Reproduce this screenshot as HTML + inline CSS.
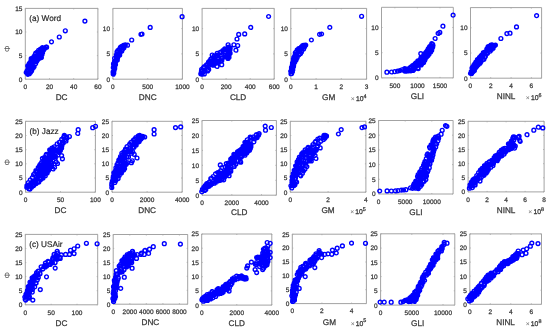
<!DOCTYPE html>
<html><head><meta charset="utf-8"><title>Figure</title>
<style>html,body{margin:0;padding:0;background:#fff;overflow:hidden}svg{display:block}</style>
</head><body>
<svg width="550" height="332" viewBox="0 0 550 332">
<rect width="550" height="332" fill="#fff"/>
<path d="M25.3 8.4H97.9V79.2H25.3ZM112.9 8.4H182.4V79.2H112.9ZM202.1 8.4H274.2V79.2H202.1ZM290.8 8.4H366.6V79.2H290.8ZM381.5 7.3H453.3V77.9H381.5ZM470.5 7.6H541.6V78.2H470.5ZM25.5 121.3H95.4V192.2H25.5ZM112 121.3H182.2V192.2H112ZM202 120.5H276.4V195.2H202ZM290.3 121.3H365.9V192.2H290.3ZM378.6 120.5H453.1V194H378.6ZM468.1 121.3H544.1V191.9H468.1ZM25.3 234.4H97.7V304.8H25.3ZM113.2 234.5H187.7V304.2H113.2ZM201.7 234H271.8V305.1H201.7ZM292.3 234.2H366.4V303.6H292.3ZM380.6 233.8H454.8V305.1H380.6ZM469.8 233.9H541.5V304.3H469.8Z" fill="none" stroke="#a3a3a3" stroke-width="1.0"/>
<path d="M25.3 79.2v-1.0M25.3 8.4v1.0M49.5 79.2v-1.0M49.5 8.4v1.0M73.7 79.2v-1.0M73.7 8.4v1.0M97.9 79.2v-1.0M97.9 8.4v1.0M25.3 79.2h1.0M97.9 79.2h-1.0M25.3 55.6h1.0M97.9 55.6h-1.0M25.3 32h1.0M97.9 32h-1.0M25.3 8.4h1.0M97.9 8.4h-1.0M112.9 79.2v-1.0M112.9 8.4v1.0M147.7 79.2v-1.0M147.7 8.4v1.0M182.4 79.2v-1.0M182.4 8.4v1.0M112.9 79.2h1.0M182.4 79.2h-1.0M112.9 53.9h1.0M182.4 53.9h-1.0M112.9 28.6h1.0M182.4 28.6h-1.0M202.1 79.2v-1.0M202.1 8.4v1.0M226.1 79.2v-1.0M226.1 8.4v1.0M250.2 79.2v-1.0M250.2 8.4v1.0M274.2 79.2v-1.0M274.2 8.4v1.0M202.1 79.2h1.0M274.2 79.2h-1.0M202.1 53.9h1.0M274.2 53.9h-1.0M202.1 28.6h1.0M274.2 28.6h-1.0M290.8 79.2v-1.0M290.8 8.4v1.0M316.1 79.2v-1.0M316.1 8.4v1.0M341.3 79.2v-1.0M341.3 8.4v1.0M366.6 79.2v-1.0M366.6 8.4v1.0M290.8 79.2h1.0M366.6 79.2h-1.0M290.8 53.9h1.0M366.6 53.9h-1.0M290.8 28.6h1.0M366.6 28.6h-1.0M394.9 77.9v-1.0M394.9 7.3v1.0M417.4 77.9v-1.0M417.4 7.3v1.0M440 77.9v-1.0M440 7.3v1.0M381.5 77.9h1.0M453.3 77.9h-1.0M381.5 52.7h1.0M453.3 52.7h-1.0M381.5 27.5h1.0M453.3 27.5h-1.0M470.4 78.2v-1.0M470.4 7.6v1.0M490.7 78.2v-1.0M490.7 7.6v1.0M511.1 78.2v-1.0M511.1 7.6v1.0M531.4 78.2v-1.0M531.4 7.6v1.0M470.5 78.2h1.0M541.6 78.2h-1.0M470.5 53h1.0M541.6 53h-1.0M470.5 27.8h1.0M541.6 27.8h-1.0M25.5 192.2v-1.0M25.5 121.3v1.0M60.5 192.2v-1.0M60.5 121.3v1.0M95.4 192.2v-1.0M95.4 121.3v1.0M25.5 192.2h1.0M95.4 192.2h-1.0M25.5 178h1.0M95.4 178h-1.0M25.5 163.8h1.0M95.4 163.8h-1.0M25.5 149.7h1.0M95.4 149.7h-1.0M25.5 135.5h1.0M95.4 135.5h-1.0M25.5 121.3h1.0M95.4 121.3h-1.0M112 192.2v-1.0M112 121.3v1.0M147.1 192.2v-1.0M147.1 121.3v1.0M182.2 192.2v-1.0M182.2 121.3v1.0M112 192.2h1.0M182.2 192.2h-1.0M112 178h1.0M182.2 178h-1.0M112 163.8h1.0M182.2 163.8h-1.0M112 149.7h1.0M182.2 149.7h-1.0M112 135.5h1.0M182.2 135.5h-1.0M112 121.3h1.0M182.2 121.3h-1.0M202 195.2v-1.0M202 120.5v1.0M231.8 195.2v-1.0M231.8 120.5v1.0M261.5 195.2v-1.0M261.5 120.5v1.0M202 195.2h1.0M276.4 195.2h-1.0M202 180.3h1.0M276.4 180.3h-1.0M202 165.3h1.0M276.4 165.3h-1.0M202 150.4h1.0M276.4 150.4h-1.0M202 135.4h1.0M276.4 135.4h-1.0M202 120.5h1.0M276.4 120.5h-1.0M290.3 192.2v-1.0M290.3 121.3v1.0M328.1 192.2v-1.0M328.1 121.3v1.0M365.9 192.2v-1.0M365.9 121.3v1.0M290.3 192.2h1.0M365.9 192.2h-1.0M290.3 178h1.0M365.9 178h-1.0M290.3 163.8h1.0M365.9 163.8h-1.0M290.3 149.7h1.0M365.9 149.7h-1.0M290.3 135.5h1.0M365.9 135.5h-1.0M290.3 121.3h1.0M365.9 121.3h-1.0M378.6 194v-1.0M378.6 120.5v1.0M405.2 194v-1.0M405.2 120.5v1.0M431.8 194v-1.0M431.8 120.5v1.0M378.6 194h1.0M453.1 194h-1.0M378.6 179.3h1.0M453.1 179.3h-1.0M378.6 164.6h1.0M453.1 164.6h-1.0M378.6 149.9h1.0M453.1 149.9h-1.0M378.6 135.2h1.0M453.1 135.2h-1.0M378.6 120.5h1.0M453.1 120.5h-1.0M468.1 191.9v-1.0M468.1 121.3v1.0M487.1 191.9v-1.0M487.1 121.3v1.0M506.1 191.9v-1.0M506.1 121.3v1.0M525.1 191.9v-1.0M525.1 121.3v1.0M544.1 191.9v-1.0M544.1 121.3v1.0M468.1 191.9h1.0M544.1 191.9h-1.0M468.1 177.8h1.0M544.1 177.8h-1.0M468.1 163.7h1.0M544.1 163.7h-1.0M468.1 149.5h1.0M544.1 149.5h-1.0M468.1 135.4h1.0M544.1 135.4h-1.0M468.1 121.3h1.0M544.1 121.3h-1.0M25.3 304.8v-1.0M25.3 234.4v1.0M51.2 304.8v-1.0M51.2 234.4v1.0M77 304.8v-1.0M77 234.4v1.0M25.3 304.8h1.0M97.7 304.8h-1.0M25.3 290.7h1.0M97.7 290.7h-1.0M25.3 276.6h1.0M97.7 276.6h-1.0M25.3 262.6h1.0M97.7 262.6h-1.0M25.3 248.5h1.0M97.7 248.5h-1.0M25.3 234.4h1.0M97.7 234.4h-1.0M113.2 304.2v-1.0M113.2 234.5v1.0M129.8 304.2v-1.0M129.8 234.5v1.0M146.3 304.2v-1.0M146.3 234.5v1.0M162.9 304.2v-1.0M162.9 234.5v1.0M179.4 304.2v-1.0M179.4 234.5v1.0M113.2 304.2h1.0M187.7 304.2h-1.0M113.2 290.3h1.0M187.7 290.3h-1.0M113.2 276.3h1.0M187.7 276.3h-1.0M113.2 262.4h1.0M187.7 262.4h-1.0M113.2 248.4h1.0M187.7 248.4h-1.0M113.2 234.5h1.0M187.7 234.5h-1.0M201.7 305.1v-1.0M201.7 234v1.0M236.8 305.1v-1.0M236.8 234v1.0M271.8 305.1v-1.0M271.8 234v1.0M201.7 305.1h1.0M271.8 305.1h-1.0M201.7 290.9h1.0M271.8 290.9h-1.0M201.7 276.7h1.0M271.8 276.7h-1.0M201.7 262.4h1.0M271.8 262.4h-1.0M201.7 248.2h1.0M271.8 248.2h-1.0M201.7 234h1.0M271.8 234h-1.0M292.3 303.6v-1.0M292.3 234.2v1.0M321.9 303.6v-1.0M321.9 234.2v1.0M351.6 303.6v-1.0M351.6 234.2v1.0M292.3 303.6h1.0M366.4 303.6h-1.0M292.3 289.7h1.0M366.4 289.7h-1.0M292.3 275.8h1.0M366.4 275.8h-1.0M292.3 262h1.0M366.4 262h-1.0M292.3 248.1h1.0M366.4 248.1h-1.0M292.3 234.2h1.0M366.4 234.2h-1.0M380.6 305.1v-1.0M380.6 233.8v1.0M411.8 305.1v-1.0M411.8 233.8v1.0M443 305.1v-1.0M443 233.8v1.0M380.6 305.1h1.0M454.8 305.1h-1.0M380.6 290.8h1.0M454.8 290.8h-1.0M380.6 276.6h1.0M454.8 276.6h-1.0M380.6 262.3h1.0M454.8 262.3h-1.0M380.6 248.1h1.0M454.8 248.1h-1.0M380.6 233.8h1.0M454.8 233.8h-1.0M469.8 304.3v-1.0M469.8 233.9v1.0M490.3 304.3v-1.0M490.3 233.9v1.0M510.8 304.3v-1.0M510.8 233.9v1.0M531.3 304.3v-1.0M531.3 233.9v1.0M469.8 304.3h1.0M541.5 304.3h-1.0M469.8 290.2h1.0M541.5 290.2h-1.0M469.8 276.1h1.0M541.5 276.1h-1.0M469.8 262.1h1.0M541.5 262.1h-1.0M469.8 248h1.0M541.5 248h-1.0M469.8 233.9h1.0M541.5 233.9h-1.0" fill="none" stroke="#a3a3a3" stroke-width="0.8"/>
<g font-family="Liberation Sans, Arial, Helvetica, sans-serif" fill="#3a3a3a" stroke="#3a3a3a" stroke-width="0.26" text-rendering="geometricPrecision">
<text x="25.3" y="89" font-size="6.5" text-anchor="middle">0</text>
<text x="49.5" y="89" font-size="6.5" text-anchor="middle">20</text>
<text x="73.7" y="89" font-size="6.5" text-anchor="middle">40</text>
<text x="97.9" y="89" font-size="6.5" text-anchor="middle">60</text>
<text x="22.4" y="81.5" font-size="6.5" text-anchor="end">0</text>
<text x="22.4" y="58" font-size="6.5" text-anchor="end">5</text>
<text x="22.4" y="34.4" font-size="6.5" text-anchor="end">10</text>
<text x="22.4" y="10.8" font-size="6.5" text-anchor="end">15</text>
<text x="61.6" y="100.1" font-size="8.2" text-anchor="middle">DC</text>
<text x="29.3" y="20.6" font-size="8.2" fill="#262626" stroke="#262626" stroke-width="0.18">(a) Word</text>
<text x="0" y="0" font-size="8.2" text-anchor="middle" stroke="none" fill="#555" transform="translate(10.2 48.7) rotate(-90)">Φ</text>
<text x="112.9" y="89" font-size="6.5" text-anchor="middle">0</text>
<text x="147.7" y="89" font-size="6.5" text-anchor="middle">500</text>
<text x="182.4" y="89" font-size="6.5" text-anchor="middle">1000</text>
<text x="110" y="81.5" font-size="6.5" text-anchor="end">0</text>
<text x="110" y="56.3" font-size="6.5" text-anchor="end">5</text>
<text x="110" y="31" font-size="6.5" text-anchor="end">10</text>
<text x="147.7" y="100.1" font-size="8.2" text-anchor="middle">DNC</text>
<text x="202.1" y="89" font-size="6.5" text-anchor="middle">0</text>
<text x="226.1" y="89" font-size="6.5" text-anchor="middle">200</text>
<text x="250.2" y="89" font-size="6.5" text-anchor="middle">400</text>
<text x="274.2" y="89" font-size="6.5" text-anchor="middle">600</text>
<text x="199.2" y="81.5" font-size="6.5" text-anchor="end">0</text>
<text x="199.2" y="56.3" font-size="6.5" text-anchor="end">5</text>
<text x="199.2" y="31" font-size="6.5" text-anchor="end">10</text>
<text x="238.1" y="100.1" font-size="8.2" text-anchor="middle">CLD</text>
<text x="290.8" y="89" font-size="6.5" text-anchor="middle">0</text>
<text x="316.1" y="89" font-size="6.5" text-anchor="middle">1</text>
<text x="341.3" y="89" font-size="6.5" text-anchor="middle">2</text>
<text x="366.6" y="89" font-size="6.5" text-anchor="middle">3</text>
<text x="287.9" y="81.5" font-size="6.5" text-anchor="end">0</text>
<text x="287.9" y="56.3" font-size="6.5" text-anchor="end">5</text>
<text x="287.9" y="31" font-size="6.5" text-anchor="end">10</text>
<text x="328.7" y="100.1" font-size="8.2" text-anchor="middle">GM</text>
<text x="366.5" y="101.2" font-size="6.8" text-anchor="end"><tspan stroke="none" fill="#555">×</tspan><tspan dx="1.1">10</tspan><tspan font-size="5.4" dy="-3.4">4</tspan></text>
<text x="394.9" y="87.7" font-size="6.5" text-anchor="middle">500</text>
<text x="417.4" y="87.7" font-size="6.5" text-anchor="middle">1000</text>
<text x="440" y="87.7" font-size="6.5" text-anchor="middle">1500</text>
<text x="378.6" y="80.2" font-size="6.5" text-anchor="end">0</text>
<text x="378.6" y="55" font-size="6.5" text-anchor="end">5</text>
<text x="378.6" y="29.8" font-size="6.5" text-anchor="end">10</text>
<text x="417.4" y="98.8" font-size="8.2" text-anchor="middle">GLI</text>
<text x="470.4" y="88" font-size="6.5" text-anchor="middle">0</text>
<text x="490.7" y="88" font-size="6.5" text-anchor="middle">2</text>
<text x="511.1" y="88" font-size="6.5" text-anchor="middle">4</text>
<text x="531.4" y="88" font-size="6.5" text-anchor="middle">6</text>
<text x="467.6" y="80.5" font-size="6.5" text-anchor="end">0</text>
<text x="467.6" y="55.3" font-size="6.5" text-anchor="end">5</text>
<text x="467.6" y="30.1" font-size="6.5" text-anchor="end">10</text>
<text x="506.1" y="99.1" font-size="8.2" text-anchor="middle">NINL</text>
<text x="541.5" y="100.2" font-size="6.8" text-anchor="end"><tspan stroke="none" fill="#555">×</tspan><tspan dx="1.1">10</tspan><tspan font-size="5.4" dy="-3.4">6</tspan></text>
<text x="25.5" y="202" font-size="6.5" text-anchor="middle">0</text>
<text x="60.5" y="202" font-size="6.5" text-anchor="middle">50</text>
<text x="95.4" y="202" font-size="6.5" text-anchor="middle">100</text>
<text x="22.6" y="194.5" font-size="6.5" text-anchor="end">0</text>
<text x="22.6" y="180.4" font-size="6.5" text-anchor="end">5</text>
<text x="22.6" y="166.2" font-size="6.5" text-anchor="end">10</text>
<text x="22.6" y="152" font-size="6.5" text-anchor="end">15</text>
<text x="22.6" y="137.8" font-size="6.5" text-anchor="end">20</text>
<text x="22.6" y="123.6" font-size="6.5" text-anchor="end">25</text>
<text x="60.5" y="213.1" font-size="8.2" text-anchor="middle">DC</text>
<text x="29.5" y="133.5" font-size="8.2" fill="#262626" stroke="#262626" stroke-width="0.18">(b) Jazz</text>
<text x="0" y="0" font-size="8.2" text-anchor="middle" stroke="none" fill="#555" transform="translate(10.2 162.2) rotate(-90)">Φ</text>
<text x="112" y="202" font-size="6.5" text-anchor="middle">0</text>
<text x="147.1" y="202" font-size="6.5" text-anchor="middle">2000</text>
<text x="182.2" y="202" font-size="6.5" text-anchor="middle">4000</text>
<text x="109.1" y="194.5" font-size="6.5" text-anchor="end">0</text>
<text x="109.1" y="180.4" font-size="6.5" text-anchor="end">5</text>
<text x="109.1" y="166.2" font-size="6.5" text-anchor="end">10</text>
<text x="109.1" y="152" font-size="6.5" text-anchor="end">15</text>
<text x="109.1" y="137.8" font-size="6.5" text-anchor="end">20</text>
<text x="109.1" y="123.6" font-size="6.5" text-anchor="end">25</text>
<text x="147.1" y="213.1" font-size="8.2" text-anchor="middle">DNC</text>
<text x="202" y="205" font-size="6.5" text-anchor="middle">0</text>
<text x="231.8" y="205" font-size="6.5" text-anchor="middle">2000</text>
<text x="261.5" y="205" font-size="6.5" text-anchor="middle">4000</text>
<text x="199.1" y="197.5" font-size="6.5" text-anchor="end">0</text>
<text x="199.1" y="182.6" font-size="6.5" text-anchor="end">5</text>
<text x="199.1" y="167.7" font-size="6.5" text-anchor="end">10</text>
<text x="199.1" y="152.7" font-size="6.5" text-anchor="end">15</text>
<text x="199.1" y="137.8" font-size="6.5" text-anchor="end">20</text>
<text x="199.1" y="122.8" font-size="6.5" text-anchor="end">25</text>
<text x="239.2" y="214.5" font-size="8.2" text-anchor="middle">CLD</text>
<text x="290.3" y="202" font-size="6.5" text-anchor="middle">0</text>
<text x="328.1" y="202" font-size="6.5" text-anchor="middle">2</text>
<text x="365.9" y="202" font-size="6.5" text-anchor="middle">4</text>
<text x="287.4" y="194.5" font-size="6.5" text-anchor="end">0</text>
<text x="287.4" y="180.4" font-size="6.5" text-anchor="end">5</text>
<text x="287.4" y="166.2" font-size="6.5" text-anchor="end">10</text>
<text x="287.4" y="152" font-size="6.5" text-anchor="end">15</text>
<text x="287.4" y="137.8" font-size="6.5" text-anchor="end">20</text>
<text x="287.4" y="123.6" font-size="6.5" text-anchor="end">25</text>
<text x="328.1" y="213.1" font-size="8.2" text-anchor="middle">GM</text>
<text x="365.8" y="214.2" font-size="6.8" text-anchor="end"><tspan stroke="none" fill="#555">×</tspan><tspan dx="1.1">10</tspan><tspan font-size="5.4" dy="-3.4">5</tspan></text>
<text x="378.6" y="203.8" font-size="6.5" text-anchor="middle">0</text>
<text x="405.2" y="203.8" font-size="6.5" text-anchor="middle">5000</text>
<text x="431.8" y="203.8" font-size="6.5" text-anchor="middle">10000</text>
<text x="375.7" y="196.3" font-size="6.5" text-anchor="end">0</text>
<text x="375.7" y="181.7" font-size="6.5" text-anchor="end">5</text>
<text x="375.7" y="166.9" font-size="6.5" text-anchor="end">10</text>
<text x="375.7" y="152.2" font-size="6.5" text-anchor="end">15</text>
<text x="375.7" y="137.5" font-size="6.5" text-anchor="end">20</text>
<text x="375.7" y="122.8" font-size="6.5" text-anchor="end">25</text>
<text x="415.9" y="214.9" font-size="8.2" text-anchor="middle">GLI</text>
<text x="468.1" y="201.7" font-size="6.5" text-anchor="middle">0</text>
<text x="487.1" y="201.7" font-size="6.5" text-anchor="middle">2</text>
<text x="506.1" y="201.7" font-size="6.5" text-anchor="middle">4</text>
<text x="525.1" y="201.7" font-size="6.5" text-anchor="middle">6</text>
<text x="544.1" y="201.7" font-size="6.5" text-anchor="middle">8</text>
<text x="465.2" y="194.2" font-size="6.5" text-anchor="end">0</text>
<text x="465.2" y="180.1" font-size="6.5" text-anchor="end">5</text>
<text x="465.2" y="166" font-size="6.5" text-anchor="end">10</text>
<text x="465.2" y="151.9" font-size="6.5" text-anchor="end">15</text>
<text x="465.2" y="137.8" font-size="6.5" text-anchor="end">20</text>
<text x="465.2" y="123.6" font-size="6.5" text-anchor="end">25</text>
<text x="506.1" y="212.8" font-size="8.2" text-anchor="middle">NINL</text>
<text x="544" y="213.9" font-size="6.8" text-anchor="end"><tspan stroke="none" fill="#555">×</tspan><tspan dx="1.1">10</tspan><tspan font-size="5.4" dy="-3.4">8</tspan></text>
<text x="25.3" y="314.6" font-size="6.5" text-anchor="middle">0</text>
<text x="51.2" y="314.6" font-size="6.5" text-anchor="middle">50</text>
<text x="77" y="314.6" font-size="6.5" text-anchor="middle">100</text>
<text x="22.4" y="307.2" font-size="6.5" text-anchor="end">0</text>
<text x="22.4" y="293.1" font-size="6.5" text-anchor="end">5</text>
<text x="22.4" y="279" font-size="6.5" text-anchor="end">10</text>
<text x="22.4" y="264.9" font-size="6.5" text-anchor="end">15</text>
<text x="22.4" y="250.8" font-size="6.5" text-anchor="end">20</text>
<text x="22.4" y="236.8" font-size="6.5" text-anchor="end">25</text>
<text x="61.5" y="325.7" font-size="8.2" text-anchor="middle">DC</text>
<text x="29.3" y="246.6" font-size="8.2" fill="#262626" stroke="#262626" stroke-width="0.18">(c) USAir</text>
<text x="0" y="0" font-size="8.2" text-anchor="middle" stroke="none" fill="#555" transform="translate(10.2 275.3) rotate(-90)">Φ</text>
<text x="113.2" y="314" font-size="6.5" text-anchor="middle">0</text>
<text x="129.8" y="314" font-size="6.5" text-anchor="middle">2000</text>
<text x="146.3" y="314" font-size="6.5" text-anchor="middle">4000</text>
<text x="162.9" y="314" font-size="6.5" text-anchor="middle">6000</text>
<text x="179.4" y="314" font-size="6.5" text-anchor="middle">8000</text>
<text x="110.3" y="306.6" font-size="6.5" text-anchor="end">0</text>
<text x="110.3" y="292.6" font-size="6.5" text-anchor="end">5</text>
<text x="110.3" y="278.7" font-size="6.5" text-anchor="end">10</text>
<text x="110.3" y="264.7" font-size="6.5" text-anchor="end">15</text>
<text x="110.3" y="250.8" font-size="6.5" text-anchor="end">20</text>
<text x="110.3" y="236.8" font-size="6.5" text-anchor="end">25</text>
<text x="150.4" y="325.1" font-size="8.2" text-anchor="middle">DNC</text>
<text x="201.7" y="314.9" font-size="6.5" text-anchor="middle">0</text>
<text x="236.8" y="314.9" font-size="6.5" text-anchor="middle">2000</text>
<text x="271.8" y="314.9" font-size="6.5" text-anchor="middle">4000</text>
<text x="198.8" y="307.5" font-size="6.5" text-anchor="end">0</text>
<text x="198.8" y="293.2" font-size="6.5" text-anchor="end">5</text>
<text x="198.8" y="279" font-size="6.5" text-anchor="end">10</text>
<text x="198.8" y="264.8" font-size="6.5" text-anchor="end">15</text>
<text x="198.8" y="250.6" font-size="6.5" text-anchor="end">20</text>
<text x="198.8" y="236.3" font-size="6.5" text-anchor="end">25</text>
<text x="236.8" y="326" font-size="8.2" text-anchor="middle">CLD</text>
<text x="292.3" y="313.4" font-size="6.5" text-anchor="middle">0</text>
<text x="321.9" y="313.4" font-size="6.5" text-anchor="middle">2</text>
<text x="351.6" y="313.4" font-size="6.5" text-anchor="middle">4</text>
<text x="289.4" y="306" font-size="6.5" text-anchor="end">0</text>
<text x="289.4" y="292.1" font-size="6.5" text-anchor="end">5</text>
<text x="289.4" y="278.2" font-size="6.5" text-anchor="end">10</text>
<text x="289.4" y="264.3" font-size="6.5" text-anchor="end">15</text>
<text x="289.4" y="250.4" font-size="6.5" text-anchor="end">20</text>
<text x="289.4" y="236.5" font-size="6.5" text-anchor="end">25</text>
<text x="329.4" y="324.5" font-size="8.2" text-anchor="middle">GM</text>
<text x="366.3" y="325.6" font-size="6.8" text-anchor="end"><tspan stroke="none" fill="#555">×</tspan><tspan dx="1.1">10</tspan><tspan font-size="5.4" dy="-3.4">5</tspan></text>
<text x="380.6" y="314.9" font-size="6.5" text-anchor="middle">0</text>
<text x="411.8" y="314.9" font-size="6.5" text-anchor="middle">5000</text>
<text x="443" y="314.9" font-size="6.5" text-anchor="middle">10000</text>
<text x="377.7" y="307.5" font-size="6.5" text-anchor="end">0</text>
<text x="377.7" y="293.2" font-size="6.5" text-anchor="end">5</text>
<text x="377.7" y="278.9" font-size="6.5" text-anchor="end">10</text>
<text x="377.7" y="264.7" font-size="6.5" text-anchor="end">15</text>
<text x="377.7" y="250.4" font-size="6.5" text-anchor="end">20</text>
<text x="377.7" y="236.2" font-size="6.5" text-anchor="end">25</text>
<text x="417.7" y="326" font-size="8.2" text-anchor="middle">GLI</text>
<text x="469.8" y="314.1" font-size="6.5" text-anchor="middle">0</text>
<text x="490.3" y="314.1" font-size="6.5" text-anchor="middle">2</text>
<text x="510.8" y="314.1" font-size="6.5" text-anchor="middle">4</text>
<text x="531.3" y="314.1" font-size="6.5" text-anchor="middle">6</text>
<text x="466.9" y="306.7" font-size="6.5" text-anchor="end">0</text>
<text x="466.9" y="292.6" font-size="6.5" text-anchor="end">5</text>
<text x="466.9" y="278.5" font-size="6.5" text-anchor="end">10</text>
<text x="466.9" y="264.4" font-size="6.5" text-anchor="end">15</text>
<text x="466.9" y="250.3" font-size="6.5" text-anchor="end">20</text>
<text x="466.9" y="236.2" font-size="6.5" text-anchor="end">25</text>
<text x="505.6" y="325.2" font-size="8.2" text-anchor="middle">NINL</text>
<text x="541.4" y="326.3" font-size="6.8" text-anchor="end"><tspan stroke="none" fill="#555">×</tspan><tspan dx="1.1">10</tspan><tspan font-size="5.4" dy="-3.4">8</tspan></text>
</g>
<path d="M27.4 73.9 L27.9 73.9 L29.5 72.3 L32.9 67.7 L35.3 63.1 L35.4 63 L37.8 58.8 L37.9 58.6 L38 58.5 L38.2 58.3 L38.4 58.2 L38.5 58 L38.7 57.9 L41.3 56.7 L41.7 53 L41.8 52.8 L41.8 52.6 L41.9 52.3 L43.7 48.6 L43.8 48.5 L43.9 48.3 L44 48.2 L44.2 48 L44.3 47.9 L44.7 47.6 L43.8 47.6 L41 49 L36.5 53.4 L33 58.1 L29.5 64 L27.4 68.2 L27.4 73.9ZM113.4 71.6 L113.7 70.7 L116.1 61.2 L116.1 61 L117.3 57.4 L117.4 57.2 L117.5 57.1 L119.4 53.5 L119.5 53.3 L121.9 49.6 L124.1 46 L124.3 45.9 L124.4 45.7 L121.4 47.2 L119.4 49.7 L117.2 52.9 L116.1 57.4 L116.1 57.4 L114.4 64.5 L113.6 69.2 L113.4 71.6ZM200.5 73 L203 73 L207 69.5 L211 65.5 L215 61 L217 56 L214 58 L211 61.5 L207 65.5 L203 69 L200.5 73ZM292.1 69 L292.9 66 L292.9 65.7 L294.7 60.9 L294.9 60.7 L296.8 57.1 L296.9 56.9 L297 56.7 L299.9 53.2 L302.3 49.6 L302.3 49.6 L304.7 46 L304.7 45.9 L305.1 45.4 L303.8 45.7 L300.7 47.7 L298.5 49.8 L296.4 53 L294.7 57.6 L293 63.4 L292.1 69ZM404.6 71 L405.6 71.4 L408.8 71 L413.7 69.8 L418.2 68.1 L422.2 63.5 L425.3 58.6 L425.3 58.4 L425.4 58.3 L428.5 54.6 L431.6 49.9 L433.2 45.5 L432.8 44.2 L432.6 44 L431.3 45 L428.3 49.2 L428.2 49.2 L424.4 54.3 L424.3 54.5 L419.3 59.6 L419.3 59.6 L415.5 63.3 L415.4 63.3 L410.3 67.8 L410.2 67.9 L410 68 L409.9 68.1 L409.8 68.2 L404.6 70.2 L404.6 71ZM470.8 72.3 L471 72.9 L471 72.9 L473.2 70.7 L476.9 65.8 L477 65.7 L481.4 60.6 L485.1 55.7 L485.2 55.6 L488.3 51.8 L488.4 51.6 L492.2 47.9 L494.2 45.5 L494 45.3 L491.9 45.3 L488.5 47.2 L485.6 51.9 L485.4 52.1 L485.3 52.2 L485.1 52.4 L481.5 55.3 L478.6 59.5 L475.5 64.5 L475.4 64.6 L471.8 69.4 L470.8 72.3ZM29.3 185.9 L32.1 183.8 L36.5 180.4 L40.3 177.1 L43.9 173.4 L46 170.6 L47.8 166 L47.8 166 L50.1 160.5 L50.3 160.1 L50.5 159.8 L50.7 159.4 L54.6 154.8 L58 150.6 L59.8 145 L57.5 147.5 L57.3 147.7 L57 147.9 L56.7 148.1 L53.2 150.3 L50.5 152.9 L44.8 160.1 L42.6 165.1 L42.4 165.4 L42.2 165.7 L39.2 170.3 L36.8 174.2 L33.8 179.6 L33.6 179.9 L33.4 180.1 L33.2 180.4 L30 183.7 L29.3 185.9ZM115.5 177 L115.9 176.4 L115.9 176.4 L119.7 170.8 L123.2 165.4 L125.6 160.6 L126.5 155.6 L126.5 155.2 L126.7 154.8 L126.8 154.4 L127 154 L127.3 153.7 L127.6 153.4 L130.9 150 L132.4 147 L132.4 146.9 L134.3 143.2 L134.5 142.8 L134.8 142.5 L135.1 142.2 L137.8 139.5 L137.6 139.6 L133.3 143.1 L129.9 147.4 L127.1 151.1 L127 151.2 L123.6 155.5 L121 161.4 L115.6 175.9 L115.5 177ZM111 189 L113.5 189 L114 183 L116 175 L118 166 L115.5 165 L113 172 L111.3 180 L111 189ZM212.1 181.5 L222 176.5 L226.8 171.7 L232.1 165.1 L232.1 165.1 L237.5 158.4 L241.5 153 L241.7 152.8 L241.9 152.5 L245.1 149.5 L245.2 147 L243.6 148.5 L238.1 154.2 L238 154.2 L234.2 158 L230.3 163.2 L230 163.5 L229.7 163.8 L229.4 164.1 L225.8 166.5 L222.2 171.4 L221.9 171.7 L221.6 172.1 L217.7 175.3 L213.8 179.7 L213.7 179.9 L212.1 181.5ZM289.5 188 L292.5 188 L294 181 L296 173 L298.5 165 L302 157 L306 151 L307 147.5 L303 150.5 L299 156 L295.5 163 L292.5 171 L290.5 179 L289.5 188ZM415.1 186.1 L416.8 185.9 L419.9 183.5 L423.7 177.7 L428.2 162.3 L428.2 162.1 L430.5 155.4 L432.8 147.5 L432.8 147.3 L434.2 143.1 L433.3 144.7 L431.2 150 L428.9 156.6 L426.7 163.5 L426.6 163.8 L424.3 169.5 L424.1 169.9 L423.9 170.2 L419.6 176.8 L417.4 182.1 L417.3 182.4 L417.1 182.6 L415.1 186.1ZM470.1 188 L472.5 186.2 L478 180.7 L482.5 175.2 L486.9 169.5 L487.1 169.3 L496.1 160.3 L496.1 160.3 L500.7 155.8 L505.2 151.3 L505.5 151.1 L509.9 147.7 L510.1 147.6 L513.7 145.4 L511.5 142.5 L510.7 143.7 L510.5 143.9 L510.3 144.1 L505.9 148.5 L505.7 148.7 L505.5 148.9 L505.3 149 L501.2 151.1 L497 155.3 L493.7 159.6 L493.6 159.8 L493.4 160 L493.2 160.1 L488.8 163.5 L484.5 166.7 L481.3 171 L481.2 171 L476.6 176.7 L472.2 182.2 L469.5 186.8 L470.1 188ZM467.5 187 L469.5 190 L472.5 187 L477 181.5 L482 175.5 L486.5 168 L488 163 L484 166 L480 170.5 L476 175.5 L471 181.5 L467.5 187ZM23.5 300 L29 299 L31.5 294 L34 288 L36 282 L38 276 L36.5 271 L33 275 L30 279 L27 285 L24.5 292 L23.5 300ZM111 302.5 L115 302.5 L115.5 296 L116.3 290 L117 283 L117.5 276 L114 276 L112.5 282 L111.5 292 L111 302.5ZM203.7 299.5 L203.7 299.5 L205 299.5 L209.4 298.4 L214.4 294.6 L214.6 294.5 L214.9 294.3 L220.3 291.6 L225.2 289.2 L228.6 285.8 L229.3 284.3 L226.2 286.3 L220.9 290.3 L220.6 290.5 L220.3 290.6 L220 290.7 L219.7 290.8 L219.4 290.9 L214.8 291.5 L210 295.1 L209.8 295.2 L209.5 295.4 L206 297.1 L203.7 299.5ZM262.7 257.5 L262.3 262.8 L264 264.5 L265.6 264.1 L265.8 260 L265.6 256.2 L264.6 255.7 L262.7 257.5ZM290 302.5 L294.5 302.5 L295.5 298 L296 292 L296.5 284 L297 277 L293.5 278 L292 284 L290.7 292 L290 302.5ZM408.9 300.2 L413.6 299.8 L415.3 297.3 L417 292 L416 293.6 L415.8 293.8 L412.4 297.9 L412.2 298.2 L412 298.3 L411.7 298.5 L411.5 298.7 L408.9 300.2ZM433.4 261.5 L434.1 260.4 L435.8 257 L434.3 259.2 L433.4 261.5ZM470.2 298.9 L472.5 296.1 L472.7 295.8 L477.6 290.9 L480 287.4 L480 287.5 L479.8 287.7 L473.7 293.8 L469.8 298.5 L470.2 298.9ZM485.3 281.1 L488 278.5 L488.3 278.2 L492.1 275.4 L488.9 276.6 L485.3 281.1ZM504 263.6 L504.1 263.6 L504.8 263.2 L504.2 263.4 L504 263.6Z" fill="#0000ff"/>
<path d="M25.8 74.2a1.9 1.9 0 1 0 3.8 0a1.9 1.9 0 1 0 -3.8 0M27.4 73.7a1.9 1.9 0 1 0 3.8 0a1.9 1.9 0 1 0 -3.8 0M28.6 72.3a1.9 1.9 0 1 0 3.8 0a1.9 1.9 0 1 0 -3.8 0M29.7 70.7a1.9 1.9 0 1 0 3.8 0a1.9 1.9 0 1 0 -3.8 0M30.6 68.2a1.9 1.9 0 1 0 3.8 0a1.9 1.9 0 1 0 -3.8 0M31.5 67.6a1.9 1.9 0 1 0 3.8 0a1.9 1.9 0 1 0 -3.8 0M33.7 63.5a1.9 1.9 0 1 0 3.8 0a1.9 1.9 0 1 0 -3.8 0M34.8 61.4a1.9 1.9 0 1 0 3.8 0a1.9 1.9 0 1 0 -3.8 0M35.5 60.2a1.9 1.9 0 1 0 3.8 0a1.9 1.9 0 1 0 -3.8 0M36.9 58.6a1.9 1.9 0 1 0 3.8 0a1.9 1.9 0 1 0 -3.8 0M39.5 57.7a1.9 1.9 0 1 0 3.8 0a1.9 1.9 0 1 0 -3.8 0M40.1 54.5a1.9 1.9 0 1 0 3.8 0a1.9 1.9 0 1 0 -3.8 0M40.7 52.6a1.9 1.9 0 1 0 3.8 0a1.9 1.9 0 1 0 -3.8 0M41.9 49.9a1.9 1.9 0 1 0 3.8 0a1.9 1.9 0 1 0 -3.8 0M43 48.1a1.9 1.9 0 1 0 3.8 0a1.9 1.9 0 1 0 -3.8 0M44.2 47a1.9 1.9 0 1 0 3.8 0a1.9 1.9 0 1 0 -3.8 0M40.5 47.7a1.9 1.9 0 1 0 3.8 0a1.9 1.9 0 1 0 -3.8 0M38.5 49.1a1.9 1.9 0 1 0 3.8 0a1.9 1.9 0 1 0 -3.8 0M36.7 50.3a1.9 1.9 0 1 0 3.8 0a1.9 1.9 0 1 0 -3.8 0M35.2 52a1.9 1.9 0 1 0 3.8 0a1.9 1.9 0 1 0 -3.8 0M33.8 53a1.9 1.9 0 1 0 3.8 0a1.9 1.9 0 1 0 -3.8 0M33.4 54.3a1.9 1.9 0 1 0 3.8 0a1.9 1.9 0 1 0 -3.8 0M32.1 56.3a1.9 1.9 0 1 0 3.8 0a1.9 1.9 0 1 0 -3.8 0M29.3 58.5a1.9 1.9 0 1 0 3.8 0a1.9 1.9 0 1 0 -3.8 0M28.6 62a1.9 1.9 0 1 0 3.8 0a1.9 1.9 0 1 0 -3.8 0M27.4 63.4a1.9 1.9 0 1 0 3.8 0a1.9 1.9 0 1 0 -3.8 0M26.5 65.4a1.9 1.9 0 1 0 3.8 0a1.9 1.9 0 1 0 -3.8 0M25.8 65.9a1.9 1.9 0 1 0 3.8 0a1.9 1.9 0 1 0 -3.8 0M25 71.2a1.9 1.9 0 1 0 3.8 0a1.9 1.9 0 1 0 -3.8 0M24.3 72.5a1.9 1.9 0 1 0 3.8 0a1.9 1.9 0 1 0 -3.8 0M29.8 69.2a1.9 1.9 0 1 0 3.8 0a1.9 1.9 0 1 0 -3.8 0M31.4 58a1.9 1.9 0 1 0 3.8 0a1.9 1.9 0 1 0 -3.8 0M41.3 50.1a1.9 1.9 0 1 0 3.8 0a1.9 1.9 0 1 0 -3.8 0M37.3 52.1a1.9 1.9 0 1 0 3.8 0a1.9 1.9 0 1 0 -3.8 0M39.1 50.1a1.9 1.9 0 1 0 3.8 0a1.9 1.9 0 1 0 -3.8 0M42.8 48.3a1.9 1.9 0 1 0 3.8 0a1.9 1.9 0 1 0 -3.8 0M28.6 62.6a1.9 1.9 0 1 0 3.8 0a1.9 1.9 0 1 0 -3.8 0M28.1 65.6a1.9 1.9 0 1 0 3.8 0a1.9 1.9 0 1 0 -3.8 0M36.8 52.3a1.9 1.9 0 1 0 3.8 0a1.9 1.9 0 1 0 -3.8 0M41.6 48.4a1.9 1.9 0 1 0 3.8 0a1.9 1.9 0 1 0 -3.8 0M27.1 64.2a1.9 1.9 0 1 0 3.8 0a1.9 1.9 0 1 0 -3.8 0M27.4 68.1a1.9 1.9 0 1 0 3.8 0a1.9 1.9 0 1 0 -3.8 0M31.3 66.9a1.9 1.9 0 1 0 3.8 0a1.9 1.9 0 1 0 -3.8 0M37.6 52.9a1.9 1.9 0 1 0 3.8 0a1.9 1.9 0 1 0 -3.8 0M27.5 65.2a1.9 1.9 0 1 0 3.8 0a1.9 1.9 0 1 0 -3.8 0M32.2 61.8a1.9 1.9 0 1 0 3.8 0a1.9 1.9 0 1 0 -3.8 0M31.3 59.6a1.9 1.9 0 1 0 3.8 0a1.9 1.9 0 1 0 -3.8 0M26.5 67.7a1.9 1.9 0 1 0 3.8 0a1.9 1.9 0 1 0 -3.8 0M36.2 55.2a1.9 1.9 0 1 0 3.8 0a1.9 1.9 0 1 0 -3.8 0M26.4 68a1.9 1.9 0 1 0 3.8 0a1.9 1.9 0 1 0 -3.8 0M37 52.1a1.9 1.9 0 1 0 3.8 0a1.9 1.9 0 1 0 -3.8 0M32.2 66.5a1.9 1.9 0 1 0 3.8 0a1.9 1.9 0 1 0 -3.8 0M26.8 67a1.9 1.9 0 1 0 3.8 0a1.9 1.9 0 1 0 -3.8 0M38.1 57.2a1.9 1.9 0 1 0 3.8 0a1.9 1.9 0 1 0 -3.8 0M39.7 52.2a1.9 1.9 0 1 0 3.8 0a1.9 1.9 0 1 0 -3.8 0M30.1 61.7a1.9 1.9 0 1 0 3.8 0a1.9 1.9 0 1 0 -3.8 0M37.4 52.1a1.9 1.9 0 1 0 3.8 0a1.9 1.9 0 1 0 -3.8 0M32.3 58.5a1.9 1.9 0 1 0 3.8 0a1.9 1.9 0 1 0 -3.8 0M25.6 70.2a1.9 1.9 0 1 0 3.8 0a1.9 1.9 0 1 0 -3.8 0M35.5 57.7a1.9 1.9 0 1 0 3.8 0a1.9 1.9 0 1 0 -3.8 0M27.6 67.9a1.9 1.9 0 1 0 3.8 0a1.9 1.9 0 1 0 -3.8 0M36.1 59.3a1.9 1.9 0 1 0 3.8 0a1.9 1.9 0 1 0 -3.8 0M39.5 52.2a1.9 1.9 0 1 0 3.8 0a1.9 1.9 0 1 0 -3.8 0M39.9 48.9a1.9 1.9 0 1 0 3.8 0a1.9 1.9 0 1 0 -3.8 0M26 74.4a1.9 1.9 0 1 0 3.8 0a1.9 1.9 0 1 0 -3.8 0M28.5 65.4a1.9 1.9 0 1 0 3.8 0a1.9 1.9 0 1 0 -3.8 0M30.1 61.5a1.9 1.9 0 1 0 3.8 0a1.9 1.9 0 1 0 -3.8 0M30.4 61.2a1.9 1.9 0 1 0 3.8 0a1.9 1.9 0 1 0 -3.8 0M29 60.9a1.9 1.9 0 1 0 3.8 0a1.9 1.9 0 1 0 -3.8 0M29.5 59.8a1.9 1.9 0 1 0 3.8 0a1.9 1.9 0 1 0 -3.8 0M39.7 51.6a1.9 1.9 0 1 0 3.8 0a1.9 1.9 0 1 0 -3.8 0M26.7 73.5a1.9 1.9 0 1 0 3.8 0a1.9 1.9 0 1 0 -3.8 0M30.4 69a1.9 1.9 0 1 0 3.8 0a1.9 1.9 0 1 0 -3.8 0M38 52.7a1.9 1.9 0 1 0 3.8 0a1.9 1.9 0 1 0 -3.8 0M26.2 67a1.9 1.9 0 1 0 3.8 0a1.9 1.9 0 1 0 -3.8 0M25.2 73.4a1.9 1.9 0 1 0 3.8 0a1.9 1.9 0 1 0 -3.8 0M34 58.2a1.9 1.9 0 1 0 3.8 0a1.9 1.9 0 1 0 -3.8 0M39.2 49.3a1.9 1.9 0 1 0 3.8 0a1.9 1.9 0 1 0 -3.8 0M43.1 48.1a1.9 1.9 0 1 0 3.8 0a1.9 1.9 0 1 0 -3.8 0M36.5 53.1a1.9 1.9 0 1 0 3.8 0a1.9 1.9 0 1 0 -3.8 0M28.7 71.2a1.9 1.9 0 1 0 3.8 0a1.9 1.9 0 1 0 -3.8 0M37.4 58.2a1.9 1.9 0 1 0 3.8 0a1.9 1.9 0 1 0 -3.8 0M35.8 57.9a1.9 1.9 0 1 0 3.8 0a1.9 1.9 0 1 0 -3.8 0M34.7 56.3a1.9 1.9 0 1 0 3.8 0a1.9 1.9 0 1 0 -3.8 0M31.8 59.3a1.9 1.9 0 1 0 3.8 0a1.9 1.9 0 1 0 -3.8 0M83 21.1a1.9 1.9 0 1 0 3.8 0a1.9 1.9 0 1 0 -3.8 0M63.4 30.8a1.9 1.9 0 1 0 3.8 0a1.9 1.9 0 1 0 -3.8 0M57.4 37a1.9 1.9 0 1 0 3.8 0a1.9 1.9 0 1 0 -3.8 0M49.6 41.8a1.9 1.9 0 1 0 3.8 0a1.9 1.9 0 1 0 -3.8 0M44.7 47.2a1.9 1.9 0 1 0 3.8 0a1.9 1.9 0 1 0 -3.8 0M111.3 74.2a1.9 1.9 0 1 0 3.8 0a1.9 1.9 0 1 0 -3.8 0M111.9 73.1a1.9 1.9 0 1 0 3.8 0a1.9 1.9 0 1 0 -3.8 0M112.1 70.4a1.9 1.9 0 1 0 3.8 0a1.9 1.9 0 1 0 -3.8 0M112.8 67.5a1.9 1.9 0 1 0 3.8 0a1.9 1.9 0 1 0 -3.8 0M112.6 66.5a1.9 1.9 0 1 0 3.8 0a1.9 1.9 0 1 0 -3.8 0M113.6 64.5a1.9 1.9 0 1 0 3.8 0a1.9 1.9 0 1 0 -3.8 0M115.4 59.9a1.9 1.9 0 1 0 3.8 0a1.9 1.9 0 1 0 -3.8 0M115.5 58.7a1.9 1.9 0 1 0 3.8 0a1.9 1.9 0 1 0 -3.8 0M116 56.8a1.9 1.9 0 1 0 3.8 0a1.9 1.9 0 1 0 -3.8 0M117.8 55a1.9 1.9 0 1 0 3.8 0a1.9 1.9 0 1 0 -3.8 0M118.1 53a1.9 1.9 0 1 0 3.8 0a1.9 1.9 0 1 0 -3.8 0M119.9 51a1.9 1.9 0 1 0 3.8 0a1.9 1.9 0 1 0 -3.8 0M120.7 49a1.9 1.9 0 1 0 3.8 0a1.9 1.9 0 1 0 -3.8 0M122 47.7a1.9 1.9 0 1 0 3.8 0a1.9 1.9 0 1 0 -3.8 0M122.4 46.1a1.9 1.9 0 1 0 3.8 0a1.9 1.9 0 1 0 -3.8 0M123.4 44.9a1.9 1.9 0 1 0 3.8 0a1.9 1.9 0 1 0 -3.8 0M121.5 45.3a1.9 1.9 0 1 0 3.8 0a1.9 1.9 0 1 0 -3.8 0M119.8 46.3a1.9 1.9 0 1 0 3.8 0a1.9 1.9 0 1 0 -3.8 0M118.5 47.3a1.9 1.9 0 1 0 3.8 0a1.9 1.9 0 1 0 -3.8 0M117 49.5a1.9 1.9 0 1 0 3.8 0a1.9 1.9 0 1 0 -3.8 0M115.9 50.6a1.9 1.9 0 1 0 3.8 0a1.9 1.9 0 1 0 -3.8 0M115.1 51.8a1.9 1.9 0 1 0 3.8 0a1.9 1.9 0 1 0 -3.8 0M114.7 54.5a1.9 1.9 0 1 0 3.8 0a1.9 1.9 0 1 0 -3.8 0M112.7 58.3a1.9 1.9 0 1 0 3.8 0a1.9 1.9 0 1 0 -3.8 0M112.6 61.3a1.9 1.9 0 1 0 3.8 0a1.9 1.9 0 1 0 -3.8 0M112.7 63.7a1.9 1.9 0 1 0 3.8 0a1.9 1.9 0 1 0 -3.8 0M111.6 63.9a1.9 1.9 0 1 0 3.8 0a1.9 1.9 0 1 0 -3.8 0M111.4 67.5a1.9 1.9 0 1 0 3.8 0a1.9 1.9 0 1 0 -3.8 0M111.2 72.7a1.9 1.9 0 1 0 3.8 0a1.9 1.9 0 1 0 -3.8 0M112.8 68.4a1.9 1.9 0 1 0 3.8 0a1.9 1.9 0 1 0 -3.8 0M112.6 68.9a1.9 1.9 0 1 0 3.8 0a1.9 1.9 0 1 0 -3.8 0M114.7 58.6a1.9 1.9 0 1 0 3.8 0a1.9 1.9 0 1 0 -3.8 0M114.9 53.8a1.9 1.9 0 1 0 3.8 0a1.9 1.9 0 1 0 -3.8 0M122.3 46.7a1.9 1.9 0 1 0 3.8 0a1.9 1.9 0 1 0 -3.8 0M121.6 46.9a1.9 1.9 0 1 0 3.8 0a1.9 1.9 0 1 0 -3.8 0M113.6 62a1.9 1.9 0 1 0 3.8 0a1.9 1.9 0 1 0 -3.8 0M117.8 49.6a1.9 1.9 0 1 0 3.8 0a1.9 1.9 0 1 0 -3.8 0M114.6 55.7a1.9 1.9 0 1 0 3.8 0a1.9 1.9 0 1 0 -3.8 0M118.8 47.9a1.9 1.9 0 1 0 3.8 0a1.9 1.9 0 1 0 -3.8 0M112.4 68.6a1.9 1.9 0 1 0 3.8 0a1.9 1.9 0 1 0 -3.8 0M112.8 65.8a1.9 1.9 0 1 0 3.8 0a1.9 1.9 0 1 0 -3.8 0M111.2 71.9a1.9 1.9 0 1 0 3.8 0a1.9 1.9 0 1 0 -3.8 0M119.5 46.7a1.9 1.9 0 1 0 3.8 0a1.9 1.9 0 1 0 -3.8 0M114.6 58.1a1.9 1.9 0 1 0 3.8 0a1.9 1.9 0 1 0 -3.8 0M116.6 55.8a1.9 1.9 0 1 0 3.8 0a1.9 1.9 0 1 0 -3.8 0M111.6 67a1.9 1.9 0 1 0 3.8 0a1.9 1.9 0 1 0 -3.8 0M116.1 54.3a1.9 1.9 0 1 0 3.8 0a1.9 1.9 0 1 0 -3.8 0M119.9 50.2a1.9 1.9 0 1 0 3.8 0a1.9 1.9 0 1 0 -3.8 0M112.3 65.4a1.9 1.9 0 1 0 3.8 0a1.9 1.9 0 1 0 -3.8 0M114.4 55a1.9 1.9 0 1 0 3.8 0a1.9 1.9 0 1 0 -3.8 0M113 65.6a1.9 1.9 0 1 0 3.8 0a1.9 1.9 0 1 0 -3.8 0M115.6 54.4a1.9 1.9 0 1 0 3.8 0a1.9 1.9 0 1 0 -3.8 0M119.9 47.5a1.9 1.9 0 1 0 3.8 0a1.9 1.9 0 1 0 -3.8 0M112.6 63.5a1.9 1.9 0 1 0 3.8 0a1.9 1.9 0 1 0 -3.8 0M180.2 16.7a1.9 1.9 0 1 0 3.8 0a1.9 1.9 0 1 0 -3.8 0M148.3 27.4a1.9 1.9 0 1 0 3.8 0a1.9 1.9 0 1 0 -3.8 0M139.1 34.3a1.9 1.9 0 1 0 3.8 0a1.9 1.9 0 1 0 -3.8 0M140.1 34a1.9 1.9 0 1 0 3.8 0a1.9 1.9 0 1 0 -3.8 0M129.8 40a1.9 1.9 0 1 0 3.8 0a1.9 1.9 0 1 0 -3.8 0M125.6 45.2a1.9 1.9 0 1 0 3.8 0a1.9 1.9 0 1 0 -3.8 0M198.9 73.8a1.9 1.9 0 1 0 3.8 0a1.9 1.9 0 1 0 -3.8 0M202.4 73.9a1.9 1.9 0 1 0 3.8 0a1.9 1.9 0 1 0 -3.8 0M205.7 70.9a1.9 1.9 0 1 0 3.8 0a1.9 1.9 0 1 0 -3.8 0M206.8 69.5a1.9 1.9 0 1 0 3.8 0a1.9 1.9 0 1 0 -3.8 0M211.3 65.2a1.9 1.9 0 1 0 3.8 0a1.9 1.9 0 1 0 -3.8 0M211.9 64.7a1.9 1.9 0 1 0 3.8 0a1.9 1.9 0 1 0 -3.8 0M214.8 63.1a1.9 1.9 0 1 0 3.8 0a1.9 1.9 0 1 0 -3.8 0M216.2 62a1.9 1.9 0 1 0 3.8 0a1.9 1.9 0 1 0 -3.8 0M218.5 61.3a1.9 1.9 0 1 0 3.8 0a1.9 1.9 0 1 0 -3.8 0M219.9 60.5a1.9 1.9 0 1 0 3.8 0a1.9 1.9 0 1 0 -3.8 0M226.1 58.5a1.9 1.9 0 1 0 3.8 0a1.9 1.9 0 1 0 -3.8 0M227.1 57.3a1.9 1.9 0 1 0 3.8 0a1.9 1.9 0 1 0 -3.8 0M228.2 53.2a1.9 1.9 0 1 0 3.8 0a1.9 1.9 0 1 0 -3.8 0M227.5 51.8a1.9 1.9 0 1 0 3.8 0a1.9 1.9 0 1 0 -3.8 0M228.3 48.3a1.9 1.9 0 1 0 3.8 0a1.9 1.9 0 1 0 -3.8 0M226.9 47.2a1.9 1.9 0 1 0 3.8 0a1.9 1.9 0 1 0 -3.8 0M222.8 48.9a1.9 1.9 0 1 0 3.8 0a1.9 1.9 0 1 0 -3.8 0M220.9 50.6a1.9 1.9 0 1 0 3.8 0a1.9 1.9 0 1 0 -3.8 0M219 52.1a1.9 1.9 0 1 0 3.8 0a1.9 1.9 0 1 0 -3.8 0M218 52.5a1.9 1.9 0 1 0 3.8 0a1.9 1.9 0 1 0 -3.8 0M215.3 53.4a1.9 1.9 0 1 0 3.8 0a1.9 1.9 0 1 0 -3.8 0M212.2 56a1.9 1.9 0 1 0 3.8 0a1.9 1.9 0 1 0 -3.8 0M208.9 59.2a1.9 1.9 0 1 0 3.8 0a1.9 1.9 0 1 0 -3.8 0M208 60.7a1.9 1.9 0 1 0 3.8 0a1.9 1.9 0 1 0 -3.8 0M206.6 62.2a1.9 1.9 0 1 0 3.8 0a1.9 1.9 0 1 0 -3.8 0M205.7 64.1a1.9 1.9 0 1 0 3.8 0a1.9 1.9 0 1 0 -3.8 0M204.6 64.9a1.9 1.9 0 1 0 3.8 0a1.9 1.9 0 1 0 -3.8 0M202.4 66.7a1.9 1.9 0 1 0 3.8 0a1.9 1.9 0 1 0 -3.8 0M201.4 67.8a1.9 1.9 0 1 0 3.8 0a1.9 1.9 0 1 0 -3.8 0M199.7 69.3a1.9 1.9 0 1 0 3.8 0a1.9 1.9 0 1 0 -3.8 0M206.4 66.8a1.9 1.9 0 1 0 3.8 0a1.9 1.9 0 1 0 -3.8 0M210.7 61a1.9 1.9 0 1 0 3.8 0a1.9 1.9 0 1 0 -3.8 0M213 63.3a1.9 1.9 0 1 0 3.8 0a1.9 1.9 0 1 0 -3.8 0M210.6 61.1a1.9 1.9 0 1 0 3.8 0a1.9 1.9 0 1 0 -3.8 0M220.2 58.8a1.9 1.9 0 1 0 3.8 0a1.9 1.9 0 1 0 -3.8 0M226.1 55.8a1.9 1.9 0 1 0 3.8 0a1.9 1.9 0 1 0 -3.8 0M219.5 58.4a1.9 1.9 0 1 0 3.8 0a1.9 1.9 0 1 0 -3.8 0M200.1 74.2a1.9 1.9 0 1 0 3.8 0a1.9 1.9 0 1 0 -3.8 0M226.6 56.2a1.9 1.9 0 1 0 3.8 0a1.9 1.9 0 1 0 -3.8 0M202.7 70.9a1.9 1.9 0 1 0 3.8 0a1.9 1.9 0 1 0 -3.8 0M218.3 55.2a1.9 1.9 0 1 0 3.8 0a1.9 1.9 0 1 0 -3.8 0M221.9 55.1a1.9 1.9 0 1 0 3.8 0a1.9 1.9 0 1 0 -3.8 0M225.3 49.5a1.9 1.9 0 1 0 3.8 0a1.9 1.9 0 1 0 -3.8 0M202.7 67.6a1.9 1.9 0 1 0 3.8 0a1.9 1.9 0 1 0 -3.8 0M214.2 55.3a1.9 1.9 0 1 0 3.8 0a1.9 1.9 0 1 0 -3.8 0M224.2 48.8a1.9 1.9 0 1 0 3.8 0a1.9 1.9 0 1 0 -3.8 0M202 71a1.9 1.9 0 1 0 3.8 0a1.9 1.9 0 1 0 -3.8 0M208.7 63.3a1.9 1.9 0 1 0 3.8 0a1.9 1.9 0 1 0 -3.8 0M215.3 61.1a1.9 1.9 0 1 0 3.8 0a1.9 1.9 0 1 0 -3.8 0M212.1 57.7a1.9 1.9 0 1 0 3.8 0a1.9 1.9 0 1 0 -3.8 0M227 56.4a1.9 1.9 0 1 0 3.8 0a1.9 1.9 0 1 0 -3.8 0M211.1 63.9a1.9 1.9 0 1 0 3.8 0a1.9 1.9 0 1 0 -3.8 0M223.5 55.3a1.9 1.9 0 1 0 3.8 0a1.9 1.9 0 1 0 -3.8 0M222.6 51.6a1.9 1.9 0 1 0 3.8 0a1.9 1.9 0 1 0 -3.8 0M213.1 60.6a1.9 1.9 0 1 0 3.8 0a1.9 1.9 0 1 0 -3.8 0M228.1 49.6a1.9 1.9 0 1 0 3.8 0a1.9 1.9 0 1 0 -3.8 0M215.4 55.9a1.9 1.9 0 1 0 3.8 0a1.9 1.9 0 1 0 -3.8 0M226.3 49.5a1.9 1.9 0 1 0 3.8 0a1.9 1.9 0 1 0 -3.8 0M220 55.2a1.9 1.9 0 1 0 3.8 0a1.9 1.9 0 1 0 -3.8 0M226.6 54.2a1.9 1.9 0 1 0 3.8 0a1.9 1.9 0 1 0 -3.8 0M223.8 57a1.9 1.9 0 1 0 3.8 0a1.9 1.9 0 1 0 -3.8 0M225.8 57.1a1.9 1.9 0 1 0 3.8 0a1.9 1.9 0 1 0 -3.8 0M226 52.3a1.9 1.9 0 1 0 3.8 0a1.9 1.9 0 1 0 -3.8 0M199.5 71.4a1.9 1.9 0 1 0 3.8 0a1.9 1.9 0 1 0 -3.8 0M200.7 72.7a1.9 1.9 0 1 0 3.8 0a1.9 1.9 0 1 0 -3.8 0M212.8 58.5a1.9 1.9 0 1 0 3.8 0a1.9 1.9 0 1 0 -3.8 0M209.9 60.6a1.9 1.9 0 1 0 3.8 0a1.9 1.9 0 1 0 -3.8 0M224 56.6a1.9 1.9 0 1 0 3.8 0a1.9 1.9 0 1 0 -3.8 0M209.7 62.3a1.9 1.9 0 1 0 3.8 0a1.9 1.9 0 1 0 -3.8 0M227.2 51a1.9 1.9 0 1 0 3.8 0a1.9 1.9 0 1 0 -3.8 0M266.7 16.5a1.9 1.9 0 1 0 3.8 0a1.9 1.9 0 1 0 -3.8 0M248.8 27.4a1.9 1.9 0 1 0 3.8 0a1.9 1.9 0 1 0 -3.8 0M242.8 33.9a1.9 1.9 0 1 0 3.8 0a1.9 1.9 0 1 0 -3.8 0M236.8 34.4a1.9 1.9 0 1 0 3.8 0a1.9 1.9 0 1 0 -3.8 0M235.1 39a1.9 1.9 0 1 0 3.8 0a1.9 1.9 0 1 0 -3.8 0M226.2 44.8a1.9 1.9 0 1 0 3.8 0a1.9 1.9 0 1 0 -3.8 0M232 44.8a1.9 1.9 0 1 0 3.8 0a1.9 1.9 0 1 0 -3.8 0M235.8 45.5a1.9 1.9 0 1 0 3.8 0a1.9 1.9 0 1 0 -3.8 0M234 50.2a1.9 1.9 0 1 0 3.8 0a1.9 1.9 0 1 0 -3.8 0M210.3 55a1.9 1.9 0 1 0 3.8 0a1.9 1.9 0 1 0 -3.8 0M226.6 57a1.9 1.9 0 1 0 3.8 0a1.9 1.9 0 1 0 -3.8 0M219.8 64.7a1.9 1.9 0 1 0 3.8 0a1.9 1.9 0 1 0 -3.8 0M215.1 66.5a1.9 1.9 0 1 0 3.8 0a1.9 1.9 0 1 0 -3.8 0M222.5 49.5a1.9 1.9 0 1 0 3.8 0a1.9 1.9 0 1 0 -3.8 0M289.7 73.5a1.9 1.9 0 1 0 3.8 0a1.9 1.9 0 1 0 -3.8 0M290.5 72a1.9 1.9 0 1 0 3.8 0a1.9 1.9 0 1 0 -3.8 0M290.9 70a1.9 1.9 0 1 0 3.8 0a1.9 1.9 0 1 0 -3.8 0M291 67.6a1.9 1.9 0 1 0 3.8 0a1.9 1.9 0 1 0 -3.8 0M291.6 66.7a1.9 1.9 0 1 0 3.8 0a1.9 1.9 0 1 0 -3.8 0M291.9 63.7a1.9 1.9 0 1 0 3.8 0a1.9 1.9 0 1 0 -3.8 0M292.9 62.2a1.9 1.9 0 1 0 3.8 0a1.9 1.9 0 1 0 -3.8 0M294.2 60.1a1.9 1.9 0 1 0 3.8 0a1.9 1.9 0 1 0 -3.8 0M295.5 56.9a1.9 1.9 0 1 0 3.8 0a1.9 1.9 0 1 0 -3.8 0M297.2 54.9a1.9 1.9 0 1 0 3.8 0a1.9 1.9 0 1 0 -3.8 0M298.6 53.6a1.9 1.9 0 1 0 3.8 0a1.9 1.9 0 1 0 -3.8 0M299.5 52a1.9 1.9 0 1 0 3.8 0a1.9 1.9 0 1 0 -3.8 0M301.7 49.2a1.9 1.9 0 1 0 3.8 0a1.9 1.9 0 1 0 -3.8 0M302.8 46.8a1.9 1.9 0 1 0 3.8 0a1.9 1.9 0 1 0 -3.8 0M303.8 45a1.9 1.9 0 1 0 3.8 0a1.9 1.9 0 1 0 -3.8 0M302.6 45.3a1.9 1.9 0 1 0 3.8 0a1.9 1.9 0 1 0 -3.8 0M300.7 45.6a1.9 1.9 0 1 0 3.8 0a1.9 1.9 0 1 0 -3.8 0M299.5 46.8a1.9 1.9 0 1 0 3.8 0a1.9 1.9 0 1 0 -3.8 0M296.7 48.6a1.9 1.9 0 1 0 3.8 0a1.9 1.9 0 1 0 -3.8 0M295.3 49.9a1.9 1.9 0 1 0 3.8 0a1.9 1.9 0 1 0 -3.8 0M294 52a1.9 1.9 0 1 0 3.8 0a1.9 1.9 0 1 0 -3.8 0M293.4 52.8a1.9 1.9 0 1 0 3.8 0a1.9 1.9 0 1 0 -3.8 0M293 55.5a1.9 1.9 0 1 0 3.8 0a1.9 1.9 0 1 0 -3.8 0M291.9 57.4a1.9 1.9 0 1 0 3.8 0a1.9 1.9 0 1 0 -3.8 0M291.5 59a1.9 1.9 0 1 0 3.8 0a1.9 1.9 0 1 0 -3.8 0M291.5 60.7a1.9 1.9 0 1 0 3.8 0a1.9 1.9 0 1 0 -3.8 0M290.6 63a1.9 1.9 0 1 0 3.8 0a1.9 1.9 0 1 0 -3.8 0M290.4 65.4a1.9 1.9 0 1 0 3.8 0a1.9 1.9 0 1 0 -3.8 0M289.6 67.4a1.9 1.9 0 1 0 3.8 0a1.9 1.9 0 1 0 -3.8 0M289.6 68.7a1.9 1.9 0 1 0 3.8 0a1.9 1.9 0 1 0 -3.8 0M288.8 71.3a1.9 1.9 0 1 0 3.8 0a1.9 1.9 0 1 0 -3.8 0M289.1 73.7a1.9 1.9 0 1 0 3.8 0a1.9 1.9 0 1 0 -3.8 0M290.6 67.1a1.9 1.9 0 1 0 3.8 0a1.9 1.9 0 1 0 -3.8 0M300 49a1.9 1.9 0 1 0 3.8 0a1.9 1.9 0 1 0 -3.8 0M297.5 49.4a1.9 1.9 0 1 0 3.8 0a1.9 1.9 0 1 0 -3.8 0M290.8 64a1.9 1.9 0 1 0 3.8 0a1.9 1.9 0 1 0 -3.8 0M301.2 46.8a1.9 1.9 0 1 0 3.8 0a1.9 1.9 0 1 0 -3.8 0M296.7 51.6a1.9 1.9 0 1 0 3.8 0a1.9 1.9 0 1 0 -3.8 0M295.1 57.7a1.9 1.9 0 1 0 3.8 0a1.9 1.9 0 1 0 -3.8 0M293.7 57.2a1.9 1.9 0 1 0 3.8 0a1.9 1.9 0 1 0 -3.8 0M300.8 46.9a1.9 1.9 0 1 0 3.8 0a1.9 1.9 0 1 0 -3.8 0M293.4 58.9a1.9 1.9 0 1 0 3.8 0a1.9 1.9 0 1 0 -3.8 0M300.1 47.8a1.9 1.9 0 1 0 3.8 0a1.9 1.9 0 1 0 -3.8 0M296 50.3a1.9 1.9 0 1 0 3.8 0a1.9 1.9 0 1 0 -3.8 0M294.1 55.4a1.9 1.9 0 1 0 3.8 0a1.9 1.9 0 1 0 -3.8 0M301.4 45.3a1.9 1.9 0 1 0 3.8 0a1.9 1.9 0 1 0 -3.8 0M290.9 68.6a1.9 1.9 0 1 0 3.8 0a1.9 1.9 0 1 0 -3.8 0M293.3 60.7a1.9 1.9 0 1 0 3.8 0a1.9 1.9 0 1 0 -3.8 0M289.7 70.9a1.9 1.9 0 1 0 3.8 0a1.9 1.9 0 1 0 -3.8 0M293.2 58.9a1.9 1.9 0 1 0 3.8 0a1.9 1.9 0 1 0 -3.8 0M293.3 55.7a1.9 1.9 0 1 0 3.8 0a1.9 1.9 0 1 0 -3.8 0M294 54.3a1.9 1.9 0 1 0 3.8 0a1.9 1.9 0 1 0 -3.8 0M297.6 51.3a1.9 1.9 0 1 0 3.8 0a1.9 1.9 0 1 0 -3.8 0M296.9 49.5a1.9 1.9 0 1 0 3.8 0a1.9 1.9 0 1 0 -3.8 0M293.6 56.1a1.9 1.9 0 1 0 3.8 0a1.9 1.9 0 1 0 -3.8 0M294.3 55.8a1.9 1.9 0 1 0 3.8 0a1.9 1.9 0 1 0 -3.8 0M291.7 65.4a1.9 1.9 0 1 0 3.8 0a1.9 1.9 0 1 0 -3.8 0M291.2 63.7a1.9 1.9 0 1 0 3.8 0a1.9 1.9 0 1 0 -3.8 0M301.8 45.8a1.9 1.9 0 1 0 3.8 0a1.9 1.9 0 1 0 -3.8 0M296.2 49.8a1.9 1.9 0 1 0 3.8 0a1.9 1.9 0 1 0 -3.8 0M359.7 16.3a1.9 1.9 0 1 0 3.8 0a1.9 1.9 0 1 0 -3.8 0M327.9 27.4a1.9 1.9 0 1 0 3.8 0a1.9 1.9 0 1 0 -3.8 0M319.7 34a1.9 1.9 0 1 0 3.8 0a1.9 1.9 0 1 0 -3.8 0M317.7 34.4a1.9 1.9 0 1 0 3.8 0a1.9 1.9 0 1 0 -3.8 0M309.5 40a1.9 1.9 0 1 0 3.8 0a1.9 1.9 0 1 0 -3.8 0M402.8 71.2a1.9 1.9 0 1 0 3.8 0a1.9 1.9 0 1 0 -3.8 0M404 71.2a1.9 1.9 0 1 0 3.8 0a1.9 1.9 0 1 0 -3.8 0M406.2 71a1.9 1.9 0 1 0 3.8 0a1.9 1.9 0 1 0 -3.8 0M408.9 70.8a1.9 1.9 0 1 0 3.8 0a1.9 1.9 0 1 0 -3.8 0M411.1 70.4a1.9 1.9 0 1 0 3.8 0a1.9 1.9 0 1 0 -3.8 0M412 69.5a1.9 1.9 0 1 0 3.8 0a1.9 1.9 0 1 0 -3.8 0M416.3 68.6a1.9 1.9 0 1 0 3.8 0a1.9 1.9 0 1 0 -3.8 0M419.3 64.6a1.9 1.9 0 1 0 3.8 0a1.9 1.9 0 1 0 -3.8 0M420.1 63.8a1.9 1.9 0 1 0 3.8 0a1.9 1.9 0 1 0 -3.8 0M421.7 62.4a1.9 1.9 0 1 0 3.8 0a1.9 1.9 0 1 0 -3.8 0M422.8 60.2a1.9 1.9 0 1 0 3.8 0a1.9 1.9 0 1 0 -3.8 0M423.3 58.9a1.9 1.9 0 1 0 3.8 0a1.9 1.9 0 1 0 -3.8 0M424.6 57.1a1.9 1.9 0 1 0 3.8 0a1.9 1.9 0 1 0 -3.8 0M426.1 55.4a1.9 1.9 0 1 0 3.8 0a1.9 1.9 0 1 0 -3.8 0M427.2 54a1.9 1.9 0 1 0 3.8 0a1.9 1.9 0 1 0 -3.8 0M428.7 52.1a1.9 1.9 0 1 0 3.8 0a1.9 1.9 0 1 0 -3.8 0M429.8 50.3a1.9 1.9 0 1 0 3.8 0a1.9 1.9 0 1 0 -3.8 0M429.9 48.2a1.9 1.9 0 1 0 3.8 0a1.9 1.9 0 1 0 -3.8 0M430.8 47.1a1.9 1.9 0 1 0 3.8 0a1.9 1.9 0 1 0 -3.8 0M430.8 44.3a1.9 1.9 0 1 0 3.8 0a1.9 1.9 0 1 0 -3.8 0M429.9 43.7a1.9 1.9 0 1 0 3.8 0a1.9 1.9 0 1 0 -3.8 0M428.8 45.5a1.9 1.9 0 1 0 3.8 0a1.9 1.9 0 1 0 -3.8 0M427.7 46.6a1.9 1.9 0 1 0 3.8 0a1.9 1.9 0 1 0 -3.8 0M426.4 48.5a1.9 1.9 0 1 0 3.8 0a1.9 1.9 0 1 0 -3.8 0M425.6 50.3a1.9 1.9 0 1 0 3.8 0a1.9 1.9 0 1 0 -3.8 0M424.2 52.1a1.9 1.9 0 1 0 3.8 0a1.9 1.9 0 1 0 -3.8 0M422.2 53.9a1.9 1.9 0 1 0 3.8 0a1.9 1.9 0 1 0 -3.8 0M421.8 55a1.9 1.9 0 1 0 3.8 0a1.9 1.9 0 1 0 -3.8 0M419.2 57.4a1.9 1.9 0 1 0 3.8 0a1.9 1.9 0 1 0 -3.8 0M415.9 60.8a1.9 1.9 0 1 0 3.8 0a1.9 1.9 0 1 0 -3.8 0M414 62.8a1.9 1.9 0 1 0 3.8 0a1.9 1.9 0 1 0 -3.8 0M413.2 63.7a1.9 1.9 0 1 0 3.8 0a1.9 1.9 0 1 0 -3.8 0M410.7 65.7a1.9 1.9 0 1 0 3.8 0a1.9 1.9 0 1 0 -3.8 0M409.2 66.8a1.9 1.9 0 1 0 3.8 0a1.9 1.9 0 1 0 -3.8 0M408.3 67.6a1.9 1.9 0 1 0 3.8 0a1.9 1.9 0 1 0 -3.8 0M404.5 69.2a1.9 1.9 0 1 0 3.8 0a1.9 1.9 0 1 0 -3.8 0M403.2 70a1.9 1.9 0 1 0 3.8 0a1.9 1.9 0 1 0 -3.8 0M405.3 69.6a1.9 1.9 0 1 0 3.8 0a1.9 1.9 0 1 0 -3.8 0M419.7 59.2a1.9 1.9 0 1 0 3.8 0a1.9 1.9 0 1 0 -3.8 0M415.2 63.8a1.9 1.9 0 1 0 3.8 0a1.9 1.9 0 1 0 -3.8 0M411 66.9a1.9 1.9 0 1 0 3.8 0a1.9 1.9 0 1 0 -3.8 0M426.7 53.7a1.9 1.9 0 1 0 3.8 0a1.9 1.9 0 1 0 -3.8 0M413.7 64.6a1.9 1.9 0 1 0 3.8 0a1.9 1.9 0 1 0 -3.8 0M417.9 60.6a1.9 1.9 0 1 0 3.8 0a1.9 1.9 0 1 0 -3.8 0M403.6 70a1.9 1.9 0 1 0 3.8 0a1.9 1.9 0 1 0 -3.8 0M428.9 51.3a1.9 1.9 0 1 0 3.8 0a1.9 1.9 0 1 0 -3.8 0M424.4 56.8a1.9 1.9 0 1 0 3.8 0a1.9 1.9 0 1 0 -3.8 0M429.1 46.2a1.9 1.9 0 1 0 3.8 0a1.9 1.9 0 1 0 -3.8 0M417.8 64.4a1.9 1.9 0 1 0 3.8 0a1.9 1.9 0 1 0 -3.8 0M419.1 59.2a1.9 1.9 0 1 0 3.8 0a1.9 1.9 0 1 0 -3.8 0M416 64.7a1.9 1.9 0 1 0 3.8 0a1.9 1.9 0 1 0 -3.8 0M427.2 51.3a1.9 1.9 0 1 0 3.8 0a1.9 1.9 0 1 0 -3.8 0M426.4 50.6a1.9 1.9 0 1 0 3.8 0a1.9 1.9 0 1 0 -3.8 0M428 50.7a1.9 1.9 0 1 0 3.8 0a1.9 1.9 0 1 0 -3.8 0M413.7 65.3a1.9 1.9 0 1 0 3.8 0a1.9 1.9 0 1 0 -3.8 0M429.1 47.3a1.9 1.9 0 1 0 3.8 0a1.9 1.9 0 1 0 -3.8 0M416.1 63.1a1.9 1.9 0 1 0 3.8 0a1.9 1.9 0 1 0 -3.8 0M425.7 51.7a1.9 1.9 0 1 0 3.8 0a1.9 1.9 0 1 0 -3.8 0M419.9 57.9a1.9 1.9 0 1 0 3.8 0a1.9 1.9 0 1 0 -3.8 0M425.3 52.5a1.9 1.9 0 1 0 3.8 0a1.9 1.9 0 1 0 -3.8 0M410 70.1a1.9 1.9 0 1 0 3.8 0a1.9 1.9 0 1 0 -3.8 0M419.2 63.3a1.9 1.9 0 1 0 3.8 0a1.9 1.9 0 1 0 -3.8 0M425 54.4a1.9 1.9 0 1 0 3.8 0a1.9 1.9 0 1 0 -3.8 0M408.9 67.5a1.9 1.9 0 1 0 3.8 0a1.9 1.9 0 1 0 -3.8 0M418.9 58.3a1.9 1.9 0 1 0 3.8 0a1.9 1.9 0 1 0 -3.8 0M419.8 59a1.9 1.9 0 1 0 3.8 0a1.9 1.9 0 1 0 -3.8 0M414.2 65.7a1.9 1.9 0 1 0 3.8 0a1.9 1.9 0 1 0 -3.8 0M411.6 67.7a1.9 1.9 0 1 0 3.8 0a1.9 1.9 0 1 0 -3.8 0M420.9 57.7a1.9 1.9 0 1 0 3.8 0a1.9 1.9 0 1 0 -3.8 0M419.2 58.5a1.9 1.9 0 1 0 3.8 0a1.9 1.9 0 1 0 -3.8 0M423.8 53a1.9 1.9 0 1 0 3.8 0a1.9 1.9 0 1 0 -3.8 0M416 67.8a1.9 1.9 0 1 0 3.8 0a1.9 1.9 0 1 0 -3.8 0M417.3 61.3a1.9 1.9 0 1 0 3.8 0a1.9 1.9 0 1 0 -3.8 0M420.7 57.3a1.9 1.9 0 1 0 3.8 0a1.9 1.9 0 1 0 -3.8 0M424.4 54.2a1.9 1.9 0 1 0 3.8 0a1.9 1.9 0 1 0 -3.8 0M412.3 67.1a1.9 1.9 0 1 0 3.8 0a1.9 1.9 0 1 0 -3.8 0M419.2 65a1.9 1.9 0 1 0 3.8 0a1.9 1.9 0 1 0 -3.8 0M406.8 70.5a1.9 1.9 0 1 0 3.8 0a1.9 1.9 0 1 0 -3.8 0M424.3 57.3a1.9 1.9 0 1 0 3.8 0a1.9 1.9 0 1 0 -3.8 0M411.1 69.9a1.9 1.9 0 1 0 3.8 0a1.9 1.9 0 1 0 -3.8 0M429.2 48.1a1.9 1.9 0 1 0 3.8 0a1.9 1.9 0 1 0 -3.8 0M413.2 67.8a1.9 1.9 0 1 0 3.8 0a1.9 1.9 0 1 0 -3.8 0M428.6 48.2a1.9 1.9 0 1 0 3.8 0a1.9 1.9 0 1 0 -3.8 0M424.9 51.4a1.9 1.9 0 1 0 3.8 0a1.9 1.9 0 1 0 -3.8 0M411.9 65.3a1.9 1.9 0 1 0 3.8 0a1.9 1.9 0 1 0 -3.8 0M411 69a1.9 1.9 0 1 0 3.8 0a1.9 1.9 0 1 0 -3.8 0M422.7 57.2a1.9 1.9 0 1 0 3.8 0a1.9 1.9 0 1 0 -3.8 0M409.9 70.3a1.9 1.9 0 1 0 3.8 0a1.9 1.9 0 1 0 -3.8 0M425.4 55a1.9 1.9 0 1 0 3.8 0a1.9 1.9 0 1 0 -3.8 0M423.8 57.4a1.9 1.9 0 1 0 3.8 0a1.9 1.9 0 1 0 -3.8 0M419.1 62.7a1.9 1.9 0 1 0 3.8 0a1.9 1.9 0 1 0 -3.8 0M410.5 70a1.9 1.9 0 1 0 3.8 0a1.9 1.9 0 1 0 -3.8 0M412.3 67.6a1.9 1.9 0 1 0 3.8 0a1.9 1.9 0 1 0 -3.8 0M424.2 53.2a1.9 1.9 0 1 0 3.8 0a1.9 1.9 0 1 0 -3.8 0M409.3 70.5a1.9 1.9 0 1 0 3.8 0a1.9 1.9 0 1 0 -3.8 0M431.1 45.5a1.9 1.9 0 1 0 3.8 0a1.9 1.9 0 1 0 -3.8 0M426.3 51.1a1.9 1.9 0 1 0 3.8 0a1.9 1.9 0 1 0 -3.8 0M423.3 53.3a1.9 1.9 0 1 0 3.8 0a1.9 1.9 0 1 0 -3.8 0M407.6 68.1a1.9 1.9 0 1 0 3.8 0a1.9 1.9 0 1 0 -3.8 0M424.6 56.2a1.9 1.9 0 1 0 3.8 0a1.9 1.9 0 1 0 -3.8 0M413.4 63.8a1.9 1.9 0 1 0 3.8 0a1.9 1.9 0 1 0 -3.8 0M415.4 65.3a1.9 1.9 0 1 0 3.8 0a1.9 1.9 0 1 0 -3.8 0M413.2 68.1a1.9 1.9 0 1 0 3.8 0a1.9 1.9 0 1 0 -3.8 0M416.2 63.2a1.9 1.9 0 1 0 3.8 0a1.9 1.9 0 1 0 -3.8 0M419 62.4a1.9 1.9 0 1 0 3.8 0a1.9 1.9 0 1 0 -3.8 0M425.9 54.3a1.9 1.9 0 1 0 3.8 0a1.9 1.9 0 1 0 -3.8 0M425.2 53.2a1.9 1.9 0 1 0 3.8 0a1.9 1.9 0 1 0 -3.8 0M420.3 62.2a1.9 1.9 0 1 0 3.8 0a1.9 1.9 0 1 0 -3.8 0M413.4 67.2a1.9 1.9 0 1 0 3.8 0a1.9 1.9 0 1 0 -3.8 0M430 48.8a1.9 1.9 0 1 0 3.8 0a1.9 1.9 0 1 0 -3.8 0M402.8 70.5a1.9 1.9 0 1 0 3.8 0a1.9 1.9 0 1 0 -3.8 0M428.8 50.5a1.9 1.9 0 1 0 3.8 0a1.9 1.9 0 1 0 -3.8 0M415.4 62.4a1.9 1.9 0 1 0 3.8 0a1.9 1.9 0 1 0 -3.8 0M425.8 55.6a1.9 1.9 0 1 0 3.8 0a1.9 1.9 0 1 0 -3.8 0M429 45.4a1.9 1.9 0 1 0 3.8 0a1.9 1.9 0 1 0 -3.8 0M385 72.2a1.9 1.9 0 1 0 3.8 0a1.9 1.9 0 1 0 -3.8 0M389.6 72a1.9 1.9 0 1 0 3.8 0a1.9 1.9 0 1 0 -3.8 0M392.8 71.6a1.9 1.9 0 1 0 3.8 0a1.9 1.9 0 1 0 -3.8 0M395.6 71.1a1.9 1.9 0 1 0 3.8 0a1.9 1.9 0 1 0 -3.8 0M397.9 70.6a1.9 1.9 0 1 0 3.8 0a1.9 1.9 0 1 0 -3.8 0M400.1 69.8a1.9 1.9 0 1 0 3.8 0a1.9 1.9 0 1 0 -3.8 0M402.8 68.6a1.9 1.9 0 1 0 3.8 0a1.9 1.9 0 1 0 -3.8 0M451.2 15.2a1.9 1.9 0 1 0 3.8 0a1.9 1.9 0 1 0 -3.8 0M441 26.2a1.9 1.9 0 1 0 3.8 0a1.9 1.9 0 1 0 -3.8 0M437.9 32.4a1.9 1.9 0 1 0 3.8 0a1.9 1.9 0 1 0 -3.8 0M436.2 33.4a1.9 1.9 0 1 0 3.8 0a1.9 1.9 0 1 0 -3.8 0M433.2 38.5a1.9 1.9 0 1 0 3.8 0a1.9 1.9 0 1 0 -3.8 0M418.9 53.6a1.9 1.9 0 1 0 3.8 0a1.9 1.9 0 1 0 -3.8 0M468.6 73.5a1.9 1.9 0 1 0 3.8 0a1.9 1.9 0 1 0 -3.8 0M469.8 73.6a1.9 1.9 0 1 0 3.8 0a1.9 1.9 0 1 0 -3.8 0M471.1 71.9a1.9 1.9 0 1 0 3.8 0a1.9 1.9 0 1 0 -3.8 0M472.5 70.6a1.9 1.9 0 1 0 3.8 0a1.9 1.9 0 1 0 -3.8 0M473.9 67.7a1.9 1.9 0 1 0 3.8 0a1.9 1.9 0 1 0 -3.8 0M475 66.3a1.9 1.9 0 1 0 3.8 0a1.9 1.9 0 1 0 -3.8 0M476.3 64.9a1.9 1.9 0 1 0 3.8 0a1.9 1.9 0 1 0 -3.8 0M478.2 63.3a1.9 1.9 0 1 0 3.8 0a1.9 1.9 0 1 0 -3.8 0M479.1 61.8a1.9 1.9 0 1 0 3.8 0a1.9 1.9 0 1 0 -3.8 0M481.1 59.6a1.9 1.9 0 1 0 3.8 0a1.9 1.9 0 1 0 -3.8 0M482.1 59.3a1.9 1.9 0 1 0 3.8 0a1.9 1.9 0 1 0 -3.8 0M483 57a1.9 1.9 0 1 0 3.8 0a1.9 1.9 0 1 0 -3.8 0M483.5 56.2a1.9 1.9 0 1 0 3.8 0a1.9 1.9 0 1 0 -3.8 0M485.6 53.4a1.9 1.9 0 1 0 3.8 0a1.9 1.9 0 1 0 -3.8 0M488.3 51.1a1.9 1.9 0 1 0 3.8 0a1.9 1.9 0 1 0 -3.8 0M489.5 49.4a1.9 1.9 0 1 0 3.8 0a1.9 1.9 0 1 0 -3.8 0M491.2 48.3a1.9 1.9 0 1 0 3.8 0a1.9 1.9 0 1 0 -3.8 0M492.6 45.9a1.9 1.9 0 1 0 3.8 0a1.9 1.9 0 1 0 -3.8 0M490.2 44.9a1.9 1.9 0 1 0 3.8 0a1.9 1.9 0 1 0 -3.8 0M489 45a1.9 1.9 0 1 0 3.8 0a1.9 1.9 0 1 0 -3.8 0M486.2 46.6a1.9 1.9 0 1 0 3.8 0a1.9 1.9 0 1 0 -3.8 0M485.6 48.1a1.9 1.9 0 1 0 3.8 0a1.9 1.9 0 1 0 -3.8 0M484.9 49.2a1.9 1.9 0 1 0 3.8 0a1.9 1.9 0 1 0 -3.8 0M482.7 52a1.9 1.9 0 1 0 3.8 0a1.9 1.9 0 1 0 -3.8 0M481.4 52.7a1.9 1.9 0 1 0 3.8 0a1.9 1.9 0 1 0 -3.8 0M480.1 54.9a1.9 1.9 0 1 0 3.8 0a1.9 1.9 0 1 0 -3.8 0M477.6 57.3a1.9 1.9 0 1 0 3.8 0a1.9 1.9 0 1 0 -3.8 0M476.6 58.8a1.9 1.9 0 1 0 3.8 0a1.9 1.9 0 1 0 -3.8 0M475.5 59.6a1.9 1.9 0 1 0 3.8 0a1.9 1.9 0 1 0 -3.8 0M473.9 62.2a1.9 1.9 0 1 0 3.8 0a1.9 1.9 0 1 0 -3.8 0M472.9 63.8a1.9 1.9 0 1 0 3.8 0a1.9 1.9 0 1 0 -3.8 0M471.9 65.2a1.9 1.9 0 1 0 3.8 0a1.9 1.9 0 1 0 -3.8 0M470.7 67.2a1.9 1.9 0 1 0 3.8 0a1.9 1.9 0 1 0 -3.8 0M470.1 68.1a1.9 1.9 0 1 0 3.8 0a1.9 1.9 0 1 0 -3.8 0M476.8 61.6a1.9 1.9 0 1 0 3.8 0a1.9 1.9 0 1 0 -3.8 0M475.9 65a1.9 1.9 0 1 0 3.8 0a1.9 1.9 0 1 0 -3.8 0M486.6 47.1a1.9 1.9 0 1 0 3.8 0a1.9 1.9 0 1 0 -3.8 0M473.5 66.1a1.9 1.9 0 1 0 3.8 0a1.9 1.9 0 1 0 -3.8 0M489.1 47.3a1.9 1.9 0 1 0 3.8 0a1.9 1.9 0 1 0 -3.8 0M477.5 58.2a1.9 1.9 0 1 0 3.8 0a1.9 1.9 0 1 0 -3.8 0M472.3 68.6a1.9 1.9 0 1 0 3.8 0a1.9 1.9 0 1 0 -3.8 0M491.4 46.8a1.9 1.9 0 1 0 3.8 0a1.9 1.9 0 1 0 -3.8 0M485.1 53.5a1.9 1.9 0 1 0 3.8 0a1.9 1.9 0 1 0 -3.8 0M481 56.1a1.9 1.9 0 1 0 3.8 0a1.9 1.9 0 1 0 -3.8 0M479.2 55.6a1.9 1.9 0 1 0 3.8 0a1.9 1.9 0 1 0 -3.8 0M474.4 62.7a1.9 1.9 0 1 0 3.8 0a1.9 1.9 0 1 0 -3.8 0M473.1 64.7a1.9 1.9 0 1 0 3.8 0a1.9 1.9 0 1 0 -3.8 0M488.4 46.4a1.9 1.9 0 1 0 3.8 0a1.9 1.9 0 1 0 -3.8 0M470.6 68.3a1.9 1.9 0 1 0 3.8 0a1.9 1.9 0 1 0 -3.8 0M472.3 68.2a1.9 1.9 0 1 0 3.8 0a1.9 1.9 0 1 0 -3.8 0M469.3 71.6a1.9 1.9 0 1 0 3.8 0a1.9 1.9 0 1 0 -3.8 0M478.2 60.2a1.9 1.9 0 1 0 3.8 0a1.9 1.9 0 1 0 -3.8 0M469.4 73.1a1.9 1.9 0 1 0 3.8 0a1.9 1.9 0 1 0 -3.8 0M488.5 46a1.9 1.9 0 1 0 3.8 0a1.9 1.9 0 1 0 -3.8 0M470.5 70.3a1.9 1.9 0 1 0 3.8 0a1.9 1.9 0 1 0 -3.8 0M484.5 54a1.9 1.9 0 1 0 3.8 0a1.9 1.9 0 1 0 -3.8 0M476.4 61.5a1.9 1.9 0 1 0 3.8 0a1.9 1.9 0 1 0 -3.8 0M473.3 68.2a1.9 1.9 0 1 0 3.8 0a1.9 1.9 0 1 0 -3.8 0M490 48.2a1.9 1.9 0 1 0 3.8 0a1.9 1.9 0 1 0 -3.8 0M477.9 59.5a1.9 1.9 0 1 0 3.8 0a1.9 1.9 0 1 0 -3.8 0M479.3 58.3a1.9 1.9 0 1 0 3.8 0a1.9 1.9 0 1 0 -3.8 0M479.4 59a1.9 1.9 0 1 0 3.8 0a1.9 1.9 0 1 0 -3.8 0M487.7 47.8a1.9 1.9 0 1 0 3.8 0a1.9 1.9 0 1 0 -3.8 0M475 61.9a1.9 1.9 0 1 0 3.8 0a1.9 1.9 0 1 0 -3.8 0M482 54.6a1.9 1.9 0 1 0 3.8 0a1.9 1.9 0 1 0 -3.8 0M471.7 71a1.9 1.9 0 1 0 3.8 0a1.9 1.9 0 1 0 -3.8 0M489 49.4a1.9 1.9 0 1 0 3.8 0a1.9 1.9 0 1 0 -3.8 0M480.4 57.3a1.9 1.9 0 1 0 3.8 0a1.9 1.9 0 1 0 -3.8 0M474.1 66.5a1.9 1.9 0 1 0 3.8 0a1.9 1.9 0 1 0 -3.8 0M470.7 70.4a1.9 1.9 0 1 0 3.8 0a1.9 1.9 0 1 0 -3.8 0M481.7 53.5a1.9 1.9 0 1 0 3.8 0a1.9 1.9 0 1 0 -3.8 0M476.9 62.3a1.9 1.9 0 1 0 3.8 0a1.9 1.9 0 1 0 -3.8 0M491 45.7a1.9 1.9 0 1 0 3.8 0a1.9 1.9 0 1 0 -3.8 0M470.4 70a1.9 1.9 0 1 0 3.8 0a1.9 1.9 0 1 0 -3.8 0M473.7 66.4a1.9 1.9 0 1 0 3.8 0a1.9 1.9 0 1 0 -3.8 0M485.3 52.5a1.9 1.9 0 1 0 3.8 0a1.9 1.9 0 1 0 -3.8 0M487.2 49.5a1.9 1.9 0 1 0 3.8 0a1.9 1.9 0 1 0 -3.8 0M472.4 66.9a1.9 1.9 0 1 0 3.8 0a1.9 1.9 0 1 0 -3.8 0M534.7 15.7a1.9 1.9 0 1 0 3.8 0a1.9 1.9 0 1 0 -3.8 0M514.6 26.9a1.9 1.9 0 1 0 3.8 0a1.9 1.9 0 1 0 -3.8 0M508.1 33.2a1.9 1.9 0 1 0 3.8 0a1.9 1.9 0 1 0 -3.8 0M505 33.6a1.9 1.9 0 1 0 3.8 0a1.9 1.9 0 1 0 -3.8 0M499 38.5a1.9 1.9 0 1 0 3.8 0a1.9 1.9 0 1 0 -3.8 0M493.5 45a1.9 1.9 0 1 0 3.8 0a1.9 1.9 0 1 0 -3.8 0M24.9 187.2a1.9 1.9 0 1 0 3.8 0a1.9 1.9 0 1 0 -3.8 0M28 189.1a1.9 1.9 0 1 0 3.8 0a1.9 1.9 0 1 0 -3.8 0M29.6 187.3a1.9 1.9 0 1 0 3.8 0a1.9 1.9 0 1 0 -3.8 0M31.8 185.7a1.9 1.9 0 1 0 3.8 0a1.9 1.9 0 1 0 -3.8 0M34.2 183.6a1.9 1.9 0 1 0 3.8 0a1.9 1.9 0 1 0 -3.8 0M36.9 182.1a1.9 1.9 0 1 0 3.8 0a1.9 1.9 0 1 0 -3.8 0M38.4 179.7a1.9 1.9 0 1 0 3.8 0a1.9 1.9 0 1 0 -3.8 0M41.1 178a1.9 1.9 0 1 0 3.8 0a1.9 1.9 0 1 0 -3.8 0M43.4 175.7a1.9 1.9 0 1 0 3.8 0a1.9 1.9 0 1 0 -3.8 0M45.3 173.2a1.9 1.9 0 1 0 3.8 0a1.9 1.9 0 1 0 -3.8 0M46.6 170.7a1.9 1.9 0 1 0 3.8 0a1.9 1.9 0 1 0 -3.8 0M48.4 167.1a1.9 1.9 0 1 0 3.8 0a1.9 1.9 0 1 0 -3.8 0M49.7 164.7a1.9 1.9 0 1 0 3.8 0a1.9 1.9 0 1 0 -3.8 0M49.9 163a1.9 1.9 0 1 0 3.8 0a1.9 1.9 0 1 0 -3.8 0M53.4 158.2a1.9 1.9 0 1 0 3.8 0a1.9 1.9 0 1 0 -3.8 0M56 155.2a1.9 1.9 0 1 0 3.8 0a1.9 1.9 0 1 0 -3.8 0M57.3 152.6a1.9 1.9 0 1 0 3.8 0a1.9 1.9 0 1 0 -3.8 0M58.5 150.5a1.9 1.9 0 1 0 3.8 0a1.9 1.9 0 1 0 -3.8 0M59.7 147.9a1.9 1.9 0 1 0 3.8 0a1.9 1.9 0 1 0 -3.8 0M60.4 144a1.9 1.9 0 1 0 3.8 0a1.9 1.9 0 1 0 -3.8 0M61.5 142.7a1.9 1.9 0 1 0 3.8 0a1.9 1.9 0 1 0 -3.8 0M63.2 139.6a1.9 1.9 0 1 0 3.8 0a1.9 1.9 0 1 0 -3.8 0M64.7 136.9a1.9 1.9 0 1 0 3.8 0a1.9 1.9 0 1 0 -3.8 0M62.6 135.7a1.9 1.9 0 1 0 3.8 0a1.9 1.9 0 1 0 -3.8 0M59.8 139.4a1.9 1.9 0 1 0 3.8 0a1.9 1.9 0 1 0 -3.8 0M58 142.1a1.9 1.9 0 1 0 3.8 0a1.9 1.9 0 1 0 -3.8 0M55.3 143.8a1.9 1.9 0 1 0 3.8 0a1.9 1.9 0 1 0 -3.8 0M52.3 146.8a1.9 1.9 0 1 0 3.8 0a1.9 1.9 0 1 0 -3.8 0M50 148a1.9 1.9 0 1 0 3.8 0a1.9 1.9 0 1 0 -3.8 0M47.8 149.9a1.9 1.9 0 1 0 3.8 0a1.9 1.9 0 1 0 -3.8 0M44.4 154.4a1.9 1.9 0 1 0 3.8 0a1.9 1.9 0 1 0 -3.8 0M42.2 157.6a1.9 1.9 0 1 0 3.8 0a1.9 1.9 0 1 0 -3.8 0M40.5 158.4a1.9 1.9 0 1 0 3.8 0a1.9 1.9 0 1 0 -3.8 0M39.9 162.2a1.9 1.9 0 1 0 3.8 0a1.9 1.9 0 1 0 -3.8 0M37.8 165a1.9 1.9 0 1 0 3.8 0a1.9 1.9 0 1 0 -3.8 0M36.3 167.6a1.9 1.9 0 1 0 3.8 0a1.9 1.9 0 1 0 -3.8 0M34 170.7a1.9 1.9 0 1 0 3.8 0a1.9 1.9 0 1 0 -3.8 0M32.8 173.4a1.9 1.9 0 1 0 3.8 0a1.9 1.9 0 1 0 -3.8 0M31.7 174.7a1.9 1.9 0 1 0 3.8 0a1.9 1.9 0 1 0 -3.8 0M30.4 177.7a1.9 1.9 0 1 0 3.8 0a1.9 1.9 0 1 0 -3.8 0M28.4 179.8a1.9 1.9 0 1 0 3.8 0a1.9 1.9 0 1 0 -3.8 0M25 185.5a1.9 1.9 0 1 0 3.8 0a1.9 1.9 0 1 0 -3.8 0M45.8 163.2a1.9 1.9 0 1 0 3.8 0a1.9 1.9 0 1 0 -3.8 0M46.1 162.7a1.9 1.9 0 1 0 3.8 0a1.9 1.9 0 1 0 -3.8 0M60 145.5a1.9 1.9 0 1 0 3.8 0a1.9 1.9 0 1 0 -3.8 0M30.5 186.3a1.9 1.9 0 1 0 3.8 0a1.9 1.9 0 1 0 -3.8 0M57.8 149.8a1.9 1.9 0 1 0 3.8 0a1.9 1.9 0 1 0 -3.8 0M41.8 161.8a1.9 1.9 0 1 0 3.8 0a1.9 1.9 0 1 0 -3.8 0M26.5 185a1.9 1.9 0 1 0 3.8 0a1.9 1.9 0 1 0 -3.8 0M40.7 173.4a1.9 1.9 0 1 0 3.8 0a1.9 1.9 0 1 0 -3.8 0M39.4 178.9a1.9 1.9 0 1 0 3.8 0a1.9 1.9 0 1 0 -3.8 0M52.8 155.9a1.9 1.9 0 1 0 3.8 0a1.9 1.9 0 1 0 -3.8 0M26.9 188.8a1.9 1.9 0 1 0 3.8 0a1.9 1.9 0 1 0 -3.8 0M47.4 168.4a1.9 1.9 0 1 0 3.8 0a1.9 1.9 0 1 0 -3.8 0M47.4 167.4a1.9 1.9 0 1 0 3.8 0a1.9 1.9 0 1 0 -3.8 0M34.8 177.2a1.9 1.9 0 1 0 3.8 0a1.9 1.9 0 1 0 -3.8 0M46.5 164.6a1.9 1.9 0 1 0 3.8 0a1.9 1.9 0 1 0 -3.8 0M38.7 168.8a1.9 1.9 0 1 0 3.8 0a1.9 1.9 0 1 0 -3.8 0M41.4 175.5a1.9 1.9 0 1 0 3.8 0a1.9 1.9 0 1 0 -3.8 0M59.4 146.3a1.9 1.9 0 1 0 3.8 0a1.9 1.9 0 1 0 -3.8 0M51.6 148.5a1.9 1.9 0 1 0 3.8 0a1.9 1.9 0 1 0 -3.8 0M48.9 150.3a1.9 1.9 0 1 0 3.8 0a1.9 1.9 0 1 0 -3.8 0M25.1 185.9a1.9 1.9 0 1 0 3.8 0a1.9 1.9 0 1 0 -3.8 0M41.1 164.3a1.9 1.9 0 1 0 3.8 0a1.9 1.9 0 1 0 -3.8 0M56.8 150.7a1.9 1.9 0 1 0 3.8 0a1.9 1.9 0 1 0 -3.8 0M35.8 174.6a1.9 1.9 0 1 0 3.8 0a1.9 1.9 0 1 0 -3.8 0M41.8 160.8a1.9 1.9 0 1 0 3.8 0a1.9 1.9 0 1 0 -3.8 0M58.6 147.5a1.9 1.9 0 1 0 3.8 0a1.9 1.9 0 1 0 -3.8 0M56.9 152.5a1.9 1.9 0 1 0 3.8 0a1.9 1.9 0 1 0 -3.8 0M46.8 168.1a1.9 1.9 0 1 0 3.8 0a1.9 1.9 0 1 0 -3.8 0M50.2 153.2a1.9 1.9 0 1 0 3.8 0a1.9 1.9 0 1 0 -3.8 0M48 156.3a1.9 1.9 0 1 0 3.8 0a1.9 1.9 0 1 0 -3.8 0M49.8 150a1.9 1.9 0 1 0 3.8 0a1.9 1.9 0 1 0 -3.8 0M48.3 151.7a1.9 1.9 0 1 0 3.8 0a1.9 1.9 0 1 0 -3.8 0M38.8 163.9a1.9 1.9 0 1 0 3.8 0a1.9 1.9 0 1 0 -3.8 0M50 154a1.9 1.9 0 1 0 3.8 0a1.9 1.9 0 1 0 -3.8 0M42.7 169.2a1.9 1.9 0 1 0 3.8 0a1.9 1.9 0 1 0 -3.8 0M36.6 167.8a1.9 1.9 0 1 0 3.8 0a1.9 1.9 0 1 0 -3.8 0M45.6 157.8a1.9 1.9 0 1 0 3.8 0a1.9 1.9 0 1 0 -3.8 0M51.2 154a1.9 1.9 0 1 0 3.8 0a1.9 1.9 0 1 0 -3.8 0M60.6 142a1.9 1.9 0 1 0 3.8 0a1.9 1.9 0 1 0 -3.8 0M45.8 167.2a1.9 1.9 0 1 0 3.8 0a1.9 1.9 0 1 0 -3.8 0M44.5 172.2a1.9 1.9 0 1 0 3.8 0a1.9 1.9 0 1 0 -3.8 0M28.7 184.5a1.9 1.9 0 1 0 3.8 0a1.9 1.9 0 1 0 -3.8 0M28 185.2a1.9 1.9 0 1 0 3.8 0a1.9 1.9 0 1 0 -3.8 0M44.1 155.3a1.9 1.9 0 1 0 3.8 0a1.9 1.9 0 1 0 -3.8 0M53.2 150.5a1.9 1.9 0 1 0 3.8 0a1.9 1.9 0 1 0 -3.8 0M32.9 181.8a1.9 1.9 0 1 0 3.8 0a1.9 1.9 0 1 0 -3.8 0M48.2 158.3a1.9 1.9 0 1 0 3.8 0a1.9 1.9 0 1 0 -3.8 0M44.9 168a1.9 1.9 0 1 0 3.8 0a1.9 1.9 0 1 0 -3.8 0M42.5 173.9a1.9 1.9 0 1 0 3.8 0a1.9 1.9 0 1 0 -3.8 0M45.3 173a1.9 1.9 0 1 0 3.8 0a1.9 1.9 0 1 0 -3.8 0M34.7 172.2a1.9 1.9 0 1 0 3.8 0a1.9 1.9 0 1 0 -3.8 0M41.1 176.5a1.9 1.9 0 1 0 3.8 0a1.9 1.9 0 1 0 -3.8 0M42.2 171.7a1.9 1.9 0 1 0 3.8 0a1.9 1.9 0 1 0 -3.8 0M43.9 162.7a1.9 1.9 0 1 0 3.8 0a1.9 1.9 0 1 0 -3.8 0M58.5 148.9a1.9 1.9 0 1 0 3.8 0a1.9 1.9 0 1 0 -3.8 0M47.8 155a1.9 1.9 0 1 0 3.8 0a1.9 1.9 0 1 0 -3.8 0M34.6 171.4a1.9 1.9 0 1 0 3.8 0a1.9 1.9 0 1 0 -3.8 0M53.7 156.6a1.9 1.9 0 1 0 3.8 0a1.9 1.9 0 1 0 -3.8 0M39.4 170.7a1.9 1.9 0 1 0 3.8 0a1.9 1.9 0 1 0 -3.8 0M46.9 159.1a1.9 1.9 0 1 0 3.8 0a1.9 1.9 0 1 0 -3.8 0M30.7 181.5a1.9 1.9 0 1 0 3.8 0a1.9 1.9 0 1 0 -3.8 0M53.5 150.5a1.9 1.9 0 1 0 3.8 0a1.9 1.9 0 1 0 -3.8 0M48.9 153.4a1.9 1.9 0 1 0 3.8 0a1.9 1.9 0 1 0 -3.8 0M46.3 160.7a1.9 1.9 0 1 0 3.8 0a1.9 1.9 0 1 0 -3.8 0M47.3 154.7a1.9 1.9 0 1 0 3.8 0a1.9 1.9 0 1 0 -3.8 0M32.7 182a1.9 1.9 0 1 0 3.8 0a1.9 1.9 0 1 0 -3.8 0M28.8 183.6a1.9 1.9 0 1 0 3.8 0a1.9 1.9 0 1 0 -3.8 0M58 148.3a1.9 1.9 0 1 0 3.8 0a1.9 1.9 0 1 0 -3.8 0M46.7 167a1.9 1.9 0 1 0 3.8 0a1.9 1.9 0 1 0 -3.8 0M56.2 150a1.9 1.9 0 1 0 3.8 0a1.9 1.9 0 1 0 -3.8 0M26.4 182.7a1.9 1.9 0 1 0 3.8 0a1.9 1.9 0 1 0 -3.8 0M49 159.4a1.9 1.9 0 1 0 3.8 0a1.9 1.9 0 1 0 -3.8 0M43.4 168.2a1.9 1.9 0 1 0 3.8 0a1.9 1.9 0 1 0 -3.8 0M47.2 169.1a1.9 1.9 0 1 0 3.8 0a1.9 1.9 0 1 0 -3.8 0M48.6 162.5a1.9 1.9 0 1 0 3.8 0a1.9 1.9 0 1 0 -3.8 0M43.3 172.5a1.9 1.9 0 1 0 3.8 0a1.9 1.9 0 1 0 -3.8 0M37.8 171.3a1.9 1.9 0 1 0 3.8 0a1.9 1.9 0 1 0 -3.8 0M43 163a1.9 1.9 0 1 0 3.8 0a1.9 1.9 0 1 0 -3.8 0M33.7 182.9a1.9 1.9 0 1 0 3.8 0a1.9 1.9 0 1 0 -3.8 0M49.2 150.1a1.9 1.9 0 1 0 3.8 0a1.9 1.9 0 1 0 -3.8 0M61.7 137.3a1.9 1.9 0 1 0 3.8 0a1.9 1.9 0 1 0 -3.8 0M43.4 163.1a1.9 1.9 0 1 0 3.8 0a1.9 1.9 0 1 0 -3.8 0M57.4 142.4a1.9 1.9 0 1 0 3.8 0a1.9 1.9 0 1 0 -3.8 0M36.7 175.9a1.9 1.9 0 1 0 3.8 0a1.9 1.9 0 1 0 -3.8 0M46.7 162.5a1.9 1.9 0 1 0 3.8 0a1.9 1.9 0 1 0 -3.8 0M42.7 157.4a1.9 1.9 0 1 0 3.8 0a1.9 1.9 0 1 0 -3.8 0M46.6 169.1a1.9 1.9 0 1 0 3.8 0a1.9 1.9 0 1 0 -3.8 0M51.9 150.2a1.9 1.9 0 1 0 3.8 0a1.9 1.9 0 1 0 -3.8 0M49.7 156.2a1.9 1.9 0 1 0 3.8 0a1.9 1.9 0 1 0 -3.8 0M62.3 136.6a1.9 1.9 0 1 0 3.8 0a1.9 1.9 0 1 0 -3.8 0M37.7 166.4a1.9 1.9 0 1 0 3.8 0a1.9 1.9 0 1 0 -3.8 0M32 181.4a1.9 1.9 0 1 0 3.8 0a1.9 1.9 0 1 0 -3.8 0M44.3 155.6a1.9 1.9 0 1 0 3.8 0a1.9 1.9 0 1 0 -3.8 0M48.8 150.8a1.9 1.9 0 1 0 3.8 0a1.9 1.9 0 1 0 -3.8 0M37.1 181a1.9 1.9 0 1 0 3.8 0a1.9 1.9 0 1 0 -3.8 0M38.1 166.2a1.9 1.9 0 1 0 3.8 0a1.9 1.9 0 1 0 -3.8 0M52.2 149.2a1.9 1.9 0 1 0 3.8 0a1.9 1.9 0 1 0 -3.8 0M46.2 159.2a1.9 1.9 0 1 0 3.8 0a1.9 1.9 0 1 0 -3.8 0M93.6 126.3a1.9 1.9 0 1 0 3.8 0a1.9 1.9 0 1 0 -3.8 0M90.8 127.7a1.9 1.9 0 1 0 3.8 0a1.9 1.9 0 1 0 -3.8 0M76.3 129.7a1.9 1.9 0 1 0 3.8 0a1.9 1.9 0 1 0 -3.8 0M75.8 133.5a1.9 1.9 0 1 0 3.8 0a1.9 1.9 0 1 0 -3.8 0M67.5 136.5a1.9 1.9 0 1 0 3.8 0a1.9 1.9 0 1 0 -3.8 0M62.4 135.3a1.9 1.9 0 1 0 3.8 0a1.9 1.9 0 1 0 -3.8 0M54.3 162a1.9 1.9 0 1 0 3.8 0a1.9 1.9 0 1 0 -3.8 0M55.6 163.5a1.9 1.9 0 1 0 3.8 0a1.9 1.9 0 1 0 -3.8 0M52.7 167.5a1.9 1.9 0 1 0 3.8 0a1.9 1.9 0 1 0 -3.8 0M51.1 169a1.9 1.9 0 1 0 3.8 0a1.9 1.9 0 1 0 -3.8 0M59.7 155.7a1.9 1.9 0 1 0 3.8 0a1.9 1.9 0 1 0 -3.8 0M60.5 158.8a1.9 1.9 0 1 0 3.8 0a1.9 1.9 0 1 0 -3.8 0M64.1 141a1.9 1.9 0 1 0 3.8 0a1.9 1.9 0 1 0 -3.8 0M65.1 138a1.9 1.9 0 1 0 3.8 0a1.9 1.9 0 1 0 -3.8 0M112.9 182.5a1.9 1.9 0 1 0 3.8 0a1.9 1.9 0 1 0 -3.8 0M113.9 180.4a1.9 1.9 0 1 0 3.8 0a1.9 1.9 0 1 0 -3.8 0M116.2 178.4a1.9 1.9 0 1 0 3.8 0a1.9 1.9 0 1 0 -3.8 0M117.3 175.5a1.9 1.9 0 1 0 3.8 0a1.9 1.9 0 1 0 -3.8 0M119.5 173a1.9 1.9 0 1 0 3.8 0a1.9 1.9 0 1 0 -3.8 0M121.7 169.9a1.9 1.9 0 1 0 3.8 0a1.9 1.9 0 1 0 -3.8 0M122.7 168.5a1.9 1.9 0 1 0 3.8 0a1.9 1.9 0 1 0 -3.8 0M124.3 164.2a1.9 1.9 0 1 0 3.8 0a1.9 1.9 0 1 0 -3.8 0M125.4 162.7a1.9 1.9 0 1 0 3.8 0a1.9 1.9 0 1 0 -3.8 0M126.6 157.1a1.9 1.9 0 1 0 3.8 0a1.9 1.9 0 1 0 -3.8 0M129.6 153.2a1.9 1.9 0 1 0 3.8 0a1.9 1.9 0 1 0 -3.8 0M130.8 151.8a1.9 1.9 0 1 0 3.8 0a1.9 1.9 0 1 0 -3.8 0M134.3 145.1a1.9 1.9 0 1 0 3.8 0a1.9 1.9 0 1 0 -3.8 0M134.4 143.3a1.9 1.9 0 1 0 3.8 0a1.9 1.9 0 1 0 -3.8 0M137.3 141.4a1.9 1.9 0 1 0 3.8 0a1.9 1.9 0 1 0 -3.8 0M139 139a1.9 1.9 0 1 0 3.8 0a1.9 1.9 0 1 0 -3.8 0M141 137.1a1.9 1.9 0 1 0 3.8 0a1.9 1.9 0 1 0 -3.8 0M138.4 136a1.9 1.9 0 1 0 3.8 0a1.9 1.9 0 1 0 -3.8 0M136.2 136.1a1.9 1.9 0 1 0 3.8 0a1.9 1.9 0 1 0 -3.8 0M133.9 137.5a1.9 1.9 0 1 0 3.8 0a1.9 1.9 0 1 0 -3.8 0M131.6 140.1a1.9 1.9 0 1 0 3.8 0a1.9 1.9 0 1 0 -3.8 0M128.9 142.5a1.9 1.9 0 1 0 3.8 0a1.9 1.9 0 1 0 -3.8 0M125.1 146.7a1.9 1.9 0 1 0 3.8 0a1.9 1.9 0 1 0 -3.8 0M123.6 149.2a1.9 1.9 0 1 0 3.8 0a1.9 1.9 0 1 0 -3.8 0M121.8 151.8a1.9 1.9 0 1 0 3.8 0a1.9 1.9 0 1 0 -3.8 0M119.9 153.3a1.9 1.9 0 1 0 3.8 0a1.9 1.9 0 1 0 -3.8 0M118.6 156.6a1.9 1.9 0 1 0 3.8 0a1.9 1.9 0 1 0 -3.8 0M116.9 160.1a1.9 1.9 0 1 0 3.8 0a1.9 1.9 0 1 0 -3.8 0M116.1 162.9a1.9 1.9 0 1 0 3.8 0a1.9 1.9 0 1 0 -3.8 0M115.1 164.7a1.9 1.9 0 1 0 3.8 0a1.9 1.9 0 1 0 -3.8 0M114 167.8a1.9 1.9 0 1 0 3.8 0a1.9 1.9 0 1 0 -3.8 0M113.3 171a1.9 1.9 0 1 0 3.8 0a1.9 1.9 0 1 0 -3.8 0M111.9 172.8a1.9 1.9 0 1 0 3.8 0a1.9 1.9 0 1 0 -3.8 0M111.4 176.4a1.9 1.9 0 1 0 3.8 0a1.9 1.9 0 1 0 -3.8 0M110.4 181.2a1.9 1.9 0 1 0 3.8 0a1.9 1.9 0 1 0 -3.8 0M109.9 183.4a1.9 1.9 0 1 0 3.8 0a1.9 1.9 0 1 0 -3.8 0M109.8 185a1.9 1.9 0 1 0 3.8 0a1.9 1.9 0 1 0 -3.8 0M112 176.6a1.9 1.9 0 1 0 3.8 0a1.9 1.9 0 1 0 -3.8 0M109.9 187.5a1.9 1.9 0 1 0 3.8 0a1.9 1.9 0 1 0 -3.8 0M136.1 139.5a1.9 1.9 0 1 0 3.8 0a1.9 1.9 0 1 0 -3.8 0M123.4 154.1a1.9 1.9 0 1 0 3.8 0a1.9 1.9 0 1 0 -3.8 0M113.6 176.8a1.9 1.9 0 1 0 3.8 0a1.9 1.9 0 1 0 -3.8 0M111.2 178.1a1.9 1.9 0 1 0 3.8 0a1.9 1.9 0 1 0 -3.8 0M127.1 148.6a1.9 1.9 0 1 0 3.8 0a1.9 1.9 0 1 0 -3.8 0M118.3 171.9a1.9 1.9 0 1 0 3.8 0a1.9 1.9 0 1 0 -3.8 0M116.8 169.3a1.9 1.9 0 1 0 3.8 0a1.9 1.9 0 1 0 -3.8 0M121.8 164.1a1.9 1.9 0 1 0 3.8 0a1.9 1.9 0 1 0 -3.8 0M139.9 138.1a1.9 1.9 0 1 0 3.8 0a1.9 1.9 0 1 0 -3.8 0M115.8 163.9a1.9 1.9 0 1 0 3.8 0a1.9 1.9 0 1 0 -3.8 0M123.4 150.4a1.9 1.9 0 1 0 3.8 0a1.9 1.9 0 1 0 -3.8 0M119.7 172a1.9 1.9 0 1 0 3.8 0a1.9 1.9 0 1 0 -3.8 0M118.9 163.4a1.9 1.9 0 1 0 3.8 0a1.9 1.9 0 1 0 -3.8 0M132.4 144.7a1.9 1.9 0 1 0 3.8 0a1.9 1.9 0 1 0 -3.8 0M113 172a1.9 1.9 0 1 0 3.8 0a1.9 1.9 0 1 0 -3.8 0M121 166.4a1.9 1.9 0 1 0 3.8 0a1.9 1.9 0 1 0 -3.8 0M111.9 179.9a1.9 1.9 0 1 0 3.8 0a1.9 1.9 0 1 0 -3.8 0M122.4 155.4a1.9 1.9 0 1 0 3.8 0a1.9 1.9 0 1 0 -3.8 0M120.7 161a1.9 1.9 0 1 0 3.8 0a1.9 1.9 0 1 0 -3.8 0M119.8 171.5a1.9 1.9 0 1 0 3.8 0a1.9 1.9 0 1 0 -3.8 0M137.9 139.9a1.9 1.9 0 1 0 3.8 0a1.9 1.9 0 1 0 -3.8 0M117.4 168.8a1.9 1.9 0 1 0 3.8 0a1.9 1.9 0 1 0 -3.8 0M113.5 178.5a1.9 1.9 0 1 0 3.8 0a1.9 1.9 0 1 0 -3.8 0M118.3 171a1.9 1.9 0 1 0 3.8 0a1.9 1.9 0 1 0 -3.8 0M122.7 165.5a1.9 1.9 0 1 0 3.8 0a1.9 1.9 0 1 0 -3.8 0M137 139.9a1.9 1.9 0 1 0 3.8 0a1.9 1.9 0 1 0 -3.8 0M115.6 176.1a1.9 1.9 0 1 0 3.8 0a1.9 1.9 0 1 0 -3.8 0M123.4 150.5a1.9 1.9 0 1 0 3.8 0a1.9 1.9 0 1 0 -3.8 0M118.2 158.3a1.9 1.9 0 1 0 3.8 0a1.9 1.9 0 1 0 -3.8 0M127.7 144.2a1.9 1.9 0 1 0 3.8 0a1.9 1.9 0 1 0 -3.8 0M123.3 150.4a1.9 1.9 0 1 0 3.8 0a1.9 1.9 0 1 0 -3.8 0M135.4 140.4a1.9 1.9 0 1 0 3.8 0a1.9 1.9 0 1 0 -3.8 0M122.2 167.4a1.9 1.9 0 1 0 3.8 0a1.9 1.9 0 1 0 -3.8 0M118.3 169.7a1.9 1.9 0 1 0 3.8 0a1.9 1.9 0 1 0 -3.8 0M123.3 163.2a1.9 1.9 0 1 0 3.8 0a1.9 1.9 0 1 0 -3.8 0M122.5 152.4a1.9 1.9 0 1 0 3.8 0a1.9 1.9 0 1 0 -3.8 0M136.3 142.1a1.9 1.9 0 1 0 3.8 0a1.9 1.9 0 1 0 -3.8 0M114.1 178.6a1.9 1.9 0 1 0 3.8 0a1.9 1.9 0 1 0 -3.8 0M127.7 151.8a1.9 1.9 0 1 0 3.8 0a1.9 1.9 0 1 0 -3.8 0M132.7 142.8a1.9 1.9 0 1 0 3.8 0a1.9 1.9 0 1 0 -3.8 0M128.5 147.7a1.9 1.9 0 1 0 3.8 0a1.9 1.9 0 1 0 -3.8 0M132.1 147.2a1.9 1.9 0 1 0 3.8 0a1.9 1.9 0 1 0 -3.8 0M140.6 136.3a1.9 1.9 0 1 0 3.8 0a1.9 1.9 0 1 0 -3.8 0M121.5 169a1.9 1.9 0 1 0 3.8 0a1.9 1.9 0 1 0 -3.8 0M113.2 174.2a1.9 1.9 0 1 0 3.8 0a1.9 1.9 0 1 0 -3.8 0M119.4 159.1a1.9 1.9 0 1 0 3.8 0a1.9 1.9 0 1 0 -3.8 0M114.7 176.1a1.9 1.9 0 1 0 3.8 0a1.9 1.9 0 1 0 -3.8 0M120.6 155a1.9 1.9 0 1 0 3.8 0a1.9 1.9 0 1 0 -3.8 0M124.2 152a1.9 1.9 0 1 0 3.8 0a1.9 1.9 0 1 0 -3.8 0M132.9 139.2a1.9 1.9 0 1 0 3.8 0a1.9 1.9 0 1 0 -3.8 0M130.7 147.4a1.9 1.9 0 1 0 3.8 0a1.9 1.9 0 1 0 -3.8 0M134.3 141.5a1.9 1.9 0 1 0 3.8 0a1.9 1.9 0 1 0 -3.8 0M122.7 162.9a1.9 1.9 0 1 0 3.8 0a1.9 1.9 0 1 0 -3.8 0M127.9 151.7a1.9 1.9 0 1 0 3.8 0a1.9 1.9 0 1 0 -3.8 0M116 164.1a1.9 1.9 0 1 0 3.8 0a1.9 1.9 0 1 0 -3.8 0M122.1 166.2a1.9 1.9 0 1 0 3.8 0a1.9 1.9 0 1 0 -3.8 0M124.9 157a1.9 1.9 0 1 0 3.8 0a1.9 1.9 0 1 0 -3.8 0M115.6 173.4a1.9 1.9 0 1 0 3.8 0a1.9 1.9 0 1 0 -3.8 0M116.9 161.3a1.9 1.9 0 1 0 3.8 0a1.9 1.9 0 1 0 -3.8 0M121.8 157.6a1.9 1.9 0 1 0 3.8 0a1.9 1.9 0 1 0 -3.8 0M128.8 151.5a1.9 1.9 0 1 0 3.8 0a1.9 1.9 0 1 0 -3.8 0M114 175.1a1.9 1.9 0 1 0 3.8 0a1.9 1.9 0 1 0 -3.8 0M135.6 140.8a1.9 1.9 0 1 0 3.8 0a1.9 1.9 0 1 0 -3.8 0M135.1 140.8a1.9 1.9 0 1 0 3.8 0a1.9 1.9 0 1 0 -3.8 0M129.6 142.1a1.9 1.9 0 1 0 3.8 0a1.9 1.9 0 1 0 -3.8 0M112.2 178.9a1.9 1.9 0 1 0 3.8 0a1.9 1.9 0 1 0 -3.8 0M137 138.8a1.9 1.9 0 1 0 3.8 0a1.9 1.9 0 1 0 -3.8 0M118.6 172.6a1.9 1.9 0 1 0 3.8 0a1.9 1.9 0 1 0 -3.8 0M123.2 161.1a1.9 1.9 0 1 0 3.8 0a1.9 1.9 0 1 0 -3.8 0M178.8 126.9a1.9 1.9 0 1 0 3.8 0a1.9 1.9 0 1 0 -3.8 0M173.6 127.6a1.9 1.9 0 1 0 3.8 0a1.9 1.9 0 1 0 -3.8 0M152.2 129.7a1.9 1.9 0 1 0 3.8 0a1.9 1.9 0 1 0 -3.8 0M152.2 134a1.9 1.9 0 1 0 3.8 0a1.9 1.9 0 1 0 -3.8 0M142.8 137a1.9 1.9 0 1 0 3.8 0a1.9 1.9 0 1 0 -3.8 0M137.7 135.3a1.9 1.9 0 1 0 3.8 0a1.9 1.9 0 1 0 -3.8 0M135.1 158a1.9 1.9 0 1 0 3.8 0a1.9 1.9 0 1 0 -3.8 0M132.3 154.3a1.9 1.9 0 1 0 3.8 0a1.9 1.9 0 1 0 -3.8 0M130.4 160.8a1.9 1.9 0 1 0 3.8 0a1.9 1.9 0 1 0 -3.8 0M129.5 162.7a1.9 1.9 0 1 0 3.8 0a1.9 1.9 0 1 0 -3.8 0M136.9 135.6a1.9 1.9 0 1 0 3.8 0a1.9 1.9 0 1 0 -3.8 0M199.8 191.7a1.9 1.9 0 1 0 3.8 0a1.9 1.9 0 1 0 -3.8 0M203.9 189.4a1.9 1.9 0 1 0 3.8 0a1.9 1.9 0 1 0 -3.8 0M208.7 185a1.9 1.9 0 1 0 3.8 0a1.9 1.9 0 1 0 -3.8 0M212.5 183.2a1.9 1.9 0 1 0 3.8 0a1.9 1.9 0 1 0 -3.8 0M214.3 182.1a1.9 1.9 0 1 0 3.8 0a1.9 1.9 0 1 0 -3.8 0M218.3 180.3a1.9 1.9 0 1 0 3.8 0a1.9 1.9 0 1 0 -3.8 0M219.7 179.6a1.9 1.9 0 1 0 3.8 0a1.9 1.9 0 1 0 -3.8 0M222.7 177.1a1.9 1.9 0 1 0 3.8 0a1.9 1.9 0 1 0 -3.8 0M225.1 174.6a1.9 1.9 0 1 0 3.8 0a1.9 1.9 0 1 0 -3.8 0M228.9 171.3a1.9 1.9 0 1 0 3.8 0a1.9 1.9 0 1 0 -3.8 0M232.3 166.5a1.9 1.9 0 1 0 3.8 0a1.9 1.9 0 1 0 -3.8 0M234 163.9a1.9 1.9 0 1 0 3.8 0a1.9 1.9 0 1 0 -3.8 0M238.3 158.9a1.9 1.9 0 1 0 3.8 0a1.9 1.9 0 1 0 -3.8 0M239.1 156.8a1.9 1.9 0 1 0 3.8 0a1.9 1.9 0 1 0 -3.8 0M242.1 153.7a1.9 1.9 0 1 0 3.8 0a1.9 1.9 0 1 0 -3.8 0M243.9 151.6a1.9 1.9 0 1 0 3.8 0a1.9 1.9 0 1 0 -3.8 0M246.1 148.7a1.9 1.9 0 1 0 3.8 0a1.9 1.9 0 1 0 -3.8 0M245.6 146.1a1.9 1.9 0 1 0 3.8 0a1.9 1.9 0 1 0 -3.8 0M246.1 143.6a1.9 1.9 0 1 0 3.8 0a1.9 1.9 0 1 0 -3.8 0M243.8 143.2a1.9 1.9 0 1 0 3.8 0a1.9 1.9 0 1 0 -3.8 0M241.2 146.3a1.9 1.9 0 1 0 3.8 0a1.9 1.9 0 1 0 -3.8 0M236.6 151a1.9 1.9 0 1 0 3.8 0a1.9 1.9 0 1 0 -3.8 0M232 154.4a1.9 1.9 0 1 0 3.8 0a1.9 1.9 0 1 0 -3.8 0M230.1 157.8a1.9 1.9 0 1 0 3.8 0a1.9 1.9 0 1 0 -3.8 0M228.8 159a1.9 1.9 0 1 0 3.8 0a1.9 1.9 0 1 0 -3.8 0M224.4 163.6a1.9 1.9 0 1 0 3.8 0a1.9 1.9 0 1 0 -3.8 0M220 167.6a1.9 1.9 0 1 0 3.8 0a1.9 1.9 0 1 0 -3.8 0M218.8 170.5a1.9 1.9 0 1 0 3.8 0a1.9 1.9 0 1 0 -3.8 0M215.9 172.5a1.9 1.9 0 1 0 3.8 0a1.9 1.9 0 1 0 -3.8 0M213.6 173.9a1.9 1.9 0 1 0 3.8 0a1.9 1.9 0 1 0 -3.8 0M211.2 176.5a1.9 1.9 0 1 0 3.8 0a1.9 1.9 0 1 0 -3.8 0M209.7 178.3a1.9 1.9 0 1 0 3.8 0a1.9 1.9 0 1 0 -3.8 0M204.8 183.7a1.9 1.9 0 1 0 3.8 0a1.9 1.9 0 1 0 -3.8 0M203.3 185.6a1.9 1.9 0 1 0 3.8 0a1.9 1.9 0 1 0 -3.8 0M201.9 187.4a1.9 1.9 0 1 0 3.8 0a1.9 1.9 0 1 0 -3.8 0M202.7 190.4a1.9 1.9 0 1 0 3.8 0a1.9 1.9 0 1 0 -3.8 0M238.7 156.1a1.9 1.9 0 1 0 3.8 0a1.9 1.9 0 1 0 -3.8 0M233 155.2a1.9 1.9 0 1 0 3.8 0a1.9 1.9 0 1 0 -3.8 0M238.9 153.6a1.9 1.9 0 1 0 3.8 0a1.9 1.9 0 1 0 -3.8 0M202.2 187.8a1.9 1.9 0 1 0 3.8 0a1.9 1.9 0 1 0 -3.8 0M238.6 153.1a1.9 1.9 0 1 0 3.8 0a1.9 1.9 0 1 0 -3.8 0M242.1 146.4a1.9 1.9 0 1 0 3.8 0a1.9 1.9 0 1 0 -3.8 0M232.7 157.6a1.9 1.9 0 1 0 3.8 0a1.9 1.9 0 1 0 -3.8 0M209.7 183.6a1.9 1.9 0 1 0 3.8 0a1.9 1.9 0 1 0 -3.8 0M229 167a1.9 1.9 0 1 0 3.8 0a1.9 1.9 0 1 0 -3.8 0M226.5 163.2a1.9 1.9 0 1 0 3.8 0a1.9 1.9 0 1 0 -3.8 0M237.7 153.3a1.9 1.9 0 1 0 3.8 0a1.9 1.9 0 1 0 -3.8 0M221.4 176.4a1.9 1.9 0 1 0 3.8 0a1.9 1.9 0 1 0 -3.8 0M236.3 160.8a1.9 1.9 0 1 0 3.8 0a1.9 1.9 0 1 0 -3.8 0M239.8 156.6a1.9 1.9 0 1 0 3.8 0a1.9 1.9 0 1 0 -3.8 0M216.9 178.8a1.9 1.9 0 1 0 3.8 0a1.9 1.9 0 1 0 -3.8 0M226.1 172a1.9 1.9 0 1 0 3.8 0a1.9 1.9 0 1 0 -3.8 0M211 181.5a1.9 1.9 0 1 0 3.8 0a1.9 1.9 0 1 0 -3.8 0M233.6 157a1.9 1.9 0 1 0 3.8 0a1.9 1.9 0 1 0 -3.8 0M226.7 168.1a1.9 1.9 0 1 0 3.8 0a1.9 1.9 0 1 0 -3.8 0M216.9 175.2a1.9 1.9 0 1 0 3.8 0a1.9 1.9 0 1 0 -3.8 0M234.2 154.6a1.9 1.9 0 1 0 3.8 0a1.9 1.9 0 1 0 -3.8 0M239.8 152.2a1.9 1.9 0 1 0 3.8 0a1.9 1.9 0 1 0 -3.8 0M244.4 147.1a1.9 1.9 0 1 0 3.8 0a1.9 1.9 0 1 0 -3.8 0M217.1 173.7a1.9 1.9 0 1 0 3.8 0a1.9 1.9 0 1 0 -3.8 0M205.2 184.1a1.9 1.9 0 1 0 3.8 0a1.9 1.9 0 1 0 -3.8 0M230.2 160.2a1.9 1.9 0 1 0 3.8 0a1.9 1.9 0 1 0 -3.8 0M222.8 174.7a1.9 1.9 0 1 0 3.8 0a1.9 1.9 0 1 0 -3.8 0M231.8 165a1.9 1.9 0 1 0 3.8 0a1.9 1.9 0 1 0 -3.8 0M238 150.4a1.9 1.9 0 1 0 3.8 0a1.9 1.9 0 1 0 -3.8 0M239.7 148.8a1.9 1.9 0 1 0 3.8 0a1.9 1.9 0 1 0 -3.8 0M223.8 175.1a1.9 1.9 0 1 0 3.8 0a1.9 1.9 0 1 0 -3.8 0M244.9 142.5a1.9 1.9 0 1 0 3.8 0a1.9 1.9 0 1 0 -3.8 0M227.1 172.9a1.9 1.9 0 1 0 3.8 0a1.9 1.9 0 1 0 -3.8 0M235.6 151.8a1.9 1.9 0 1 0 3.8 0a1.9 1.9 0 1 0 -3.8 0M205.8 185.5a1.9 1.9 0 1 0 3.8 0a1.9 1.9 0 1 0 -3.8 0M215.6 178.9a1.9 1.9 0 1 0 3.8 0a1.9 1.9 0 1 0 -3.8 0M208.9 184a1.9 1.9 0 1 0 3.8 0a1.9 1.9 0 1 0 -3.8 0M216.7 172.7a1.9 1.9 0 1 0 3.8 0a1.9 1.9 0 1 0 -3.8 0M211.6 183.3a1.9 1.9 0 1 0 3.8 0a1.9 1.9 0 1 0 -3.8 0M226.1 164.9a1.9 1.9 0 1 0 3.8 0a1.9 1.9 0 1 0 -3.8 0M218.4 173a1.9 1.9 0 1 0 3.8 0a1.9 1.9 0 1 0 -3.8 0M205.3 183.5a1.9 1.9 0 1 0 3.8 0a1.9 1.9 0 1 0 -3.8 0M245.6 146.5a1.9 1.9 0 1 0 3.8 0a1.9 1.9 0 1 0 -3.8 0M214 180a1.9 1.9 0 1 0 3.8 0a1.9 1.9 0 1 0 -3.8 0M224.6 171.9a1.9 1.9 0 1 0 3.8 0a1.9 1.9 0 1 0 -3.8 0M224.8 174.2a1.9 1.9 0 1 0 3.8 0a1.9 1.9 0 1 0 -3.8 0M223.1 172.9a1.9 1.9 0 1 0 3.8 0a1.9 1.9 0 1 0 -3.8 0M232.4 162.9a1.9 1.9 0 1 0 3.8 0a1.9 1.9 0 1 0 -3.8 0M230.7 160.7a1.9 1.9 0 1 0 3.8 0a1.9 1.9 0 1 0 -3.8 0M242.3 147.8a1.9 1.9 0 1 0 3.8 0a1.9 1.9 0 1 0 -3.8 0M216.2 180.7a1.9 1.9 0 1 0 3.8 0a1.9 1.9 0 1 0 -3.8 0M219 175.4a1.9 1.9 0 1 0 3.8 0a1.9 1.9 0 1 0 -3.8 0M220.1 178.9a1.9 1.9 0 1 0 3.8 0a1.9 1.9 0 1 0 -3.8 0M223.3 167a1.9 1.9 0 1 0 3.8 0a1.9 1.9 0 1 0 -3.8 0M224.5 174.8a1.9 1.9 0 1 0 3.8 0a1.9 1.9 0 1 0 -3.8 0M230 162.3a1.9 1.9 0 1 0 3.8 0a1.9 1.9 0 1 0 -3.8 0M241.8 149.5a1.9 1.9 0 1 0 3.8 0a1.9 1.9 0 1 0 -3.8 0M226.2 169.9a1.9 1.9 0 1 0 3.8 0a1.9 1.9 0 1 0 -3.8 0M218.1 178.9a1.9 1.9 0 1 0 3.8 0a1.9 1.9 0 1 0 -3.8 0M224.5 172.8a1.9 1.9 0 1 0 3.8 0a1.9 1.9 0 1 0 -3.8 0M241.7 147.4a1.9 1.9 0 1 0 3.8 0a1.9 1.9 0 1 0 -3.8 0M243.9 151.4a1.9 1.9 0 1 0 3.8 0a1.9 1.9 0 1 0 -3.8 0M209.7 183a1.9 1.9 0 1 0 3.8 0a1.9 1.9 0 1 0 -3.8 0M223.3 167.2a1.9 1.9 0 1 0 3.8 0a1.9 1.9 0 1 0 -3.8 0M200.5 189.4a1.9 1.9 0 1 0 3.8 0a1.9 1.9 0 1 0 -3.8 0M242 146.4a1.9 1.9 0 1 0 3.8 0a1.9 1.9 0 1 0 -3.8 0M216.8 176.3a1.9 1.9 0 1 0 3.8 0a1.9 1.9 0 1 0 -3.8 0M229 169.1a1.9 1.9 0 1 0 3.8 0a1.9 1.9 0 1 0 -3.8 0M237.2 151.5a1.9 1.9 0 1 0 3.8 0a1.9 1.9 0 1 0 -3.8 0M207.1 184.2a1.9 1.9 0 1 0 3.8 0a1.9 1.9 0 1 0 -3.8 0M228.2 170.7a1.9 1.9 0 1 0 3.8 0a1.9 1.9 0 1 0 -3.8 0M232.8 155.3a1.9 1.9 0 1 0 3.8 0a1.9 1.9 0 1 0 -3.8 0M216.2 176.8a1.9 1.9 0 1 0 3.8 0a1.9 1.9 0 1 0 -3.8 0M205.4 186.4a1.9 1.9 0 1 0 3.8 0a1.9 1.9 0 1 0 -3.8 0M243.4 147.3a1.9 1.9 0 1 0 3.8 0a1.9 1.9 0 1 0 -3.8 0M225.6 166.7a1.9 1.9 0 1 0 3.8 0a1.9 1.9 0 1 0 -3.8 0M207 186.3a1.9 1.9 0 1 0 3.8 0a1.9 1.9 0 1 0 -3.8 0M223.3 173.4a1.9 1.9 0 1 0 3.8 0a1.9 1.9 0 1 0 -3.8 0M205.5 185.2a1.9 1.9 0 1 0 3.8 0a1.9 1.9 0 1 0 -3.8 0M227.1 164.5a1.9 1.9 0 1 0 3.8 0a1.9 1.9 0 1 0 -3.8 0M243.4 151.5a1.9 1.9 0 1 0 3.8 0a1.9 1.9 0 1 0 -3.8 0M207.3 182.2a1.9 1.9 0 1 0 3.8 0a1.9 1.9 0 1 0 -3.8 0M246 151.2a1.9 1.9 0 1 0 3.8 0a1.9 1.9 0 1 0 -3.8 0M249 146.8a1.9 1.9 0 1 0 3.8 0a1.9 1.9 0 1 0 -3.8 0M252 141.8a1.9 1.9 0 1 0 3.8 0a1.9 1.9 0 1 0 -3.8 0M255.2 137.6a1.9 1.9 0 1 0 3.8 0a1.9 1.9 0 1 0 -3.8 0M246.2 141.8a1.9 1.9 0 1 0 3.8 0a1.9 1.9 0 1 0 -3.8 0M247.6 150.2a1.9 1.9 0 1 0 3.8 0a1.9 1.9 0 1 0 -3.8 0M245.8 148.8a1.9 1.9 0 1 0 3.8 0a1.9 1.9 0 1 0 -3.8 0M254.2 135.2a1.9 1.9 0 1 0 3.8 0a1.9 1.9 0 1 0 -3.8 0M244.8 153.1a1.9 1.9 0 1 0 3.8 0a1.9 1.9 0 1 0 -3.8 0M248.3 140.6a1.9 1.9 0 1 0 3.8 0a1.9 1.9 0 1 0 -3.8 0M246.4 144a1.9 1.9 0 1 0 3.8 0a1.9 1.9 0 1 0 -3.8 0M248.2 146.8a1.9 1.9 0 1 0 3.8 0a1.9 1.9 0 1 0 -3.8 0M252.5 139a1.9 1.9 0 1 0 3.8 0a1.9 1.9 0 1 0 -3.8 0M244.2 147.5a1.9 1.9 0 1 0 3.8 0a1.9 1.9 0 1 0 -3.8 0M245.3 139.8a1.9 1.9 0 1 0 3.8 0a1.9 1.9 0 1 0 -3.8 0M247.5 148.6a1.9 1.9 0 1 0 3.8 0a1.9 1.9 0 1 0 -3.8 0M249.3 137.8a1.9 1.9 0 1 0 3.8 0a1.9 1.9 0 1 0 -3.8 0M247.5 150a1.9 1.9 0 1 0 3.8 0a1.9 1.9 0 1 0 -3.8 0M253.6 138.5a1.9 1.9 0 1 0 3.8 0a1.9 1.9 0 1 0 -3.8 0M257.2 133.9a1.9 1.9 0 1 0 3.8 0a1.9 1.9 0 1 0 -3.8 0M246.3 142.8a1.9 1.9 0 1 0 3.8 0a1.9 1.9 0 1 0 -3.8 0M248.3 137a1.9 1.9 0 1 0 3.8 0a1.9 1.9 0 1 0 -3.8 0M249 145.6a1.9 1.9 0 1 0 3.8 0a1.9 1.9 0 1 0 -3.8 0M245 143a1.9 1.9 0 1 0 3.8 0a1.9 1.9 0 1 0 -3.8 0M247.8 147.5a1.9 1.9 0 1 0 3.8 0a1.9 1.9 0 1 0 -3.8 0M256.6 135.4a1.9 1.9 0 1 0 3.8 0a1.9 1.9 0 1 0 -3.8 0M248.3 144.3a1.9 1.9 0 1 0 3.8 0a1.9 1.9 0 1 0 -3.8 0M244 153.4a1.9 1.9 0 1 0 3.8 0a1.9 1.9 0 1 0 -3.8 0M263.3 126.1a1.9 1.9 0 1 0 3.8 0a1.9 1.9 0 1 0 -3.8 0M269.4 127.5a1.9 1.9 0 1 0 3.8 0a1.9 1.9 0 1 0 -3.8 0M263.6 130.2a1.9 1.9 0 1 0 3.8 0a1.9 1.9 0 1 0 -3.8 0M257.2 133.6a1.9 1.9 0 1 0 3.8 0a1.9 1.9 0 1 0 -3.8 0M243 142.4a1.9 1.9 0 1 0 3.8 0a1.9 1.9 0 1 0 -3.8 0M218.4 164.9a1.9 1.9 0 1 0 3.8 0a1.9 1.9 0 1 0 -3.8 0M238.8 162.2a1.9 1.9 0 1 0 3.8 0a1.9 1.9 0 1 0 -3.8 0M227.2 175.7a1.9 1.9 0 1 0 3.8 0a1.9 1.9 0 1 0 -3.8 0M221.8 179.8a1.9 1.9 0 1 0 3.8 0a1.9 1.9 0 1 0 -3.8 0M208.9 178.5a1.9 1.9 0 1 0 3.8 0a1.9 1.9 0 1 0 -3.8 0M248.4 148.5a1.9 1.9 0 1 0 3.8 0a1.9 1.9 0 1 0 -3.8 0M243 155.2a1.9 1.9 0 1 0 3.8 0a1.9 1.9 0 1 0 -3.8 0M238.3 161.3a1.9 1.9 0 1 0 3.8 0a1.9 1.9 0 1 0 -3.8 0M254.6 134.5a1.9 1.9 0 1 0 3.8 0a1.9 1.9 0 1 0 -3.8 0M251.1 137a1.9 1.9 0 1 0 3.8 0a1.9 1.9 0 1 0 -3.8 0M289.8 188a1.9 1.9 0 1 0 3.8 0a1.9 1.9 0 1 0 -3.8 0M292.1 185.5a1.9 1.9 0 1 0 3.8 0a1.9 1.9 0 1 0 -3.8 0M293 184.8a1.9 1.9 0 1 0 3.8 0a1.9 1.9 0 1 0 -3.8 0M294.7 182a1.9 1.9 0 1 0 3.8 0a1.9 1.9 0 1 0 -3.8 0M298.9 175.8a1.9 1.9 0 1 0 3.8 0a1.9 1.9 0 1 0 -3.8 0M300.5 173.2a1.9 1.9 0 1 0 3.8 0a1.9 1.9 0 1 0 -3.8 0M301.7 171a1.9 1.9 0 1 0 3.8 0a1.9 1.9 0 1 0 -3.8 0M303.1 169a1.9 1.9 0 1 0 3.8 0a1.9 1.9 0 1 0 -3.8 0M305 166.6a1.9 1.9 0 1 0 3.8 0a1.9 1.9 0 1 0 -3.8 0M307.8 161a1.9 1.9 0 1 0 3.8 0a1.9 1.9 0 1 0 -3.8 0M308.7 158.5a1.9 1.9 0 1 0 3.8 0a1.9 1.9 0 1 0 -3.8 0M311 154.2a1.9 1.9 0 1 0 3.8 0a1.9 1.9 0 1 0 -3.8 0M314.6 149.3a1.9 1.9 0 1 0 3.8 0a1.9 1.9 0 1 0 -3.8 0M315.8 146.3a1.9 1.9 0 1 0 3.8 0a1.9 1.9 0 1 0 -3.8 0M316.5 143.5a1.9 1.9 0 1 0 3.8 0a1.9 1.9 0 1 0 -3.8 0M321.6 139.7a1.9 1.9 0 1 0 3.8 0a1.9 1.9 0 1 0 -3.8 0M322.9 138.5a1.9 1.9 0 1 0 3.8 0a1.9 1.9 0 1 0 -3.8 0M324.6 135.8a1.9 1.9 0 1 0 3.8 0a1.9 1.9 0 1 0 -3.8 0M323.4 135.3a1.9 1.9 0 1 0 3.8 0a1.9 1.9 0 1 0 -3.8 0M317.7 138.2a1.9 1.9 0 1 0 3.8 0a1.9 1.9 0 1 0 -3.8 0M315.9 139.2a1.9 1.9 0 1 0 3.8 0a1.9 1.9 0 1 0 -3.8 0M313.1 142.3a1.9 1.9 0 1 0 3.8 0a1.9 1.9 0 1 0 -3.8 0M311 144.5a1.9 1.9 0 1 0 3.8 0a1.9 1.9 0 1 0 -3.8 0M306.2 147.4a1.9 1.9 0 1 0 3.8 0a1.9 1.9 0 1 0 -3.8 0M303.2 149.9a1.9 1.9 0 1 0 3.8 0a1.9 1.9 0 1 0 -3.8 0M300.9 152.5a1.9 1.9 0 1 0 3.8 0a1.9 1.9 0 1 0 -3.8 0M299.8 153.9a1.9 1.9 0 1 0 3.8 0a1.9 1.9 0 1 0 -3.8 0M297.5 157.1a1.9 1.9 0 1 0 3.8 0a1.9 1.9 0 1 0 -3.8 0M296.5 159.7a1.9 1.9 0 1 0 3.8 0a1.9 1.9 0 1 0 -3.8 0M295.2 161.9a1.9 1.9 0 1 0 3.8 0a1.9 1.9 0 1 0 -3.8 0M293.7 165.8a1.9 1.9 0 1 0 3.8 0a1.9 1.9 0 1 0 -3.8 0M292.4 170.8a1.9 1.9 0 1 0 3.8 0a1.9 1.9 0 1 0 -3.8 0M291.3 173.6a1.9 1.9 0 1 0 3.8 0a1.9 1.9 0 1 0 -3.8 0M290.3 176.8a1.9 1.9 0 1 0 3.8 0a1.9 1.9 0 1 0 -3.8 0M290.1 180.4a1.9 1.9 0 1 0 3.8 0a1.9 1.9 0 1 0 -3.8 0M290.1 182.6a1.9 1.9 0 1 0 3.8 0a1.9 1.9 0 1 0 -3.8 0M289 185.8a1.9 1.9 0 1 0 3.8 0a1.9 1.9 0 1 0 -3.8 0M294.1 182.2a1.9 1.9 0 1 0 3.8 0a1.9 1.9 0 1 0 -3.8 0M305 151.5a1.9 1.9 0 1 0 3.8 0a1.9 1.9 0 1 0 -3.8 0M305.6 161.4a1.9 1.9 0 1 0 3.8 0a1.9 1.9 0 1 0 -3.8 0M303.8 155.2a1.9 1.9 0 1 0 3.8 0a1.9 1.9 0 1 0 -3.8 0M312.6 150.3a1.9 1.9 0 1 0 3.8 0a1.9 1.9 0 1 0 -3.8 0M313.4 149.3a1.9 1.9 0 1 0 3.8 0a1.9 1.9 0 1 0 -3.8 0M295.9 164a1.9 1.9 0 1 0 3.8 0a1.9 1.9 0 1 0 -3.8 0M308.1 159.7a1.9 1.9 0 1 0 3.8 0a1.9 1.9 0 1 0 -3.8 0M292.3 170.3a1.9 1.9 0 1 0 3.8 0a1.9 1.9 0 1 0 -3.8 0M314.2 150.3a1.9 1.9 0 1 0 3.8 0a1.9 1.9 0 1 0 -3.8 0M290.7 185.3a1.9 1.9 0 1 0 3.8 0a1.9 1.9 0 1 0 -3.8 0M298.3 158.7a1.9 1.9 0 1 0 3.8 0a1.9 1.9 0 1 0 -3.8 0M309.1 157.5a1.9 1.9 0 1 0 3.8 0a1.9 1.9 0 1 0 -3.8 0M307.2 149.5a1.9 1.9 0 1 0 3.8 0a1.9 1.9 0 1 0 -3.8 0M318.7 141.3a1.9 1.9 0 1 0 3.8 0a1.9 1.9 0 1 0 -3.8 0M303.2 163.4a1.9 1.9 0 1 0 3.8 0a1.9 1.9 0 1 0 -3.8 0M294.3 171.2a1.9 1.9 0 1 0 3.8 0a1.9 1.9 0 1 0 -3.8 0M298 168.4a1.9 1.9 0 1 0 3.8 0a1.9 1.9 0 1 0 -3.8 0M293.2 174.9a1.9 1.9 0 1 0 3.8 0a1.9 1.9 0 1 0 -3.8 0M290.9 184.8a1.9 1.9 0 1 0 3.8 0a1.9 1.9 0 1 0 -3.8 0M295.8 173.4a1.9 1.9 0 1 0 3.8 0a1.9 1.9 0 1 0 -3.8 0M296.9 168.5a1.9 1.9 0 1 0 3.8 0a1.9 1.9 0 1 0 -3.8 0M296.5 172a1.9 1.9 0 1 0 3.8 0a1.9 1.9 0 1 0 -3.8 0M304.1 157.1a1.9 1.9 0 1 0 3.8 0a1.9 1.9 0 1 0 -3.8 0M294.1 166.6a1.9 1.9 0 1 0 3.8 0a1.9 1.9 0 1 0 -3.8 0M294.8 171.4a1.9 1.9 0 1 0 3.8 0a1.9 1.9 0 1 0 -3.8 0M308.5 148.4a1.9 1.9 0 1 0 3.8 0a1.9 1.9 0 1 0 -3.8 0M307.3 150.6a1.9 1.9 0 1 0 3.8 0a1.9 1.9 0 1 0 -3.8 0M308.3 156.3a1.9 1.9 0 1 0 3.8 0a1.9 1.9 0 1 0 -3.8 0M299.8 169.1a1.9 1.9 0 1 0 3.8 0a1.9 1.9 0 1 0 -3.8 0M294.6 182.1a1.9 1.9 0 1 0 3.8 0a1.9 1.9 0 1 0 -3.8 0M307.5 160.6a1.9 1.9 0 1 0 3.8 0a1.9 1.9 0 1 0 -3.8 0M296.9 165.1a1.9 1.9 0 1 0 3.8 0a1.9 1.9 0 1 0 -3.8 0M300.6 154.7a1.9 1.9 0 1 0 3.8 0a1.9 1.9 0 1 0 -3.8 0M309.7 151.1a1.9 1.9 0 1 0 3.8 0a1.9 1.9 0 1 0 -3.8 0M299.1 163a1.9 1.9 0 1 0 3.8 0a1.9 1.9 0 1 0 -3.8 0M297 171.9a1.9 1.9 0 1 0 3.8 0a1.9 1.9 0 1 0 -3.8 0M310.5 153.6a1.9 1.9 0 1 0 3.8 0a1.9 1.9 0 1 0 -3.8 0M307.7 155.7a1.9 1.9 0 1 0 3.8 0a1.9 1.9 0 1 0 -3.8 0M292.6 183.2a1.9 1.9 0 1 0 3.8 0a1.9 1.9 0 1 0 -3.8 0M293.5 174.6a1.9 1.9 0 1 0 3.8 0a1.9 1.9 0 1 0 -3.8 0M306.1 148.3a1.9 1.9 0 1 0 3.8 0a1.9 1.9 0 1 0 -3.8 0M301.7 164.7a1.9 1.9 0 1 0 3.8 0a1.9 1.9 0 1 0 -3.8 0M321.1 137.3a1.9 1.9 0 1 0 3.8 0a1.9 1.9 0 1 0 -3.8 0M293 178.8a1.9 1.9 0 1 0 3.8 0a1.9 1.9 0 1 0 -3.8 0M312.2 153a1.9 1.9 0 1 0 3.8 0a1.9 1.9 0 1 0 -3.8 0M300.4 165.4a1.9 1.9 0 1 0 3.8 0a1.9 1.9 0 1 0 -3.8 0M300.1 168.4a1.9 1.9 0 1 0 3.8 0a1.9 1.9 0 1 0 -3.8 0M303.7 165.3a1.9 1.9 0 1 0 3.8 0a1.9 1.9 0 1 0 -3.8 0M296.7 162.3a1.9 1.9 0 1 0 3.8 0a1.9 1.9 0 1 0 -3.8 0M303.1 153a1.9 1.9 0 1 0 3.8 0a1.9 1.9 0 1 0 -3.8 0M293.6 178.1a1.9 1.9 0 1 0 3.8 0a1.9 1.9 0 1 0 -3.8 0M313.8 141.3a1.9 1.9 0 1 0 3.8 0a1.9 1.9 0 1 0 -3.8 0M291.4 177.4a1.9 1.9 0 1 0 3.8 0a1.9 1.9 0 1 0 -3.8 0M303.3 157.9a1.9 1.9 0 1 0 3.8 0a1.9 1.9 0 1 0 -3.8 0M323.3 137.7a1.9 1.9 0 1 0 3.8 0a1.9 1.9 0 1 0 -3.8 0M299.4 162.3a1.9 1.9 0 1 0 3.8 0a1.9 1.9 0 1 0 -3.8 0M310.3 146.9a1.9 1.9 0 1 0 3.8 0a1.9 1.9 0 1 0 -3.8 0M307.5 152.2a1.9 1.9 0 1 0 3.8 0a1.9 1.9 0 1 0 -3.8 0M295.5 174.4a1.9 1.9 0 1 0 3.8 0a1.9 1.9 0 1 0 -3.8 0M294.8 168.1a1.9 1.9 0 1 0 3.8 0a1.9 1.9 0 1 0 -3.8 0M298.6 161.5a1.9 1.9 0 1 0 3.8 0a1.9 1.9 0 1 0 -3.8 0M298.5 175.2a1.9 1.9 0 1 0 3.8 0a1.9 1.9 0 1 0 -3.8 0M298.9 162a1.9 1.9 0 1 0 3.8 0a1.9 1.9 0 1 0 -3.8 0M312 151.8a1.9 1.9 0 1 0 3.8 0a1.9 1.9 0 1 0 -3.8 0M300 160.5a1.9 1.9 0 1 0 3.8 0a1.9 1.9 0 1 0 -3.8 0M301.3 153a1.9 1.9 0 1 0 3.8 0a1.9 1.9 0 1 0 -3.8 0M291.3 181.1a1.9 1.9 0 1 0 3.8 0a1.9 1.9 0 1 0 -3.8 0M360.1 127.7a1.9 1.9 0 1 0 3.8 0a1.9 1.9 0 1 0 -3.8 0M362.6 126.9a1.9 1.9 0 1 0 3.8 0a1.9 1.9 0 1 0 -3.8 0M339.3 129.7a1.9 1.9 0 1 0 3.8 0a1.9 1.9 0 1 0 -3.8 0M336.5 134a1.9 1.9 0 1 0 3.8 0a1.9 1.9 0 1 0 -3.8 0M324.6 136.5a1.9 1.9 0 1 0 3.8 0a1.9 1.9 0 1 0 -3.8 0M322.1 135.3a1.9 1.9 0 1 0 3.8 0a1.9 1.9 0 1 0 -3.8 0M318.3 147.9a1.9 1.9 0 1 0 3.8 0a1.9 1.9 0 1 0 -3.8 0M314 158.5a1.9 1.9 0 1 0 3.8 0a1.9 1.9 0 1 0 -3.8 0M313.2 155.5a1.9 1.9 0 1 0 3.8 0a1.9 1.9 0 1 0 -3.8 0M315.5 145.7a1.9 1.9 0 1 0 3.8 0a1.9 1.9 0 1 0 -3.8 0M309.4 160.9a1.9 1.9 0 1 0 3.8 0a1.9 1.9 0 1 0 -3.8 0M415.9 187.9a1.9 1.9 0 1 0 3.8 0a1.9 1.9 0 1 0 -3.8 0M418.6 186.3a1.9 1.9 0 1 0 3.8 0a1.9 1.9 0 1 0 -3.8 0M422.3 181.5a1.9 1.9 0 1 0 3.8 0a1.9 1.9 0 1 0 -3.8 0M424 179.6a1.9 1.9 0 1 0 3.8 0a1.9 1.9 0 1 0 -3.8 0M424.6 175.8a1.9 1.9 0 1 0 3.8 0a1.9 1.9 0 1 0 -3.8 0M425.6 171.8a1.9 1.9 0 1 0 3.8 0a1.9 1.9 0 1 0 -3.8 0M426.2 170.6a1.9 1.9 0 1 0 3.8 0a1.9 1.9 0 1 0 -3.8 0M427.4 167.7a1.9 1.9 0 1 0 3.8 0a1.9 1.9 0 1 0 -3.8 0M428.1 164.1a1.9 1.9 0 1 0 3.8 0a1.9 1.9 0 1 0 -3.8 0M429.7 160.3a1.9 1.9 0 1 0 3.8 0a1.9 1.9 0 1 0 -3.8 0M430.4 157.5a1.9 1.9 0 1 0 3.8 0a1.9 1.9 0 1 0 -3.8 0M431.1 155.1a1.9 1.9 0 1 0 3.8 0a1.9 1.9 0 1 0 -3.8 0M431.6 152.2a1.9 1.9 0 1 0 3.8 0a1.9 1.9 0 1 0 -3.8 0M432.3 149.4a1.9 1.9 0 1 0 3.8 0a1.9 1.9 0 1 0 -3.8 0M433.8 146.9a1.9 1.9 0 1 0 3.8 0a1.9 1.9 0 1 0 -3.8 0M434.8 143.9a1.9 1.9 0 1 0 3.8 0a1.9 1.9 0 1 0 -3.8 0M436.1 140.8a1.9 1.9 0 1 0 3.8 0a1.9 1.9 0 1 0 -3.8 0M436.7 138.2a1.9 1.9 0 1 0 3.8 0a1.9 1.9 0 1 0 -3.8 0M436.4 136.1a1.9 1.9 0 1 0 3.8 0a1.9 1.9 0 1 0 -3.8 0M433.3 137.6a1.9 1.9 0 1 0 3.8 0a1.9 1.9 0 1 0 -3.8 0M431.7 139.4a1.9 1.9 0 1 0 3.8 0a1.9 1.9 0 1 0 -3.8 0M430.9 141.6a1.9 1.9 0 1 0 3.8 0a1.9 1.9 0 1 0 -3.8 0M429.1 144.8a1.9 1.9 0 1 0 3.8 0a1.9 1.9 0 1 0 -3.8 0M427.6 147a1.9 1.9 0 1 0 3.8 0a1.9 1.9 0 1 0 -3.8 0M425.7 153.9a1.9 1.9 0 1 0 3.8 0a1.9 1.9 0 1 0 -3.8 0M425.1 155a1.9 1.9 0 1 0 3.8 0a1.9 1.9 0 1 0 -3.8 0M423.1 161.3a1.9 1.9 0 1 0 3.8 0a1.9 1.9 0 1 0 -3.8 0M421.6 165.3a1.9 1.9 0 1 0 3.8 0a1.9 1.9 0 1 0 -3.8 0M419.9 168.3a1.9 1.9 0 1 0 3.8 0a1.9 1.9 0 1 0 -3.8 0M419.1 170.5a1.9 1.9 0 1 0 3.8 0a1.9 1.9 0 1 0 -3.8 0M417.8 172.2a1.9 1.9 0 1 0 3.8 0a1.9 1.9 0 1 0 -3.8 0M416.2 174.5a1.9 1.9 0 1 0 3.8 0a1.9 1.9 0 1 0 -3.8 0M413.8 181.1a1.9 1.9 0 1 0 3.8 0a1.9 1.9 0 1 0 -3.8 0M408.6 187.8a1.9 1.9 0 1 0 3.8 0a1.9 1.9 0 1 0 -3.8 0M413.1 188.2a1.9 1.9 0 1 0 3.8 0a1.9 1.9 0 1 0 -3.8 0M420 172.1a1.9 1.9 0 1 0 3.8 0a1.9 1.9 0 1 0 -3.8 0M423.6 165.6a1.9 1.9 0 1 0 3.8 0a1.9 1.9 0 1 0 -3.8 0M427.4 159.6a1.9 1.9 0 1 0 3.8 0a1.9 1.9 0 1 0 -3.8 0M424.4 158.6a1.9 1.9 0 1 0 3.8 0a1.9 1.9 0 1 0 -3.8 0M419 183.2a1.9 1.9 0 1 0 3.8 0a1.9 1.9 0 1 0 -3.8 0M418.6 182.1a1.9 1.9 0 1 0 3.8 0a1.9 1.9 0 1 0 -3.8 0M422.6 169.7a1.9 1.9 0 1 0 3.8 0a1.9 1.9 0 1 0 -3.8 0M416.1 179.8a1.9 1.9 0 1 0 3.8 0a1.9 1.9 0 1 0 -3.8 0M424.1 161.9a1.9 1.9 0 1 0 3.8 0a1.9 1.9 0 1 0 -3.8 0M422.1 166.3a1.9 1.9 0 1 0 3.8 0a1.9 1.9 0 1 0 -3.8 0M419.9 184.6a1.9 1.9 0 1 0 3.8 0a1.9 1.9 0 1 0 -3.8 0M416.4 184a1.9 1.9 0 1 0 3.8 0a1.9 1.9 0 1 0 -3.8 0M419.6 184.1a1.9 1.9 0 1 0 3.8 0a1.9 1.9 0 1 0 -3.8 0M412.1 184.4a1.9 1.9 0 1 0 3.8 0a1.9 1.9 0 1 0 -3.8 0M419.4 172.3a1.9 1.9 0 1 0 3.8 0a1.9 1.9 0 1 0 -3.8 0M429.5 145.9a1.9 1.9 0 1 0 3.8 0a1.9 1.9 0 1 0 -3.8 0M426.9 155.9a1.9 1.9 0 1 0 3.8 0a1.9 1.9 0 1 0 -3.8 0M428 148.1a1.9 1.9 0 1 0 3.8 0a1.9 1.9 0 1 0 -3.8 0M415 185.9a1.9 1.9 0 1 0 3.8 0a1.9 1.9 0 1 0 -3.8 0M422.8 173.6a1.9 1.9 0 1 0 3.8 0a1.9 1.9 0 1 0 -3.8 0M421.8 169.2a1.9 1.9 0 1 0 3.8 0a1.9 1.9 0 1 0 -3.8 0M429.2 156.1a1.9 1.9 0 1 0 3.8 0a1.9 1.9 0 1 0 -3.8 0M417.1 176.6a1.9 1.9 0 1 0 3.8 0a1.9 1.9 0 1 0 -3.8 0M431.2 140.5a1.9 1.9 0 1 0 3.8 0a1.9 1.9 0 1 0 -3.8 0M430.9 155.5a1.9 1.9 0 1 0 3.8 0a1.9 1.9 0 1 0 -3.8 0M415.6 176.5a1.9 1.9 0 1 0 3.8 0a1.9 1.9 0 1 0 -3.8 0M426.6 156.6a1.9 1.9 0 1 0 3.8 0a1.9 1.9 0 1 0 -3.8 0M413.8 182.8a1.9 1.9 0 1 0 3.8 0a1.9 1.9 0 1 0 -3.8 0M433.3 144.2a1.9 1.9 0 1 0 3.8 0a1.9 1.9 0 1 0 -3.8 0M410.6 188.5a1.9 1.9 0 1 0 3.8 0a1.9 1.9 0 1 0 -3.8 0M422.8 177.6a1.9 1.9 0 1 0 3.8 0a1.9 1.9 0 1 0 -3.8 0M422.3 163.4a1.9 1.9 0 1 0 3.8 0a1.9 1.9 0 1 0 -3.8 0M424.1 173.8a1.9 1.9 0 1 0 3.8 0a1.9 1.9 0 1 0 -3.8 0M419.6 175.6a1.9 1.9 0 1 0 3.8 0a1.9 1.9 0 1 0 -3.8 0M420.8 181.5a1.9 1.9 0 1 0 3.8 0a1.9 1.9 0 1 0 -3.8 0M427.7 164.2a1.9 1.9 0 1 0 3.8 0a1.9 1.9 0 1 0 -3.8 0M423.3 175.4a1.9 1.9 0 1 0 3.8 0a1.9 1.9 0 1 0 -3.8 0M431 147.2a1.9 1.9 0 1 0 3.8 0a1.9 1.9 0 1 0 -3.8 0M417.9 177.2a1.9 1.9 0 1 0 3.8 0a1.9 1.9 0 1 0 -3.8 0M416.4 184.8a1.9 1.9 0 1 0 3.8 0a1.9 1.9 0 1 0 -3.8 0M424.7 167.5a1.9 1.9 0 1 0 3.8 0a1.9 1.9 0 1 0 -3.8 0M428 163.2a1.9 1.9 0 1 0 3.8 0a1.9 1.9 0 1 0 -3.8 0M428.5 159.4a1.9 1.9 0 1 0 3.8 0a1.9 1.9 0 1 0 -3.8 0M424.7 168.5a1.9 1.9 0 1 0 3.8 0a1.9 1.9 0 1 0 -3.8 0M424.5 167.7a1.9 1.9 0 1 0 3.8 0a1.9 1.9 0 1 0 -3.8 0M433.4 137.5a1.9 1.9 0 1 0 3.8 0a1.9 1.9 0 1 0 -3.8 0M431.8 148.7a1.9 1.9 0 1 0 3.8 0a1.9 1.9 0 1 0 -3.8 0M432.7 141.3a1.9 1.9 0 1 0 3.8 0a1.9 1.9 0 1 0 -3.8 0M415.3 187.7a1.9 1.9 0 1 0 3.8 0a1.9 1.9 0 1 0 -3.8 0M430.9 154.9a1.9 1.9 0 1 0 3.8 0a1.9 1.9 0 1 0 -3.8 0M412.3 183.7a1.9 1.9 0 1 0 3.8 0a1.9 1.9 0 1 0 -3.8 0M418.9 176.3a1.9 1.9 0 1 0 3.8 0a1.9 1.9 0 1 0 -3.8 0M411.7 184.8a1.9 1.9 0 1 0 3.8 0a1.9 1.9 0 1 0 -3.8 0M421.9 173.1a1.9 1.9 0 1 0 3.8 0a1.9 1.9 0 1 0 -3.8 0M428.4 156.3a1.9 1.9 0 1 0 3.8 0a1.9 1.9 0 1 0 -3.8 0M433.6 137.2a1.9 1.9 0 1 0 3.8 0a1.9 1.9 0 1 0 -3.8 0M425.9 162.9a1.9 1.9 0 1 0 3.8 0a1.9 1.9 0 1 0 -3.8 0M417.5 184a1.9 1.9 0 1 0 3.8 0a1.9 1.9 0 1 0 -3.8 0M415.9 187.1a1.9 1.9 0 1 0 3.8 0a1.9 1.9 0 1 0 -3.8 0M430.5 146.3a1.9 1.9 0 1 0 3.8 0a1.9 1.9 0 1 0 -3.8 0M412 185.4a1.9 1.9 0 1 0 3.8 0a1.9 1.9 0 1 0 -3.8 0M435.3 137.9a1.9 1.9 0 1 0 3.8 0a1.9 1.9 0 1 0 -3.8 0M432 150.5a1.9 1.9 0 1 0 3.8 0a1.9 1.9 0 1 0 -3.8 0M422.8 163.6a1.9 1.9 0 1 0 3.8 0a1.9 1.9 0 1 0 -3.8 0M412.2 186.3a1.9 1.9 0 1 0 3.8 0a1.9 1.9 0 1 0 -3.8 0M436.6 137.5a1.9 1.9 0 1 0 3.8 0a1.9 1.9 0 1 0 -3.8 0M416.2 183.1a1.9 1.9 0 1 0 3.8 0a1.9 1.9 0 1 0 -3.8 0M419 173.3a1.9 1.9 0 1 0 3.8 0a1.9 1.9 0 1 0 -3.8 0M418.2 176a1.9 1.9 0 1 0 3.8 0a1.9 1.9 0 1 0 -3.8 0M417.9 180.5a1.9 1.9 0 1 0 3.8 0a1.9 1.9 0 1 0 -3.8 0M422.6 171.3a1.9 1.9 0 1 0 3.8 0a1.9 1.9 0 1 0 -3.8 0M422 171a1.9 1.9 0 1 0 3.8 0a1.9 1.9 0 1 0 -3.8 0M424.5 173.1a1.9 1.9 0 1 0 3.8 0a1.9 1.9 0 1 0 -3.8 0M431.4 145.2a1.9 1.9 0 1 0 3.8 0a1.9 1.9 0 1 0 -3.8 0M424.7 168.4a1.9 1.9 0 1 0 3.8 0a1.9 1.9 0 1 0 -3.8 0M430.9 152.5a1.9 1.9 0 1 0 3.8 0a1.9 1.9 0 1 0 -3.8 0M412.2 184.4a1.9 1.9 0 1 0 3.8 0a1.9 1.9 0 1 0 -3.8 0M419.3 177.8a1.9 1.9 0 1 0 3.8 0a1.9 1.9 0 1 0 -3.8 0M377.8 191a1.9 1.9 0 1 0 3.8 0a1.9 1.9 0 1 0 -3.8 0M385.2 190.9a1.9 1.9 0 1 0 3.8 0a1.9 1.9 0 1 0 -3.8 0M389.4 191a1.9 1.9 0 1 0 3.8 0a1.9 1.9 0 1 0 -3.8 0M393.5 190.9a1.9 1.9 0 1 0 3.8 0a1.9 1.9 0 1 0 -3.8 0M396.1 190.6a1.9 1.9 0 1 0 3.8 0a1.9 1.9 0 1 0 -3.8 0M399.4 190.2a1.9 1.9 0 1 0 3.8 0a1.9 1.9 0 1 0 -3.8 0M401.6 190a1.9 1.9 0 1 0 3.8 0a1.9 1.9 0 1 0 -3.8 0M404 189.7a1.9 1.9 0 1 0 3.8 0a1.9 1.9 0 1 0 -3.8 0M415.2 181.7a1.9 1.9 0 1 0 3.8 0a1.9 1.9 0 1 0 -3.8 0M416.4 188.6a1.9 1.9 0 1 0 3.8 0a1.9 1.9 0 1 0 -3.8 0M445 126.4a1.9 1.9 0 1 0 3.8 0a1.9 1.9 0 1 0 -3.8 0M443.6 125.6a1.9 1.9 0 1 0 3.8 0a1.9 1.9 0 1 0 -3.8 0M440.3 130.3a1.9 1.9 0 1 0 3.8 0a1.9 1.9 0 1 0 -3.8 0M439.2 134.2a1.9 1.9 0 1 0 3.8 0a1.9 1.9 0 1 0 -3.8 0M467.5 188.2a1.9 1.9 0 1 0 3.8 0a1.9 1.9 0 1 0 -3.8 0M470.5 187.6a1.9 1.9 0 1 0 3.8 0a1.9 1.9 0 1 0 -3.8 0M473.2 184.9a1.9 1.9 0 1 0 3.8 0a1.9 1.9 0 1 0 -3.8 0M478.1 181.1a1.9 1.9 0 1 0 3.8 0a1.9 1.9 0 1 0 -3.8 0M479.2 177.5a1.9 1.9 0 1 0 3.8 0a1.9 1.9 0 1 0 -3.8 0M482.1 175.4a1.9 1.9 0 1 0 3.8 0a1.9 1.9 0 1 0 -3.8 0M483.1 173.6a1.9 1.9 0 1 0 3.8 0a1.9 1.9 0 1 0 -3.8 0M485.3 171.4a1.9 1.9 0 1 0 3.8 0a1.9 1.9 0 1 0 -3.8 0M486.5 169.4a1.9 1.9 0 1 0 3.8 0a1.9 1.9 0 1 0 -3.8 0M488.9 167.2a1.9 1.9 0 1 0 3.8 0a1.9 1.9 0 1 0 -3.8 0M491.1 165.4a1.9 1.9 0 1 0 3.8 0a1.9 1.9 0 1 0 -3.8 0M495.3 160.7a1.9 1.9 0 1 0 3.8 0a1.9 1.9 0 1 0 -3.8 0M499.9 155.8a1.9 1.9 0 1 0 3.8 0a1.9 1.9 0 1 0 -3.8 0M502.3 154.1a1.9 1.9 0 1 0 3.8 0a1.9 1.9 0 1 0 -3.8 0M506.7 149.7a1.9 1.9 0 1 0 3.8 0a1.9 1.9 0 1 0 -3.8 0M509.3 148.5a1.9 1.9 0 1 0 3.8 0a1.9 1.9 0 1 0 -3.8 0M511.8 146.5a1.9 1.9 0 1 0 3.8 0a1.9 1.9 0 1 0 -3.8 0M511.8 144.9a1.9 1.9 0 1 0 3.8 0a1.9 1.9 0 1 0 -3.8 0M510.3 142.5a1.9 1.9 0 1 0 3.8 0a1.9 1.9 0 1 0 -3.8 0M509.7 140.9a1.9 1.9 0 1 0 3.8 0a1.9 1.9 0 1 0 -3.8 0M506.5 143.9a1.9 1.9 0 1 0 3.8 0a1.9 1.9 0 1 0 -3.8 0M503 148.3a1.9 1.9 0 1 0 3.8 0a1.9 1.9 0 1 0 -3.8 0M499.4 150a1.9 1.9 0 1 0 3.8 0a1.9 1.9 0 1 0 -3.8 0M497.5 152.1a1.9 1.9 0 1 0 3.8 0a1.9 1.9 0 1 0 -3.8 0M494.2 155.6a1.9 1.9 0 1 0 3.8 0a1.9 1.9 0 1 0 -3.8 0M492.2 157.6a1.9 1.9 0 1 0 3.8 0a1.9 1.9 0 1 0 -3.8 0M489.8 160.4a1.9 1.9 0 1 0 3.8 0a1.9 1.9 0 1 0 -3.8 0M487.7 161.7a1.9 1.9 0 1 0 3.8 0a1.9 1.9 0 1 0 -3.8 0M485 163.3a1.9 1.9 0 1 0 3.8 0a1.9 1.9 0 1 0 -3.8 0M482.5 165.5a1.9 1.9 0 1 0 3.8 0a1.9 1.9 0 1 0 -3.8 0M478.5 170.1a1.9 1.9 0 1 0 3.8 0a1.9 1.9 0 1 0 -3.8 0M476.7 172.5a1.9 1.9 0 1 0 3.8 0a1.9 1.9 0 1 0 -3.8 0M474.8 175.7a1.9 1.9 0 1 0 3.8 0a1.9 1.9 0 1 0 -3.8 0M472.6 178.5a1.9 1.9 0 1 0 3.8 0a1.9 1.9 0 1 0 -3.8 0M471.2 179.7a1.9 1.9 0 1 0 3.8 0a1.9 1.9 0 1 0 -3.8 0M469.5 182.2a1.9 1.9 0 1 0 3.8 0a1.9 1.9 0 1 0 -3.8 0M468.1 184.9a1.9 1.9 0 1 0 3.8 0a1.9 1.9 0 1 0 -3.8 0M470.9 180.1a1.9 1.9 0 1 0 3.8 0a1.9 1.9 0 1 0 -3.8 0M511 146.6a1.9 1.9 0 1 0 3.8 0a1.9 1.9 0 1 0 -3.8 0M484.8 166.5a1.9 1.9 0 1 0 3.8 0a1.9 1.9 0 1 0 -3.8 0M509.4 141.2a1.9 1.9 0 1 0 3.8 0a1.9 1.9 0 1 0 -3.8 0M478.8 171.2a1.9 1.9 0 1 0 3.8 0a1.9 1.9 0 1 0 -3.8 0M483.6 171.4a1.9 1.9 0 1 0 3.8 0a1.9 1.9 0 1 0 -3.8 0M501.4 148.9a1.9 1.9 0 1 0 3.8 0a1.9 1.9 0 1 0 -3.8 0M499.5 154.7a1.9 1.9 0 1 0 3.8 0a1.9 1.9 0 1 0 -3.8 0M508.4 143.3a1.9 1.9 0 1 0 3.8 0a1.9 1.9 0 1 0 -3.8 0M490.3 162.6a1.9 1.9 0 1 0 3.8 0a1.9 1.9 0 1 0 -3.8 0M486.9 165.3a1.9 1.9 0 1 0 3.8 0a1.9 1.9 0 1 0 -3.8 0M480.2 168.4a1.9 1.9 0 1 0 3.8 0a1.9 1.9 0 1 0 -3.8 0M484.7 167.5a1.9 1.9 0 1 0 3.8 0a1.9 1.9 0 1 0 -3.8 0M476.1 179.4a1.9 1.9 0 1 0 3.8 0a1.9 1.9 0 1 0 -3.8 0M507.8 144.4a1.9 1.9 0 1 0 3.8 0a1.9 1.9 0 1 0 -3.8 0M496 154.7a1.9 1.9 0 1 0 3.8 0a1.9 1.9 0 1 0 -3.8 0M491.7 162a1.9 1.9 0 1 0 3.8 0a1.9 1.9 0 1 0 -3.8 0M500.2 150.6a1.9 1.9 0 1 0 3.8 0a1.9 1.9 0 1 0 -3.8 0M498.9 153.4a1.9 1.9 0 1 0 3.8 0a1.9 1.9 0 1 0 -3.8 0M471.1 185.7a1.9 1.9 0 1 0 3.8 0a1.9 1.9 0 1 0 -3.8 0M511.8 144.7a1.9 1.9 0 1 0 3.8 0a1.9 1.9 0 1 0 -3.8 0M485.8 168.3a1.9 1.9 0 1 0 3.8 0a1.9 1.9 0 1 0 -3.8 0M487.1 162.2a1.9 1.9 0 1 0 3.8 0a1.9 1.9 0 1 0 -3.8 0M511.2 144.8a1.9 1.9 0 1 0 3.8 0a1.9 1.9 0 1 0 -3.8 0M494.6 156.1a1.9 1.9 0 1 0 3.8 0a1.9 1.9 0 1 0 -3.8 0M481.3 173.7a1.9 1.9 0 1 0 3.8 0a1.9 1.9 0 1 0 -3.8 0M484.2 165.6a1.9 1.9 0 1 0 3.8 0a1.9 1.9 0 1 0 -3.8 0M469.5 184.6a1.9 1.9 0 1 0 3.8 0a1.9 1.9 0 1 0 -3.8 0M470.5 182.5a1.9 1.9 0 1 0 3.8 0a1.9 1.9 0 1 0 -3.8 0M504 151a1.9 1.9 0 1 0 3.8 0a1.9 1.9 0 1 0 -3.8 0M511.9 145a1.9 1.9 0 1 0 3.8 0a1.9 1.9 0 1 0 -3.8 0M494.2 160.5a1.9 1.9 0 1 0 3.8 0a1.9 1.9 0 1 0 -3.8 0M507.7 145.3a1.9 1.9 0 1 0 3.8 0a1.9 1.9 0 1 0 -3.8 0M474.1 178.7a1.9 1.9 0 1 0 3.8 0a1.9 1.9 0 1 0 -3.8 0M472.6 182.6a1.9 1.9 0 1 0 3.8 0a1.9 1.9 0 1 0 -3.8 0M481.9 174.5a1.9 1.9 0 1 0 3.8 0a1.9 1.9 0 1 0 -3.8 0M493.1 159.4a1.9 1.9 0 1 0 3.8 0a1.9 1.9 0 1 0 -3.8 0M487.9 164a1.9 1.9 0 1 0 3.8 0a1.9 1.9 0 1 0 -3.8 0M482.2 168.7a1.9 1.9 0 1 0 3.8 0a1.9 1.9 0 1 0 -3.8 0M508.8 144.3a1.9 1.9 0 1 0 3.8 0a1.9 1.9 0 1 0 -3.8 0M480.3 168.3a1.9 1.9 0 1 0 3.8 0a1.9 1.9 0 1 0 -3.8 0M491.6 162.5a1.9 1.9 0 1 0 3.8 0a1.9 1.9 0 1 0 -3.8 0M500.6 149.5a1.9 1.9 0 1 0 3.8 0a1.9 1.9 0 1 0 -3.8 0M497.4 152a1.9 1.9 0 1 0 3.8 0a1.9 1.9 0 1 0 -3.8 0M483.6 166.7a1.9 1.9 0 1 0 3.8 0a1.9 1.9 0 1 0 -3.8 0M474.1 178.7a1.9 1.9 0 1 0 3.8 0a1.9 1.9 0 1 0 -3.8 0M489.4 163.3a1.9 1.9 0 1 0 3.8 0a1.9 1.9 0 1 0 -3.8 0M482.6 166.4a1.9 1.9 0 1 0 3.8 0a1.9 1.9 0 1 0 -3.8 0M510.5 145.4a1.9 1.9 0 1 0 3.8 0a1.9 1.9 0 1 0 -3.8 0M506.9 146.7a1.9 1.9 0 1 0 3.8 0a1.9 1.9 0 1 0 -3.8 0M474.1 178.4a1.9 1.9 0 1 0 3.8 0a1.9 1.9 0 1 0 -3.8 0M496.4 156.4a1.9 1.9 0 1 0 3.8 0a1.9 1.9 0 1 0 -3.8 0M495.1 155.1a1.9 1.9 0 1 0 3.8 0a1.9 1.9 0 1 0 -3.8 0M481.5 172.7a1.9 1.9 0 1 0 3.8 0a1.9 1.9 0 1 0 -3.8 0M473.4 182.9a1.9 1.9 0 1 0 3.8 0a1.9 1.9 0 1 0 -3.8 0M491.6 163.3a1.9 1.9 0 1 0 3.8 0a1.9 1.9 0 1 0 -3.8 0M509.1 145.2a1.9 1.9 0 1 0 3.8 0a1.9 1.9 0 1 0 -3.8 0M491.6 159.7a1.9 1.9 0 1 0 3.8 0a1.9 1.9 0 1 0 -3.8 0M505 150.2a1.9 1.9 0 1 0 3.8 0a1.9 1.9 0 1 0 -3.8 0M482 168.5a1.9 1.9 0 1 0 3.8 0a1.9 1.9 0 1 0 -3.8 0M508.4 147.3a1.9 1.9 0 1 0 3.8 0a1.9 1.9 0 1 0 -3.8 0M485 166.5a1.9 1.9 0 1 0 3.8 0a1.9 1.9 0 1 0 -3.8 0M495.6 160.3a1.9 1.9 0 1 0 3.8 0a1.9 1.9 0 1 0 -3.8 0M483.1 173a1.9 1.9 0 1 0 3.8 0a1.9 1.9 0 1 0 -3.8 0M507.9 149a1.9 1.9 0 1 0 3.8 0a1.9 1.9 0 1 0 -3.8 0M472.8 181.9a1.9 1.9 0 1 0 3.8 0a1.9 1.9 0 1 0 -3.8 0M474.2 178.5a1.9 1.9 0 1 0 3.8 0a1.9 1.9 0 1 0 -3.8 0M497 157.5a1.9 1.9 0 1 0 3.8 0a1.9 1.9 0 1 0 -3.8 0M496.2 159a1.9 1.9 0 1 0 3.8 0a1.9 1.9 0 1 0 -3.8 0M499.6 155.2a1.9 1.9 0 1 0 3.8 0a1.9 1.9 0 1 0 -3.8 0M497.8 152.2a1.9 1.9 0 1 0 3.8 0a1.9 1.9 0 1 0 -3.8 0M503.5 152.1a1.9 1.9 0 1 0 3.8 0a1.9 1.9 0 1 0 -3.8 0M494.5 156.6a1.9 1.9 0 1 0 3.8 0a1.9 1.9 0 1 0 -3.8 0M493.4 155.9a1.9 1.9 0 1 0 3.8 0a1.9 1.9 0 1 0 -3.8 0M509.7 142.9a1.9 1.9 0 1 0 3.8 0a1.9 1.9 0 1 0 -3.8 0M469.6 184.8a1.9 1.9 0 1 0 3.8 0a1.9 1.9 0 1 0 -3.8 0M484 172.1a1.9 1.9 0 1 0 3.8 0a1.9 1.9 0 1 0 -3.8 0M509.2 146.5a1.9 1.9 0 1 0 3.8 0a1.9 1.9 0 1 0 -3.8 0M502.7 151a1.9 1.9 0 1 0 3.8 0a1.9 1.9 0 1 0 -3.8 0M492.9 160.5a1.9 1.9 0 1 0 3.8 0a1.9 1.9 0 1 0 -3.8 0M477.6 178.2a1.9 1.9 0 1 0 3.8 0a1.9 1.9 0 1 0 -3.8 0M503.1 150.2a1.9 1.9 0 1 0 3.8 0a1.9 1.9 0 1 0 -3.8 0M472.3 178.8a1.9 1.9 0 1 0 3.8 0a1.9 1.9 0 1 0 -3.8 0M486.4 167.2a1.9 1.9 0 1 0 3.8 0a1.9 1.9 0 1 0 -3.8 0M510.4 147.4a1.9 1.9 0 1 0 3.8 0a1.9 1.9 0 1 0 -3.8 0M484.8 165a1.9 1.9 0 1 0 3.8 0a1.9 1.9 0 1 0 -3.8 0M490.8 162.9a1.9 1.9 0 1 0 3.8 0a1.9 1.9 0 1 0 -3.8 0M501.5 150a1.9 1.9 0 1 0 3.8 0a1.9 1.9 0 1 0 -3.8 0M471.4 181.8a1.9 1.9 0 1 0 3.8 0a1.9 1.9 0 1 0 -3.8 0M474.7 179.4a1.9 1.9 0 1 0 3.8 0a1.9 1.9 0 1 0 -3.8 0M480.2 170.3a1.9 1.9 0 1 0 3.8 0a1.9 1.9 0 1 0 -3.8 0M500.9 152.5a1.9 1.9 0 1 0 3.8 0a1.9 1.9 0 1 0 -3.8 0M509.4 146.3a1.9 1.9 0 1 0 3.8 0a1.9 1.9 0 1 0 -3.8 0M511.9 140.1a1.9 1.9 0 1 0 3.8 0a1.9 1.9 0 1 0 -3.8 0M510.3 142.3a1.9 1.9 0 1 0 3.8 0a1.9 1.9 0 1 0 -3.8 0M513.4 146a1.9 1.9 0 1 0 3.8 0a1.9 1.9 0 1 0 -3.8 0M516.2 137.4a1.9 1.9 0 1 0 3.8 0a1.9 1.9 0 1 0 -3.8 0M511.5 136.8a1.9 1.9 0 1 0 3.8 0a1.9 1.9 0 1 0 -3.8 0M510.9 138.2a1.9 1.9 0 1 0 3.8 0a1.9 1.9 0 1 0 -3.8 0M511.8 137.1a1.9 1.9 0 1 0 3.8 0a1.9 1.9 0 1 0 -3.8 0M509.7 148.1a1.9 1.9 0 1 0 3.8 0a1.9 1.9 0 1 0 -3.8 0M517.8 140.4a1.9 1.9 0 1 0 3.8 0a1.9 1.9 0 1 0 -3.8 0M510.2 146a1.9 1.9 0 1 0 3.8 0a1.9 1.9 0 1 0 -3.8 0M512.7 137a1.9 1.9 0 1 0 3.8 0a1.9 1.9 0 1 0 -3.8 0M517.2 136.3a1.9 1.9 0 1 0 3.8 0a1.9 1.9 0 1 0 -3.8 0M518.3 141.5a1.9 1.9 0 1 0 3.8 0a1.9 1.9 0 1 0 -3.8 0M512.7 148.2a1.9 1.9 0 1 0 3.8 0a1.9 1.9 0 1 0 -3.8 0M510.4 142.6a1.9 1.9 0 1 0 3.8 0a1.9 1.9 0 1 0 -3.8 0M525.1 134.7a1.9 1.9 0 1 0 3.8 0a1.9 1.9 0 1 0 -3.8 0M531.9 130.2a1.9 1.9 0 1 0 3.8 0a1.9 1.9 0 1 0 -3.8 0M536.4 127.2a1.9 1.9 0 1 0 3.8 0a1.9 1.9 0 1 0 -3.8 0M540.9 127.9a1.9 1.9 0 1 0 3.8 0a1.9 1.9 0 1 0 -3.8 0M484.4 173.1a1.9 1.9 0 1 0 3.8 0a1.9 1.9 0 1 0 -3.8 0M27.1 298.1a1.9 1.9 0 1 0 3.8 0a1.9 1.9 0 1 0 -3.8 0M27.5 296.7a1.9 1.9 0 1 0 3.8 0a1.9 1.9 0 1 0 -3.8 0M30.4 292.1a1.9 1.9 0 1 0 3.8 0a1.9 1.9 0 1 0 -3.8 0M30.6 289.3a1.9 1.9 0 1 0 3.8 0a1.9 1.9 0 1 0 -3.8 0M32.8 287a1.9 1.9 0 1 0 3.8 0a1.9 1.9 0 1 0 -3.8 0M33.8 283.5a1.9 1.9 0 1 0 3.8 0a1.9 1.9 0 1 0 -3.8 0M35.4 279.7a1.9 1.9 0 1 0 3.8 0a1.9 1.9 0 1 0 -3.8 0M36.4 277.5a1.9 1.9 0 1 0 3.8 0a1.9 1.9 0 1 0 -3.8 0M38.1 273.7a1.9 1.9 0 1 0 3.8 0a1.9 1.9 0 1 0 -3.8 0M40.7 269.1a1.9 1.9 0 1 0 3.8 0a1.9 1.9 0 1 0 -3.8 0M43.4 266.9a1.9 1.9 0 1 0 3.8 0a1.9 1.9 0 1 0 -3.8 0M48.2 264.4a1.9 1.9 0 1 0 3.8 0a1.9 1.9 0 1 0 -3.8 0M50.5 262.7a1.9 1.9 0 1 0 3.8 0a1.9 1.9 0 1 0 -3.8 0M55.2 259.2a1.9 1.9 0 1 0 3.8 0a1.9 1.9 0 1 0 -3.8 0M57.8 257.2a1.9 1.9 0 1 0 3.8 0a1.9 1.9 0 1 0 -3.8 0M55.8 253a1.9 1.9 0 1 0 3.8 0a1.9 1.9 0 1 0 -3.8 0M51.1 257.5a1.9 1.9 0 1 0 3.8 0a1.9 1.9 0 1 0 -3.8 0M46.1 261.3a1.9 1.9 0 1 0 3.8 0a1.9 1.9 0 1 0 -3.8 0M43.5 263.1a1.9 1.9 0 1 0 3.8 0a1.9 1.9 0 1 0 -3.8 0M39.2 266.8a1.9 1.9 0 1 0 3.8 0a1.9 1.9 0 1 0 -3.8 0M34.7 272.6a1.9 1.9 0 1 0 3.8 0a1.9 1.9 0 1 0 -3.8 0M31.8 276.5a1.9 1.9 0 1 0 3.8 0a1.9 1.9 0 1 0 -3.8 0M30.2 277.8a1.9 1.9 0 1 0 3.8 0a1.9 1.9 0 1 0 -3.8 0M28.1 282.2a1.9 1.9 0 1 0 3.8 0a1.9 1.9 0 1 0 -3.8 0M26.3 286.7a1.9 1.9 0 1 0 3.8 0a1.9 1.9 0 1 0 -3.8 0M25.5 290.5a1.9 1.9 0 1 0 3.8 0a1.9 1.9 0 1 0 -3.8 0M24 294.4a1.9 1.9 0 1 0 3.8 0a1.9 1.9 0 1 0 -3.8 0M22.9 297a1.9 1.9 0 1 0 3.8 0a1.9 1.9 0 1 0 -3.8 0M49.9 263a1.9 1.9 0 1 0 3.8 0a1.9 1.9 0 1 0 -3.8 0M43.2 265.3a1.9 1.9 0 1 0 3.8 0a1.9 1.9 0 1 0 -3.8 0M30.5 282a1.9 1.9 0 1 0 3.8 0a1.9 1.9 0 1 0 -3.8 0M48.4 264.1a1.9 1.9 0 1 0 3.8 0a1.9 1.9 0 1 0 -3.8 0M34.1 275.5a1.9 1.9 0 1 0 3.8 0a1.9 1.9 0 1 0 -3.8 0M54 255.3a1.9 1.9 0 1 0 3.8 0a1.9 1.9 0 1 0 -3.8 0M42.3 266.2a1.9 1.9 0 1 0 3.8 0a1.9 1.9 0 1 0 -3.8 0M44.7 266.1a1.9 1.9 0 1 0 3.8 0a1.9 1.9 0 1 0 -3.8 0M26.6 297.6a1.9 1.9 0 1 0 3.8 0a1.9 1.9 0 1 0 -3.8 0M24.1 295.3a1.9 1.9 0 1 0 3.8 0a1.9 1.9 0 1 0 -3.8 0M26.5 289.3a1.9 1.9 0 1 0 3.8 0a1.9 1.9 0 1 0 -3.8 0M36.1 274.6a1.9 1.9 0 1 0 3.8 0a1.9 1.9 0 1 0 -3.8 0M42.7 266.9a1.9 1.9 0 1 0 3.8 0a1.9 1.9 0 1 0 -3.8 0M24.9 296.8a1.9 1.9 0 1 0 3.8 0a1.9 1.9 0 1 0 -3.8 0M33.3 275.5a1.9 1.9 0 1 0 3.8 0a1.9 1.9 0 1 0 -3.8 0M23.7 300.1a1.9 1.9 0 1 0 3.8 0a1.9 1.9 0 1 0 -3.8 0M55.3 257.9a1.9 1.9 0 1 0 3.8 0a1.9 1.9 0 1 0 -3.8 0M30.5 279.5a1.9 1.9 0 1 0 3.8 0a1.9 1.9 0 1 0 -3.8 0M34.2 282.9a1.9 1.9 0 1 0 3.8 0a1.9 1.9 0 1 0 -3.8 0M28 290a1.9 1.9 0 1 0 3.8 0a1.9 1.9 0 1 0 -3.8 0M41 268.7a1.9 1.9 0 1 0 3.8 0a1.9 1.9 0 1 0 -3.8 0M30.4 287.5a1.9 1.9 0 1 0 3.8 0a1.9 1.9 0 1 0 -3.8 0M54.2 256.4a1.9 1.9 0 1 0 3.8 0a1.9 1.9 0 1 0 -3.8 0M50.7 258.9a1.9 1.9 0 1 0 3.8 0a1.9 1.9 0 1 0 -3.8 0M36.2 271.2a1.9 1.9 0 1 0 3.8 0a1.9 1.9 0 1 0 -3.8 0M47 262.1a1.9 1.9 0 1 0 3.8 0a1.9 1.9 0 1 0 -3.8 0M50.8 259.8a1.9 1.9 0 1 0 3.8 0a1.9 1.9 0 1 0 -3.8 0M23.3 299.4a1.9 1.9 0 1 0 3.8 0a1.9 1.9 0 1 0 -3.8 0M95.2 243.8a1.9 1.9 0 1 0 3.8 0a1.9 1.9 0 1 0 -3.8 0M84.5 243.3a1.9 1.9 0 1 0 3.8 0a1.9 1.9 0 1 0 -3.8 0M75.8 246a1.9 1.9 0 1 0 3.8 0a1.9 1.9 0 1 0 -3.8 0M72.2 248.8a1.9 1.9 0 1 0 3.8 0a1.9 1.9 0 1 0 -3.8 0M68.6 250.3a1.9 1.9 0 1 0 3.8 0a1.9 1.9 0 1 0 -3.8 0M72.2 253.6a1.9 1.9 0 1 0 3.8 0a1.9 1.9 0 1 0 -3.8 0M67.6 254.4a1.9 1.9 0 1 0 3.8 0a1.9 1.9 0 1 0 -3.8 0M63.7 254.4a1.9 1.9 0 1 0 3.8 0a1.9 1.9 0 1 0 -3.8 0M59.4 254.9a1.9 1.9 0 1 0 3.8 0a1.9 1.9 0 1 0 -3.8 0M55.3 251.3a1.9 1.9 0 1 0 3.8 0a1.9 1.9 0 1 0 -3.8 0M52.2 254.4a1.9 1.9 0 1 0 3.8 0a1.9 1.9 0 1 0 -3.8 0M58.3 258.5a1.9 1.9 0 1 0 3.8 0a1.9 1.9 0 1 0 -3.8 0M53.2 262.6a1.9 1.9 0 1 0 3.8 0a1.9 1.9 0 1 0 -3.8 0M53.3 268.1a1.9 1.9 0 1 0 3.8 0a1.9 1.9 0 1 0 -3.8 0M44.6 276.8a1.9 1.9 0 1 0 3.8 0a1.9 1.9 0 1 0 -3.8 0M38.4 289.6a1.9 1.9 0 1 0 3.8 0a1.9 1.9 0 1 0 -3.8 0M30.9 300.1a1.9 1.9 0 1 0 3.8 0a1.9 1.9 0 1 0 -3.8 0M111.7 301.4a1.9 1.9 0 1 0 3.8 0a1.9 1.9 0 1 0 -3.8 0M113.6 296.6a1.9 1.9 0 1 0 3.8 0a1.9 1.9 0 1 0 -3.8 0M113.7 290.4a1.9 1.9 0 1 0 3.8 0a1.9 1.9 0 1 0 -3.8 0M114.4 288a1.9 1.9 0 1 0 3.8 0a1.9 1.9 0 1 0 -3.8 0M114.8 284.6a1.9 1.9 0 1 0 3.8 0a1.9 1.9 0 1 0 -3.8 0M115.3 281.6a1.9 1.9 0 1 0 3.8 0a1.9 1.9 0 1 0 -3.8 0M115.8 279.8a1.9 1.9 0 1 0 3.8 0a1.9 1.9 0 1 0 -3.8 0M116.4 278a1.9 1.9 0 1 0 3.8 0a1.9 1.9 0 1 0 -3.8 0M120.3 271.7a1.9 1.9 0 1 0 3.8 0a1.9 1.9 0 1 0 -3.8 0M122.1 269.7a1.9 1.9 0 1 0 3.8 0a1.9 1.9 0 1 0 -3.8 0M126.1 265.8a1.9 1.9 0 1 0 3.8 0a1.9 1.9 0 1 0 -3.8 0M127.6 263.5a1.9 1.9 0 1 0 3.8 0a1.9 1.9 0 1 0 -3.8 0M128.5 261.5a1.9 1.9 0 1 0 3.8 0a1.9 1.9 0 1 0 -3.8 0M129.9 259.5a1.9 1.9 0 1 0 3.8 0a1.9 1.9 0 1 0 -3.8 0M132.9 255.3a1.9 1.9 0 1 0 3.8 0a1.9 1.9 0 1 0 -3.8 0M131.1 253a1.9 1.9 0 1 0 3.8 0a1.9 1.9 0 1 0 -3.8 0M127.4 253.7a1.9 1.9 0 1 0 3.8 0a1.9 1.9 0 1 0 -3.8 0M125.4 254.5a1.9 1.9 0 1 0 3.8 0a1.9 1.9 0 1 0 -3.8 0M123.2 256.8a1.9 1.9 0 1 0 3.8 0a1.9 1.9 0 1 0 -3.8 0M121.5 259.5a1.9 1.9 0 1 0 3.8 0a1.9 1.9 0 1 0 -3.8 0M120 260.7a1.9 1.9 0 1 0 3.8 0a1.9 1.9 0 1 0 -3.8 0M118.7 264.4a1.9 1.9 0 1 0 3.8 0a1.9 1.9 0 1 0 -3.8 0M117.3 266a1.9 1.9 0 1 0 3.8 0a1.9 1.9 0 1 0 -3.8 0M114.4 270.7a1.9 1.9 0 1 0 3.8 0a1.9 1.9 0 1 0 -3.8 0M114.2 274a1.9 1.9 0 1 0 3.8 0a1.9 1.9 0 1 0 -3.8 0M113.7 277.2a1.9 1.9 0 1 0 3.8 0a1.9 1.9 0 1 0 -3.8 0M112.4 280.3a1.9 1.9 0 1 0 3.8 0a1.9 1.9 0 1 0 -3.8 0M112.6 281.4a1.9 1.9 0 1 0 3.8 0a1.9 1.9 0 1 0 -3.8 0M112.5 285.7a1.9 1.9 0 1 0 3.8 0a1.9 1.9 0 1 0 -3.8 0M111.6 286.7a1.9 1.9 0 1 0 3.8 0a1.9 1.9 0 1 0 -3.8 0M111.8 290.8a1.9 1.9 0 1 0 3.8 0a1.9 1.9 0 1 0 -3.8 0M111.3 293.5a1.9 1.9 0 1 0 3.8 0a1.9 1.9 0 1 0 -3.8 0M111 298.6a1.9 1.9 0 1 0 3.8 0a1.9 1.9 0 1 0 -3.8 0M119.2 268.8a1.9 1.9 0 1 0 3.8 0a1.9 1.9 0 1 0 -3.8 0M112.9 293.7a1.9 1.9 0 1 0 3.8 0a1.9 1.9 0 1 0 -3.8 0M115.9 273.9a1.9 1.9 0 1 0 3.8 0a1.9 1.9 0 1 0 -3.8 0M125 256.2a1.9 1.9 0 1 0 3.8 0a1.9 1.9 0 1 0 -3.8 0M122.2 258.6a1.9 1.9 0 1 0 3.8 0a1.9 1.9 0 1 0 -3.8 0M112.9 298.6a1.9 1.9 0 1 0 3.8 0a1.9 1.9 0 1 0 -3.8 0M125.6 256.4a1.9 1.9 0 1 0 3.8 0a1.9 1.9 0 1 0 -3.8 0M124.2 264.4a1.9 1.9 0 1 0 3.8 0a1.9 1.9 0 1 0 -3.8 0M121.4 261a1.9 1.9 0 1 0 3.8 0a1.9 1.9 0 1 0 -3.8 0M118.8 266.2a1.9 1.9 0 1 0 3.8 0a1.9 1.9 0 1 0 -3.8 0M123.7 264.2a1.9 1.9 0 1 0 3.8 0a1.9 1.9 0 1 0 -3.8 0M129 259.1a1.9 1.9 0 1 0 3.8 0a1.9 1.9 0 1 0 -3.8 0M121.6 267a1.9 1.9 0 1 0 3.8 0a1.9 1.9 0 1 0 -3.8 0M131.9 254.4a1.9 1.9 0 1 0 3.8 0a1.9 1.9 0 1 0 -3.8 0M129.4 257.5a1.9 1.9 0 1 0 3.8 0a1.9 1.9 0 1 0 -3.8 0M125.5 256.4a1.9 1.9 0 1 0 3.8 0a1.9 1.9 0 1 0 -3.8 0M118.9 272a1.9 1.9 0 1 0 3.8 0a1.9 1.9 0 1 0 -3.8 0M123.9 258.9a1.9 1.9 0 1 0 3.8 0a1.9 1.9 0 1 0 -3.8 0M118.7 268.4a1.9 1.9 0 1 0 3.8 0a1.9 1.9 0 1 0 -3.8 0M113 281.1a1.9 1.9 0 1 0 3.8 0a1.9 1.9 0 1 0 -3.8 0M125.8 265.5a1.9 1.9 0 1 0 3.8 0a1.9 1.9 0 1 0 -3.8 0M125.3 264.8a1.9 1.9 0 1 0 3.8 0a1.9 1.9 0 1 0 -3.8 0M130.5 255.5a1.9 1.9 0 1 0 3.8 0a1.9 1.9 0 1 0 -3.8 0M124 260.8a1.9 1.9 0 1 0 3.8 0a1.9 1.9 0 1 0 -3.8 0M126.1 259.9a1.9 1.9 0 1 0 3.8 0a1.9 1.9 0 1 0 -3.8 0M125.1 266.8a1.9 1.9 0 1 0 3.8 0a1.9 1.9 0 1 0 -3.8 0M129.4 257.5a1.9 1.9 0 1 0 3.8 0a1.9 1.9 0 1 0 -3.8 0M113.2 295.1a1.9 1.9 0 1 0 3.8 0a1.9 1.9 0 1 0 -3.8 0M127.2 256.2a1.9 1.9 0 1 0 3.8 0a1.9 1.9 0 1 0 -3.8 0M130 257.9a1.9 1.9 0 1 0 3.8 0a1.9 1.9 0 1 0 -3.8 0M113.3 294a1.9 1.9 0 1 0 3.8 0a1.9 1.9 0 1 0 -3.8 0M119 272.2a1.9 1.9 0 1 0 3.8 0a1.9 1.9 0 1 0 -3.8 0M130.4 258.2a1.9 1.9 0 1 0 3.8 0a1.9 1.9 0 1 0 -3.8 0M114.5 285.6a1.9 1.9 0 1 0 3.8 0a1.9 1.9 0 1 0 -3.8 0M127.2 263.3a1.9 1.9 0 1 0 3.8 0a1.9 1.9 0 1 0 -3.8 0M114.9 274.4a1.9 1.9 0 1 0 3.8 0a1.9 1.9 0 1 0 -3.8 0M126.2 256.1a1.9 1.9 0 1 0 3.8 0a1.9 1.9 0 1 0 -3.8 0M114.3 284.5a1.9 1.9 0 1 0 3.8 0a1.9 1.9 0 1 0 -3.8 0M120.9 262.6a1.9 1.9 0 1 0 3.8 0a1.9 1.9 0 1 0 -3.8 0M125.1 262.4a1.9 1.9 0 1 0 3.8 0a1.9 1.9 0 1 0 -3.8 0M117.8 271.3a1.9 1.9 0 1 0 3.8 0a1.9 1.9 0 1 0 -3.8 0M124.6 257.5a1.9 1.9 0 1 0 3.8 0a1.9 1.9 0 1 0 -3.8 0M127.6 255a1.9 1.9 0 1 0 3.8 0a1.9 1.9 0 1 0 -3.8 0M122.9 264.2a1.9 1.9 0 1 0 3.8 0a1.9 1.9 0 1 0 -3.8 0M124.1 259a1.9 1.9 0 1 0 3.8 0a1.9 1.9 0 1 0 -3.8 0M132 254.3a1.9 1.9 0 1 0 3.8 0a1.9 1.9 0 1 0 -3.8 0M123.5 260.4a1.9 1.9 0 1 0 3.8 0a1.9 1.9 0 1 0 -3.8 0M124.2 261.6a1.9 1.9 0 1 0 3.8 0a1.9 1.9 0 1 0 -3.8 0M115 282.7a1.9 1.9 0 1 0 3.8 0a1.9 1.9 0 1 0 -3.8 0M178.5 244.1a1.9 1.9 0 1 0 3.8 0a1.9 1.9 0 1 0 -3.8 0M162.4 243.7a1.9 1.9 0 1 0 3.8 0a1.9 1.9 0 1 0 -3.8 0M151.4 246.7a1.9 1.9 0 1 0 3.8 0a1.9 1.9 0 1 0 -3.8 0M147.6 249.2a1.9 1.9 0 1 0 3.8 0a1.9 1.9 0 1 0 -3.8 0M142.9 250.7a1.9 1.9 0 1 0 3.8 0a1.9 1.9 0 1 0 -3.8 0M146.7 253.5a1.9 1.9 0 1 0 3.8 0a1.9 1.9 0 1 0 -3.8 0M142.3 254.5a1.9 1.9 0 1 0 3.8 0a1.9 1.9 0 1 0 -3.8 0M139.1 254.5a1.9 1.9 0 1 0 3.8 0a1.9 1.9 0 1 0 -3.8 0M135.3 254.5a1.9 1.9 0 1 0 3.8 0a1.9 1.9 0 1 0 -3.8 0M134.6 258.4a1.9 1.9 0 1 0 3.8 0a1.9 1.9 0 1 0 -3.8 0M130.6 251.4a1.9 1.9 0 1 0 3.8 0a1.9 1.9 0 1 0 -3.8 0M127.3 254.3a1.9 1.9 0 1 0 3.8 0a1.9 1.9 0 1 0 -3.8 0M129.8 262.4a1.9 1.9 0 1 0 3.8 0a1.9 1.9 0 1 0 -3.8 0M130.2 268.2a1.9 1.9 0 1 0 3.8 0a1.9 1.9 0 1 0 -3.8 0M122.4 277.2a1.9 1.9 0 1 0 3.8 0a1.9 1.9 0 1 0 -3.8 0M118.8 288.4a1.9 1.9 0 1 0 3.8 0a1.9 1.9 0 1 0 -3.8 0M139.6 253.1a1.9 1.9 0 1 0 3.8 0a1.9 1.9 0 1 0 -3.8 0M143.2 250.4a1.9 1.9 0 1 0 3.8 0a1.9 1.9 0 1 0 -3.8 0M200 299.8a1.9 1.9 0 1 0 3.8 0a1.9 1.9 0 1 0 -3.8 0M201.6 301.2a1.9 1.9 0 1 0 3.8 0a1.9 1.9 0 1 0 -3.8 0M205.6 300.5a1.9 1.9 0 1 0 3.8 0a1.9 1.9 0 1 0 -3.8 0M205.6 300.1a1.9 1.9 0 1 0 3.8 0a1.9 1.9 0 1 0 -3.8 0M210.9 297.8a1.9 1.9 0 1 0 3.8 0a1.9 1.9 0 1 0 -3.8 0M213.7 296.5a1.9 1.9 0 1 0 3.8 0a1.9 1.9 0 1 0 -3.8 0M216.3 293.9a1.9 1.9 0 1 0 3.8 0a1.9 1.9 0 1 0 -3.8 0M218.6 293.4a1.9 1.9 0 1 0 3.8 0a1.9 1.9 0 1 0 -3.8 0M220.3 292.8a1.9 1.9 0 1 0 3.8 0a1.9 1.9 0 1 0 -3.8 0M225.4 289.4a1.9 1.9 0 1 0 3.8 0a1.9 1.9 0 1 0 -3.8 0M227.6 287.6a1.9 1.9 0 1 0 3.8 0a1.9 1.9 0 1 0 -3.8 0M229 284.8a1.9 1.9 0 1 0 3.8 0a1.9 1.9 0 1 0 -3.8 0M230 283.3a1.9 1.9 0 1 0 3.8 0a1.9 1.9 0 1 0 -3.8 0M233.1 279.7a1.9 1.9 0 1 0 3.8 0a1.9 1.9 0 1 0 -3.8 0M235.9 278.7a1.9 1.9 0 1 0 3.8 0a1.9 1.9 0 1 0 -3.8 0M239.1 278.1a1.9 1.9 0 1 0 3.8 0a1.9 1.9 0 1 0 -3.8 0M241.7 278.6a1.9 1.9 0 1 0 3.8 0a1.9 1.9 0 1 0 -3.8 0M244 277.7a1.9 1.9 0 1 0 3.8 0a1.9 1.9 0 1 0 -3.8 0M240.7 276.8a1.9 1.9 0 1 0 3.8 0a1.9 1.9 0 1 0 -3.8 0M239.6 275.8a1.9 1.9 0 1 0 3.8 0a1.9 1.9 0 1 0 -3.8 0M234.7 276.1a1.9 1.9 0 1 0 3.8 0a1.9 1.9 0 1 0 -3.8 0M232.1 277.8a1.9 1.9 0 1 0 3.8 0a1.9 1.9 0 1 0 -3.8 0M230.5 278.8a1.9 1.9 0 1 0 3.8 0a1.9 1.9 0 1 0 -3.8 0M228.4 281.4a1.9 1.9 0 1 0 3.8 0a1.9 1.9 0 1 0 -3.8 0M226 284a1.9 1.9 0 1 0 3.8 0a1.9 1.9 0 1 0 -3.8 0M223.9 284.3a1.9 1.9 0 1 0 3.8 0a1.9 1.9 0 1 0 -3.8 0M221.3 286.7a1.9 1.9 0 1 0 3.8 0a1.9 1.9 0 1 0 -3.8 0M216.4 288.7a1.9 1.9 0 1 0 3.8 0a1.9 1.9 0 1 0 -3.8 0M215.1 289.7a1.9 1.9 0 1 0 3.8 0a1.9 1.9 0 1 0 -3.8 0M210.3 291.5a1.9 1.9 0 1 0 3.8 0a1.9 1.9 0 1 0 -3.8 0M207.8 293.9a1.9 1.9 0 1 0 3.8 0a1.9 1.9 0 1 0 -3.8 0M205.3 294.5a1.9 1.9 0 1 0 3.8 0a1.9 1.9 0 1 0 -3.8 0M201.1 298a1.9 1.9 0 1 0 3.8 0a1.9 1.9 0 1 0 -3.8 0M203.4 300.3a1.9 1.9 0 1 0 3.8 0a1.9 1.9 0 1 0 -3.8 0M232.8 279.5a1.9 1.9 0 1 0 3.8 0a1.9 1.9 0 1 0 -3.8 0M227 282.8a1.9 1.9 0 1 0 3.8 0a1.9 1.9 0 1 0 -3.8 0M225.7 288.3a1.9 1.9 0 1 0 3.8 0a1.9 1.9 0 1 0 -3.8 0M209 295.8a1.9 1.9 0 1 0 3.8 0a1.9 1.9 0 1 0 -3.8 0M230.1 280.4a1.9 1.9 0 1 0 3.8 0a1.9 1.9 0 1 0 -3.8 0M200.6 299.2a1.9 1.9 0 1 0 3.8 0a1.9 1.9 0 1 0 -3.8 0M221.3 291.9a1.9 1.9 0 1 0 3.8 0a1.9 1.9 0 1 0 -3.8 0M208.4 298a1.9 1.9 0 1 0 3.8 0a1.9 1.9 0 1 0 -3.8 0M230.5 281.5a1.9 1.9 0 1 0 3.8 0a1.9 1.9 0 1 0 -3.8 0M240.1 277.2a1.9 1.9 0 1 0 3.8 0a1.9 1.9 0 1 0 -3.8 0M211.9 293.8a1.9 1.9 0 1 0 3.8 0a1.9 1.9 0 1 0 -3.8 0M215.4 289.8a1.9 1.9 0 1 0 3.8 0a1.9 1.9 0 1 0 -3.8 0M242.1 278.8a1.9 1.9 0 1 0 3.8 0a1.9 1.9 0 1 0 -3.8 0M201.9 297.4a1.9 1.9 0 1 0 3.8 0a1.9 1.9 0 1 0 -3.8 0M219.4 292.1a1.9 1.9 0 1 0 3.8 0a1.9 1.9 0 1 0 -3.8 0M220 288.5a1.9 1.9 0 1 0 3.8 0a1.9 1.9 0 1 0 -3.8 0M208.2 297.7a1.9 1.9 0 1 0 3.8 0a1.9 1.9 0 1 0 -3.8 0M242.1 278a1.9 1.9 0 1 0 3.8 0a1.9 1.9 0 1 0 -3.8 0M200.6 298.7a1.9 1.9 0 1 0 3.8 0a1.9 1.9 0 1 0 -3.8 0M211.8 295.3a1.9 1.9 0 1 0 3.8 0a1.9 1.9 0 1 0 -3.8 0M231.5 279.9a1.9 1.9 0 1 0 3.8 0a1.9 1.9 0 1 0 -3.8 0M208.6 298.9a1.9 1.9 0 1 0 3.8 0a1.9 1.9 0 1 0 -3.8 0M210.1 295.5a1.9 1.9 0 1 0 3.8 0a1.9 1.9 0 1 0 -3.8 0M203.8 299.8a1.9 1.9 0 1 0 3.8 0a1.9 1.9 0 1 0 -3.8 0M209 294.8a1.9 1.9 0 1 0 3.8 0a1.9 1.9 0 1 0 -3.8 0M239.5 276.8a1.9 1.9 0 1 0 3.8 0a1.9 1.9 0 1 0 -3.8 0M221.9 287.7a1.9 1.9 0 1 0 3.8 0a1.9 1.9 0 1 0 -3.8 0M210.2 291.7a1.9 1.9 0 1 0 3.8 0a1.9 1.9 0 1 0 -3.8 0M217.8 293.3a1.9 1.9 0 1 0 3.8 0a1.9 1.9 0 1 0 -3.8 0M229 284.4a1.9 1.9 0 1 0 3.8 0a1.9 1.9 0 1 0 -3.8 0M239.3 276.6a1.9 1.9 0 1 0 3.8 0a1.9 1.9 0 1 0 -3.8 0M225.5 287.6a1.9 1.9 0 1 0 3.8 0a1.9 1.9 0 1 0 -3.8 0M244.3 278.8a1.9 1.9 0 1 0 3.8 0a1.9 1.9 0 1 0 -3.8 0M223.2 285.7a1.9 1.9 0 1 0 3.8 0a1.9 1.9 0 1 0 -3.8 0M210.4 295.1a1.9 1.9 0 1 0 3.8 0a1.9 1.9 0 1 0 -3.8 0M223.7 286.8a1.9 1.9 0 1 0 3.8 0a1.9 1.9 0 1 0 -3.8 0M237.9 278a1.9 1.9 0 1 0 3.8 0a1.9 1.9 0 1 0 -3.8 0M214.5 293.8a1.9 1.9 0 1 0 3.8 0a1.9 1.9 0 1 0 -3.8 0M226.4 285.2a1.9 1.9 0 1 0 3.8 0a1.9 1.9 0 1 0 -3.8 0M241.3 277.1a1.9 1.9 0 1 0 3.8 0a1.9 1.9 0 1 0 -3.8 0M215 291.4a1.9 1.9 0 1 0 3.8 0a1.9 1.9 0 1 0 -3.8 0M205.2 297.7a1.9 1.9 0 1 0 3.8 0a1.9 1.9 0 1 0 -3.8 0M206.6 299.2a1.9 1.9 0 1 0 3.8 0a1.9 1.9 0 1 0 -3.8 0M208.5 297.3a1.9 1.9 0 1 0 3.8 0a1.9 1.9 0 1 0 -3.8 0M202.6 296.8a1.9 1.9 0 1 0 3.8 0a1.9 1.9 0 1 0 -3.8 0M221 289a1.9 1.9 0 1 0 3.8 0a1.9 1.9 0 1 0 -3.8 0M204.6 300.4a1.9 1.9 0 1 0 3.8 0a1.9 1.9 0 1 0 -3.8 0M236.9 276.5a1.9 1.9 0 1 0 3.8 0a1.9 1.9 0 1 0 -3.8 0M226.2 284.8a1.9 1.9 0 1 0 3.8 0a1.9 1.9 0 1 0 -3.8 0M222.5 286.6a1.9 1.9 0 1 0 3.8 0a1.9 1.9 0 1 0 -3.8 0M205 298.9a1.9 1.9 0 1 0 3.8 0a1.9 1.9 0 1 0 -3.8 0M214.4 292a1.9 1.9 0 1 0 3.8 0a1.9 1.9 0 1 0 -3.8 0M215.6 290.6a1.9 1.9 0 1 0 3.8 0a1.9 1.9 0 1 0 -3.8 0M243 279.1a1.9 1.9 0 1 0 3.8 0a1.9 1.9 0 1 0 -3.8 0M210.3 291.9a1.9 1.9 0 1 0 3.8 0a1.9 1.9 0 1 0 -3.8 0M239.2 278.1a1.9 1.9 0 1 0 3.8 0a1.9 1.9 0 1 0 -3.8 0M211.5 293.3a1.9 1.9 0 1 0 3.8 0a1.9 1.9 0 1 0 -3.8 0M203.8 296a1.9 1.9 0 1 0 3.8 0a1.9 1.9 0 1 0 -3.8 0M259.3 257.7a1.9 1.9 0 1 0 3.8 0a1.9 1.9 0 1 0 -3.8 0M259.3 260.7a1.9 1.9 0 1 0 3.8 0a1.9 1.9 0 1 0 -3.8 0M259.2 262.7a1.9 1.9 0 1 0 3.8 0a1.9 1.9 0 1 0 -3.8 0M260.4 265.2a1.9 1.9 0 1 0 3.8 0a1.9 1.9 0 1 0 -3.8 0M263.7 266a1.9 1.9 0 1 0 3.8 0a1.9 1.9 0 1 0 -3.8 0M265.1 264.8a1.9 1.9 0 1 0 3.8 0a1.9 1.9 0 1 0 -3.8 0M265.4 262.5a1.9 1.9 0 1 0 3.8 0a1.9 1.9 0 1 0 -3.8 0M265.6 260.6a1.9 1.9 0 1 0 3.8 0a1.9 1.9 0 1 0 -3.8 0M265.7 257.7a1.9 1.9 0 1 0 3.8 0a1.9 1.9 0 1 0 -3.8 0M264.8 254.7a1.9 1.9 0 1 0 3.8 0a1.9 1.9 0 1 0 -3.8 0M262.8 254.3a1.9 1.9 0 1 0 3.8 0a1.9 1.9 0 1 0 -3.8 0M262.9 262.6a1.9 1.9 0 1 0 3.8 0a1.9 1.9 0 1 0 -3.8 0M262 259.2a1.9 1.9 0 1 0 3.8 0a1.9 1.9 0 1 0 -3.8 0M263.6 260.6a1.9 1.9 0 1 0 3.8 0a1.9 1.9 0 1 0 -3.8 0M261.6 262a1.9 1.9 0 1 0 3.8 0a1.9 1.9 0 1 0 -3.8 0M262.8 255a1.9 1.9 0 1 0 3.8 0a1.9 1.9 0 1 0 -3.8 0M261.2 264.9a1.9 1.9 0 1 0 3.8 0a1.9 1.9 0 1 0 -3.8 0M259.8 260.3a1.9 1.9 0 1 0 3.8 0a1.9 1.9 0 1 0 -3.8 0M263.3 248.2a1.9 1.9 0 1 0 3.8 0a1.9 1.9 0 1 0 -3.8 0M262.7 248.4a1.9 1.9 0 1 0 3.8 0a1.9 1.9 0 1 0 -3.8 0M265.4 263.4a1.9 1.9 0 1 0 3.8 0a1.9 1.9 0 1 0 -3.8 0M266 251.5a1.9 1.9 0 1 0 3.8 0a1.9 1.9 0 1 0 -3.8 0M261.8 268.2a1.9 1.9 0 1 0 3.8 0a1.9 1.9 0 1 0 -3.8 0M260.1 260.4a1.9 1.9 0 1 0 3.8 0a1.9 1.9 0 1 0 -3.8 0M259.7 265a1.9 1.9 0 1 0 3.8 0a1.9 1.9 0 1 0 -3.8 0M263.1 265.3a1.9 1.9 0 1 0 3.8 0a1.9 1.9 0 1 0 -3.8 0M262.3 251.9a1.9 1.9 0 1 0 3.8 0a1.9 1.9 0 1 0 -3.8 0M254.6 262.6a1.9 1.9 0 1 0 3.8 0a1.9 1.9 0 1 0 -3.8 0M261.1 255.4a1.9 1.9 0 1 0 3.8 0a1.9 1.9 0 1 0 -3.8 0M266.7 254.6a1.9 1.9 0 1 0 3.8 0a1.9 1.9 0 1 0 -3.8 0M253.5 264.5a1.9 1.9 0 1 0 3.8 0a1.9 1.9 0 1 0 -3.8 0M263.4 256.2a1.9 1.9 0 1 0 3.8 0a1.9 1.9 0 1 0 -3.8 0M266.2 253.9a1.9 1.9 0 1 0 3.8 0a1.9 1.9 0 1 0 -3.8 0M255.9 257.1a1.9 1.9 0 1 0 3.8 0a1.9 1.9 0 1 0 -3.8 0M258.4 257a1.9 1.9 0 1 0 3.8 0a1.9 1.9 0 1 0 -3.8 0M263.9 256.2a1.9 1.9 0 1 0 3.8 0a1.9 1.9 0 1 0 -3.8 0M258.9 257.4a1.9 1.9 0 1 0 3.8 0a1.9 1.9 0 1 0 -3.8 0M265.3 248.6a1.9 1.9 0 1 0 3.8 0a1.9 1.9 0 1 0 -3.8 0M266 254.9a1.9 1.9 0 1 0 3.8 0a1.9 1.9 0 1 0 -3.8 0M257.1 257.6a1.9 1.9 0 1 0 3.8 0a1.9 1.9 0 1 0 -3.8 0M265.3 242.5a1.9 1.9 0 1 0 3.8 0a1.9 1.9 0 1 0 -3.8 0M268.3 243.3a1.9 1.9 0 1 0 3.8 0a1.9 1.9 0 1 0 -3.8 0M266 246.3a1.9 1.9 0 1 0 3.8 0a1.9 1.9 0 1 0 -3.8 0M261.5 249.3a1.9 1.9 0 1 0 3.8 0a1.9 1.9 0 1 0 -3.8 0M265.3 250a1.9 1.9 0 1 0 3.8 0a1.9 1.9 0 1 0 -3.8 0M268.3 252.3a1.9 1.9 0 1 0 3.8 0a1.9 1.9 0 1 0 -3.8 0M260.8 253.1a1.9 1.9 0 1 0 3.8 0a1.9 1.9 0 1 0 -3.8 0M263.8 254.6a1.9 1.9 0 1 0 3.8 0a1.9 1.9 0 1 0 -3.8 0M268.3 257.6a1.9 1.9 0 1 0 3.8 0a1.9 1.9 0 1 0 -3.8 0M260 257.6a1.9 1.9 0 1 0 3.8 0a1.9 1.9 0 1 0 -3.8 0M254.7 257.6a1.9 1.9 0 1 0 3.8 0a1.9 1.9 0 1 0 -3.8 0M266 261.3a1.9 1.9 0 1 0 3.8 0a1.9 1.9 0 1 0 -3.8 0M259.2 261.3a1.9 1.9 0 1 0 3.8 0a1.9 1.9 0 1 0 -3.8 0M249.5 262.1a1.9 1.9 0 1 0 3.8 0a1.9 1.9 0 1 0 -3.8 0M245.7 265.9a1.9 1.9 0 1 0 3.8 0a1.9 1.9 0 1 0 -3.8 0M244.9 268.1a1.9 1.9 0 1 0 3.8 0a1.9 1.9 0 1 0 -3.8 0M254.7 264.4a1.9 1.9 0 1 0 3.8 0a1.9 1.9 0 1 0 -3.8 0M257.7 266.6a1.9 1.9 0 1 0 3.8 0a1.9 1.9 0 1 0 -3.8 0M261.5 265.9a1.9 1.9 0 1 0 3.8 0a1.9 1.9 0 1 0 -3.8 0M253.2 269.6a1.9 1.9 0 1 0 3.8 0a1.9 1.9 0 1 0 -3.8 0M254.7 272.6a1.9 1.9 0 1 0 3.8 0a1.9 1.9 0 1 0 -3.8 0M260.8 269.6a1.9 1.9 0 1 0 3.8 0a1.9 1.9 0 1 0 -3.8 0M264.5 265.1a1.9 1.9 0 1 0 3.8 0a1.9 1.9 0 1 0 -3.8 0M227.2 291.1a1.9 1.9 0 1 0 3.8 0a1.9 1.9 0 1 0 -3.8 0M290.8 301.4a1.9 1.9 0 1 0 3.8 0a1.9 1.9 0 1 0 -3.8 0M292.6 299.9a1.9 1.9 0 1 0 3.8 0a1.9 1.9 0 1 0 -3.8 0M292.8 297.1a1.9 1.9 0 1 0 3.8 0a1.9 1.9 0 1 0 -3.8 0M293.6 294.8a1.9 1.9 0 1 0 3.8 0a1.9 1.9 0 1 0 -3.8 0M294.4 292.1a1.9 1.9 0 1 0 3.8 0a1.9 1.9 0 1 0 -3.8 0M294.4 288.8a1.9 1.9 0 1 0 3.8 0a1.9 1.9 0 1 0 -3.8 0M294.9 285.3a1.9 1.9 0 1 0 3.8 0a1.9 1.9 0 1 0 -3.8 0M295.7 280.9a1.9 1.9 0 1 0 3.8 0a1.9 1.9 0 1 0 -3.8 0M296.6 278a1.9 1.9 0 1 0 3.8 0a1.9 1.9 0 1 0 -3.8 0M297.5 276.1a1.9 1.9 0 1 0 3.8 0a1.9 1.9 0 1 0 -3.8 0M299.5 274.1a1.9 1.9 0 1 0 3.8 0a1.9 1.9 0 1 0 -3.8 0M303.9 269.1a1.9 1.9 0 1 0 3.8 0a1.9 1.9 0 1 0 -3.8 0M304.8 267.7a1.9 1.9 0 1 0 3.8 0a1.9 1.9 0 1 0 -3.8 0M307.7 265.7a1.9 1.9 0 1 0 3.8 0a1.9 1.9 0 1 0 -3.8 0M310.7 263.9a1.9 1.9 0 1 0 3.8 0a1.9 1.9 0 1 0 -3.8 0M312.1 262.8a1.9 1.9 0 1 0 3.8 0a1.9 1.9 0 1 0 -3.8 0M313.2 260.8a1.9 1.9 0 1 0 3.8 0a1.9 1.9 0 1 0 -3.8 0M315.1 258.4a1.9 1.9 0 1 0 3.8 0a1.9 1.9 0 1 0 -3.8 0M318.6 253.3a1.9 1.9 0 1 0 3.8 0a1.9 1.9 0 1 0 -3.8 0M317.6 252.4a1.9 1.9 0 1 0 3.8 0a1.9 1.9 0 1 0 -3.8 0M313.9 255.4a1.9 1.9 0 1 0 3.8 0a1.9 1.9 0 1 0 -3.8 0M312 256.7a1.9 1.9 0 1 0 3.8 0a1.9 1.9 0 1 0 -3.8 0M310.2 258.8a1.9 1.9 0 1 0 3.8 0a1.9 1.9 0 1 0 -3.8 0M308.1 260.1a1.9 1.9 0 1 0 3.8 0a1.9 1.9 0 1 0 -3.8 0M303.7 263.4a1.9 1.9 0 1 0 3.8 0a1.9 1.9 0 1 0 -3.8 0M298.9 267.4a1.9 1.9 0 1 0 3.8 0a1.9 1.9 0 1 0 -3.8 0M296.3 272a1.9 1.9 0 1 0 3.8 0a1.9 1.9 0 1 0 -3.8 0M295.3 274.5a1.9 1.9 0 1 0 3.8 0a1.9 1.9 0 1 0 -3.8 0M293.2 280a1.9 1.9 0 1 0 3.8 0a1.9 1.9 0 1 0 -3.8 0M292.3 283.2a1.9 1.9 0 1 0 3.8 0a1.9 1.9 0 1 0 -3.8 0M291.3 285.3a1.9 1.9 0 1 0 3.8 0a1.9 1.9 0 1 0 -3.8 0M291.1 287.8a1.9 1.9 0 1 0 3.8 0a1.9 1.9 0 1 0 -3.8 0M290.6 290.4a1.9 1.9 0 1 0 3.8 0a1.9 1.9 0 1 0 -3.8 0M290.6 293a1.9 1.9 0 1 0 3.8 0a1.9 1.9 0 1 0 -3.8 0M289.9 295.8a1.9 1.9 0 1 0 3.8 0a1.9 1.9 0 1 0 -3.8 0M292.3 289a1.9 1.9 0 1 0 3.8 0a1.9 1.9 0 1 0 -3.8 0M291.4 301.2a1.9 1.9 0 1 0 3.8 0a1.9 1.9 0 1 0 -3.8 0M304.7 266.5a1.9 1.9 0 1 0 3.8 0a1.9 1.9 0 1 0 -3.8 0M310.4 259.1a1.9 1.9 0 1 0 3.8 0a1.9 1.9 0 1 0 -3.8 0M316.1 257a1.9 1.9 0 1 0 3.8 0a1.9 1.9 0 1 0 -3.8 0M310.3 259.3a1.9 1.9 0 1 0 3.8 0a1.9 1.9 0 1 0 -3.8 0M311.8 262.3a1.9 1.9 0 1 0 3.8 0a1.9 1.9 0 1 0 -3.8 0M305.8 263a1.9 1.9 0 1 0 3.8 0a1.9 1.9 0 1 0 -3.8 0M314.4 258.6a1.9 1.9 0 1 0 3.8 0a1.9 1.9 0 1 0 -3.8 0M313.8 259.3a1.9 1.9 0 1 0 3.8 0a1.9 1.9 0 1 0 -3.8 0M301.1 267a1.9 1.9 0 1 0 3.8 0a1.9 1.9 0 1 0 -3.8 0M292.6 286.4a1.9 1.9 0 1 0 3.8 0a1.9 1.9 0 1 0 -3.8 0M292.7 297.6a1.9 1.9 0 1 0 3.8 0a1.9 1.9 0 1 0 -3.8 0M300.3 271.9a1.9 1.9 0 1 0 3.8 0a1.9 1.9 0 1 0 -3.8 0M296.3 273.1a1.9 1.9 0 1 0 3.8 0a1.9 1.9 0 1 0 -3.8 0M310 264a1.9 1.9 0 1 0 3.8 0a1.9 1.9 0 1 0 -3.8 0M317.6 253.1a1.9 1.9 0 1 0 3.8 0a1.9 1.9 0 1 0 -3.8 0M294.2 287a1.9 1.9 0 1 0 3.8 0a1.9 1.9 0 1 0 -3.8 0M306.9 265.9a1.9 1.9 0 1 0 3.8 0a1.9 1.9 0 1 0 -3.8 0M295 281.9a1.9 1.9 0 1 0 3.8 0a1.9 1.9 0 1 0 -3.8 0M293 296.3a1.9 1.9 0 1 0 3.8 0a1.9 1.9 0 1 0 -3.8 0M310.1 259.7a1.9 1.9 0 1 0 3.8 0a1.9 1.9 0 1 0 -3.8 0M307 265.2a1.9 1.9 0 1 0 3.8 0a1.9 1.9 0 1 0 -3.8 0M291.4 295.3a1.9 1.9 0 1 0 3.8 0a1.9 1.9 0 1 0 -3.8 0M316 256.3a1.9 1.9 0 1 0 3.8 0a1.9 1.9 0 1 0 -3.8 0M316 255.9a1.9 1.9 0 1 0 3.8 0a1.9 1.9 0 1 0 -3.8 0M311.3 257.8a1.9 1.9 0 1 0 3.8 0a1.9 1.9 0 1 0 -3.8 0M303.6 268.3a1.9 1.9 0 1 0 3.8 0a1.9 1.9 0 1 0 -3.8 0M309.4 259.3a1.9 1.9 0 1 0 3.8 0a1.9 1.9 0 1 0 -3.8 0M299.7 269.2a1.9 1.9 0 1 0 3.8 0a1.9 1.9 0 1 0 -3.8 0M295.4 278.7a1.9 1.9 0 1 0 3.8 0a1.9 1.9 0 1 0 -3.8 0M293.7 281.1a1.9 1.9 0 1 0 3.8 0a1.9 1.9 0 1 0 -3.8 0M307.2 265.8a1.9 1.9 0 1 0 3.8 0a1.9 1.9 0 1 0 -3.8 0M291.8 294.5a1.9 1.9 0 1 0 3.8 0a1.9 1.9 0 1 0 -3.8 0M298.8 272.4a1.9 1.9 0 1 0 3.8 0a1.9 1.9 0 1 0 -3.8 0M307.5 264.4a1.9 1.9 0 1 0 3.8 0a1.9 1.9 0 1 0 -3.8 0M298.1 270.2a1.9 1.9 0 1 0 3.8 0a1.9 1.9 0 1 0 -3.8 0M313.5 257.5a1.9 1.9 0 1 0 3.8 0a1.9 1.9 0 1 0 -3.8 0M300.4 270.5a1.9 1.9 0 1 0 3.8 0a1.9 1.9 0 1 0 -3.8 0M301.2 266.1a1.9 1.9 0 1 0 3.8 0a1.9 1.9 0 1 0 -3.8 0M301.6 270a1.9 1.9 0 1 0 3.8 0a1.9 1.9 0 1 0 -3.8 0M304.1 264.6a1.9 1.9 0 1 0 3.8 0a1.9 1.9 0 1 0 -3.8 0M363.6 243.3a1.9 1.9 0 1 0 3.8 0a1.9 1.9 0 1 0 -3.8 0M349.6 243.1a1.9 1.9 0 1 0 3.8 0a1.9 1.9 0 1 0 -3.8 0M340.5 245.9a1.9 1.9 0 1 0 3.8 0a1.9 1.9 0 1 0 -3.8 0M335.3 248.2a1.9 1.9 0 1 0 3.8 0a1.9 1.9 0 1 0 -3.8 0M330.5 250.1a1.9 1.9 0 1 0 3.8 0a1.9 1.9 0 1 0 -3.8 0M334.4 253a1.9 1.9 0 1 0 3.8 0a1.9 1.9 0 1 0 -3.8 0M329.9 254.3a1.9 1.9 0 1 0 3.8 0a1.9 1.9 0 1 0 -3.8 0M326.1 253.9a1.9 1.9 0 1 0 3.8 0a1.9 1.9 0 1 0 -3.8 0M322.9 254.3a1.9 1.9 0 1 0 3.8 0a1.9 1.9 0 1 0 -3.8 0M319.7 253.9a1.9 1.9 0 1 0 3.8 0a1.9 1.9 0 1 0 -3.8 0M319.7 257.7a1.9 1.9 0 1 0 3.8 0a1.9 1.9 0 1 0 -3.8 0M317.2 250.7a1.9 1.9 0 1 0 3.8 0a1.9 1.9 0 1 0 -3.8 0M314 253.9a1.9 1.9 0 1 0 3.8 0a1.9 1.9 0 1 0 -3.8 0M312.9 267.6a1.9 1.9 0 1 0 3.8 0a1.9 1.9 0 1 0 -3.8 0M303.3 276.7a1.9 1.9 0 1 0 3.8 0a1.9 1.9 0 1 0 -3.8 0M297.3 288.4a1.9 1.9 0 1 0 3.8 0a1.9 1.9 0 1 0 -3.8 0M401.3 301.6a1.9 1.9 0 1 0 3.8 0a1.9 1.9 0 1 0 -3.8 0M406.8 301.6a1.9 1.9 0 1 0 3.8 0a1.9 1.9 0 1 0 -3.8 0M412.5 301.4a1.9 1.9 0 1 0 3.8 0a1.9 1.9 0 1 0 -3.8 0M414.3 299.6a1.9 1.9 0 1 0 3.8 0a1.9 1.9 0 1 0 -3.8 0M414.6 297.4a1.9 1.9 0 1 0 3.8 0a1.9 1.9 0 1 0 -3.8 0M415.8 295.4a1.9 1.9 0 1 0 3.8 0a1.9 1.9 0 1 0 -3.8 0M416.4 291.8a1.9 1.9 0 1 0 3.8 0a1.9 1.9 0 1 0 -3.8 0M417.8 290.2a1.9 1.9 0 1 0 3.8 0a1.9 1.9 0 1 0 -3.8 0M419.2 286.4a1.9 1.9 0 1 0 3.8 0a1.9 1.9 0 1 0 -3.8 0M419.9 285.2a1.9 1.9 0 1 0 3.8 0a1.9 1.9 0 1 0 -3.8 0M421.1 282.2a1.9 1.9 0 1 0 3.8 0a1.9 1.9 0 1 0 -3.8 0M422.7 280.5a1.9 1.9 0 1 0 3.8 0a1.9 1.9 0 1 0 -3.8 0M424.7 275.2a1.9 1.9 0 1 0 3.8 0a1.9 1.9 0 1 0 -3.8 0M426.6 273.4a1.9 1.9 0 1 0 3.8 0a1.9 1.9 0 1 0 -3.8 0M427.5 270a1.9 1.9 0 1 0 3.8 0a1.9 1.9 0 1 0 -3.8 0M428.5 267.9a1.9 1.9 0 1 0 3.8 0a1.9 1.9 0 1 0 -3.8 0M429.5 267a1.9 1.9 0 1 0 3.8 0a1.9 1.9 0 1 0 -3.8 0M431.2 265.3a1.9 1.9 0 1 0 3.8 0a1.9 1.9 0 1 0 -3.8 0M432.4 262.5a1.9 1.9 0 1 0 3.8 0a1.9 1.9 0 1 0 -3.8 0M434.2 259.9a1.9 1.9 0 1 0 3.8 0a1.9 1.9 0 1 0 -3.8 0M435.8 258.3a1.9 1.9 0 1 0 3.8 0a1.9 1.9 0 1 0 -3.8 0M435.8 255.4a1.9 1.9 0 1 0 3.8 0a1.9 1.9 0 1 0 -3.8 0M439.5 250.9a1.9 1.9 0 1 0 3.8 0a1.9 1.9 0 1 0 -3.8 0M440.3 248.5a1.9 1.9 0 1 0 3.8 0a1.9 1.9 0 1 0 -3.8 0M442.3 244.2a1.9 1.9 0 1 0 3.8 0a1.9 1.9 0 1 0 -3.8 0M441.3 245.5a1.9 1.9 0 1 0 3.8 0a1.9 1.9 0 1 0 -3.8 0M437.1 250.2a1.9 1.9 0 1 0 3.8 0a1.9 1.9 0 1 0 -3.8 0M436 251.1a1.9 1.9 0 1 0 3.8 0a1.9 1.9 0 1 0 -3.8 0M434.2 254.4a1.9 1.9 0 1 0 3.8 0a1.9 1.9 0 1 0 -3.8 0M431.5 257.7a1.9 1.9 0 1 0 3.8 0a1.9 1.9 0 1 0 -3.8 0M430.4 259.8a1.9 1.9 0 1 0 3.8 0a1.9 1.9 0 1 0 -3.8 0M428.7 264a1.9 1.9 0 1 0 3.8 0a1.9 1.9 0 1 0 -3.8 0M428.2 265.9a1.9 1.9 0 1 0 3.8 0a1.9 1.9 0 1 0 -3.8 0M427.2 267.2a1.9 1.9 0 1 0 3.8 0a1.9 1.9 0 1 0 -3.8 0M425.7 269.9a1.9 1.9 0 1 0 3.8 0a1.9 1.9 0 1 0 -3.8 0M423.8 272.1a1.9 1.9 0 1 0 3.8 0a1.9 1.9 0 1 0 -3.8 0M422.3 274.7a1.9 1.9 0 1 0 3.8 0a1.9 1.9 0 1 0 -3.8 0M421 276.7a1.9 1.9 0 1 0 3.8 0a1.9 1.9 0 1 0 -3.8 0M420.4 278.1a1.9 1.9 0 1 0 3.8 0a1.9 1.9 0 1 0 -3.8 0M418.8 282.1a1.9 1.9 0 1 0 3.8 0a1.9 1.9 0 1 0 -3.8 0M418.2 283.6a1.9 1.9 0 1 0 3.8 0a1.9 1.9 0 1 0 -3.8 0M416.4 286.4a1.9 1.9 0 1 0 3.8 0a1.9 1.9 0 1 0 -3.8 0M416.2 287.7a1.9 1.9 0 1 0 3.8 0a1.9 1.9 0 1 0 -3.8 0M412.8 292a1.9 1.9 0 1 0 3.8 0a1.9 1.9 0 1 0 -3.8 0M411 295.2a1.9 1.9 0 1 0 3.8 0a1.9 1.9 0 1 0 -3.8 0M409.5 296.5a1.9 1.9 0 1 0 3.8 0a1.9 1.9 0 1 0 -3.8 0M408 297.8a1.9 1.9 0 1 0 3.8 0a1.9 1.9 0 1 0 -3.8 0M405.6 299.5a1.9 1.9 0 1 0 3.8 0a1.9 1.9 0 1 0 -3.8 0M403.2 300.4a1.9 1.9 0 1 0 3.8 0a1.9 1.9 0 1 0 -3.8 0M432.5 260.9a1.9 1.9 0 1 0 3.8 0a1.9 1.9 0 1 0 -3.8 0M423.6 275.4a1.9 1.9 0 1 0 3.8 0a1.9 1.9 0 1 0 -3.8 0M434.7 258.1a1.9 1.9 0 1 0 3.8 0a1.9 1.9 0 1 0 -3.8 0M411.4 296.9a1.9 1.9 0 1 0 3.8 0a1.9 1.9 0 1 0 -3.8 0M427.2 269.5a1.9 1.9 0 1 0 3.8 0a1.9 1.9 0 1 0 -3.8 0M414.3 290.8a1.9 1.9 0 1 0 3.8 0a1.9 1.9 0 1 0 -3.8 0M420.4 281.8a1.9 1.9 0 1 0 3.8 0a1.9 1.9 0 1 0 -3.8 0M420.1 281.2a1.9 1.9 0 1 0 3.8 0a1.9 1.9 0 1 0 -3.8 0M408.9 298.4a1.9 1.9 0 1 0 3.8 0a1.9 1.9 0 1 0 -3.8 0M432.5 260.2a1.9 1.9 0 1 0 3.8 0a1.9 1.9 0 1 0 -3.8 0M414.1 298.4a1.9 1.9 0 1 0 3.8 0a1.9 1.9 0 1 0 -3.8 0M411.8 300.7a1.9 1.9 0 1 0 3.8 0a1.9 1.9 0 1 0 -3.8 0M428.7 268.4a1.9 1.9 0 1 0 3.8 0a1.9 1.9 0 1 0 -3.8 0M431.8 258.7a1.9 1.9 0 1 0 3.8 0a1.9 1.9 0 1 0 -3.8 0M411.1 300.7a1.9 1.9 0 1 0 3.8 0a1.9 1.9 0 1 0 -3.8 0M415.6 294.8a1.9 1.9 0 1 0 3.8 0a1.9 1.9 0 1 0 -3.8 0M412.7 294a1.9 1.9 0 1 0 3.8 0a1.9 1.9 0 1 0 -3.8 0M439.4 248.7a1.9 1.9 0 1 0 3.8 0a1.9 1.9 0 1 0 -3.8 0M421.8 278.1a1.9 1.9 0 1 0 3.8 0a1.9 1.9 0 1 0 -3.8 0M420.6 280.1a1.9 1.9 0 1 0 3.8 0a1.9 1.9 0 1 0 -3.8 0M413.4 297.5a1.9 1.9 0 1 0 3.8 0a1.9 1.9 0 1 0 -3.8 0M406.4 299.5a1.9 1.9 0 1 0 3.8 0a1.9 1.9 0 1 0 -3.8 0M434 254.2a1.9 1.9 0 1 0 3.8 0a1.9 1.9 0 1 0 -3.8 0M413.8 291.7a1.9 1.9 0 1 0 3.8 0a1.9 1.9 0 1 0 -3.8 0M413 297.4a1.9 1.9 0 1 0 3.8 0a1.9 1.9 0 1 0 -3.8 0M435.8 253.7a1.9 1.9 0 1 0 3.8 0a1.9 1.9 0 1 0 -3.8 0M431.9 261.5a1.9 1.9 0 1 0 3.8 0a1.9 1.9 0 1 0 -3.8 0M415.7 292.4a1.9 1.9 0 1 0 3.8 0a1.9 1.9 0 1 0 -3.8 0M420.9 279.4a1.9 1.9 0 1 0 3.8 0a1.9 1.9 0 1 0 -3.8 0M414 297.3a1.9 1.9 0 1 0 3.8 0a1.9 1.9 0 1 0 -3.8 0M432.6 258.8a1.9 1.9 0 1 0 3.8 0a1.9 1.9 0 1 0 -3.8 0M416.9 290.6a1.9 1.9 0 1 0 3.8 0a1.9 1.9 0 1 0 -3.8 0M439.9 246.6a1.9 1.9 0 1 0 3.8 0a1.9 1.9 0 1 0 -3.8 0M425.4 274a1.9 1.9 0 1 0 3.8 0a1.9 1.9 0 1 0 -3.8 0M417.8 288.4a1.9 1.9 0 1 0 3.8 0a1.9 1.9 0 1 0 -3.8 0M415.6 293.7a1.9 1.9 0 1 0 3.8 0a1.9 1.9 0 1 0 -3.8 0M416.8 291.4a1.9 1.9 0 1 0 3.8 0a1.9 1.9 0 1 0 -3.8 0M406.1 300.1a1.9 1.9 0 1 0 3.8 0a1.9 1.9 0 1 0 -3.8 0M421.6 277a1.9 1.9 0 1 0 3.8 0a1.9 1.9 0 1 0 -3.8 0M425.8 273.4a1.9 1.9 0 1 0 3.8 0a1.9 1.9 0 1 0 -3.8 0M417.6 287.4a1.9 1.9 0 1 0 3.8 0a1.9 1.9 0 1 0 -3.8 0M431.3 260a1.9 1.9 0 1 0 3.8 0a1.9 1.9 0 1 0 -3.8 0M413.3 296.7a1.9 1.9 0 1 0 3.8 0a1.9 1.9 0 1 0 -3.8 0M436.6 252.8a1.9 1.9 0 1 0 3.8 0a1.9 1.9 0 1 0 -3.8 0M439.2 249.3a1.9 1.9 0 1 0 3.8 0a1.9 1.9 0 1 0 -3.8 0M407.4 300.3a1.9 1.9 0 1 0 3.8 0a1.9 1.9 0 1 0 -3.8 0M432.3 262.2a1.9 1.9 0 1 0 3.8 0a1.9 1.9 0 1 0 -3.8 0M408.7 297.9a1.9 1.9 0 1 0 3.8 0a1.9 1.9 0 1 0 -3.8 0M413.8 295a1.9 1.9 0 1 0 3.8 0a1.9 1.9 0 1 0 -3.8 0M432.1 257.9a1.9 1.9 0 1 0 3.8 0a1.9 1.9 0 1 0 -3.8 0M409.3 301.5a1.9 1.9 0 1 0 3.8 0a1.9 1.9 0 1 0 -3.8 0M435.1 256.4a1.9 1.9 0 1 0 3.8 0a1.9 1.9 0 1 0 -3.8 0M427.7 268.4a1.9 1.9 0 1 0 3.8 0a1.9 1.9 0 1 0 -3.8 0M411.9 298.9a1.9 1.9 0 1 0 3.8 0a1.9 1.9 0 1 0 -3.8 0M427.3 270.1a1.9 1.9 0 1 0 3.8 0a1.9 1.9 0 1 0 -3.8 0M430.5 265.3a1.9 1.9 0 1 0 3.8 0a1.9 1.9 0 1 0 -3.8 0M406.2 300.5a1.9 1.9 0 1 0 3.8 0a1.9 1.9 0 1 0 -3.8 0M429.7 264.1a1.9 1.9 0 1 0 3.8 0a1.9 1.9 0 1 0 -3.8 0M420 281.8a1.9 1.9 0 1 0 3.8 0a1.9 1.9 0 1 0 -3.8 0M434.7 255.8a1.9 1.9 0 1 0 3.8 0a1.9 1.9 0 1 0 -3.8 0M378.2 302.2a1.9 1.9 0 1 0 3.8 0a1.9 1.9 0 1 0 -3.8 0M382.3 302.2a1.9 1.9 0 1 0 3.8 0a1.9 1.9 0 1 0 -3.8 0M389.3 302.2a1.9 1.9 0 1 0 3.8 0a1.9 1.9 0 1 0 -3.8 0M399 302.2a1.9 1.9 0 1 0 3.8 0a1.9 1.9 0 1 0 -3.8 0M442.3 242.4a1.9 1.9 0 1 0 3.8 0a1.9 1.9 0 1 0 -3.8 0M445.1 243.2a1.9 1.9 0 1 0 3.8 0a1.9 1.9 0 1 0 -3.8 0M439.9 247a1.9 1.9 0 1 0 3.8 0a1.9 1.9 0 1 0 -3.8 0M465.9 298.9a1.9 1.9 0 1 0 3.8 0a1.9 1.9 0 1 0 -3.8 0M467.5 300.9a1.9 1.9 0 1 0 3.8 0a1.9 1.9 0 1 0 -3.8 0M469.6 300.2a1.9 1.9 0 1 0 3.8 0a1.9 1.9 0 1 0 -3.8 0M471.8 297.2a1.9 1.9 0 1 0 3.8 0a1.9 1.9 0 1 0 -3.8 0M473 296a1.9 1.9 0 1 0 3.8 0a1.9 1.9 0 1 0 -3.8 0M475.3 294.2a1.9 1.9 0 1 0 3.8 0a1.9 1.9 0 1 0 -3.8 0M476.8 292.3a1.9 1.9 0 1 0 3.8 0a1.9 1.9 0 1 0 -3.8 0M477.7 290.3a1.9 1.9 0 1 0 3.8 0a1.9 1.9 0 1 0 -3.8 0M480.4 287.3a1.9 1.9 0 1 0 3.8 0a1.9 1.9 0 1 0 -3.8 0M482.3 285.6a1.9 1.9 0 1 0 3.8 0a1.9 1.9 0 1 0 -3.8 0M482.7 283.7a1.9 1.9 0 1 0 3.8 0a1.9 1.9 0 1 0 -3.8 0M485.6 281.2a1.9 1.9 0 1 0 3.8 0a1.9 1.9 0 1 0 -3.8 0M487.1 279.9a1.9 1.9 0 1 0 3.8 0a1.9 1.9 0 1 0 -3.8 0M489.2 277.9a1.9 1.9 0 1 0 3.8 0a1.9 1.9 0 1 0 -3.8 0M491.3 276.1a1.9 1.9 0 1 0 3.8 0a1.9 1.9 0 1 0 -3.8 0M496.2 271.7a1.9 1.9 0 1 0 3.8 0a1.9 1.9 0 1 0 -3.8 0M498.7 269.4a1.9 1.9 0 1 0 3.8 0a1.9 1.9 0 1 0 -3.8 0M501.8 265.7a1.9 1.9 0 1 0 3.8 0a1.9 1.9 0 1 0 -3.8 0M505.4 263.7a1.9 1.9 0 1 0 3.8 0a1.9 1.9 0 1 0 -3.8 0M506.4 263.3a1.9 1.9 0 1 0 3.8 0a1.9 1.9 0 1 0 -3.8 0M509.2 261.5a1.9 1.9 0 1 0 3.8 0a1.9 1.9 0 1 0 -3.8 0M511 260.5a1.9 1.9 0 1 0 3.8 0a1.9 1.9 0 1 0 -3.8 0M514.7 258.3a1.9 1.9 0 1 0 3.8 0a1.9 1.9 0 1 0 -3.8 0M515.2 257a1.9 1.9 0 1 0 3.8 0a1.9 1.9 0 1 0 -3.8 0M516.2 253.5a1.9 1.9 0 1 0 3.8 0a1.9 1.9 0 1 0 -3.8 0M514.9 253.3a1.9 1.9 0 1 0 3.8 0a1.9 1.9 0 1 0 -3.8 0M513.4 254.8a1.9 1.9 0 1 0 3.8 0a1.9 1.9 0 1 0 -3.8 0M510.9 256.7a1.9 1.9 0 1 0 3.8 0a1.9 1.9 0 1 0 -3.8 0M509 259.1a1.9 1.9 0 1 0 3.8 0a1.9 1.9 0 1 0 -3.8 0M502.4 261.7a1.9 1.9 0 1 0 3.8 0a1.9 1.9 0 1 0 -3.8 0M500.3 263.4a1.9 1.9 0 1 0 3.8 0a1.9 1.9 0 1 0 -3.8 0M498.5 265.5a1.9 1.9 0 1 0 3.8 0a1.9 1.9 0 1 0 -3.8 0M495 269.6a1.9 1.9 0 1 0 3.8 0a1.9 1.9 0 1 0 -3.8 0M493.4 271.5a1.9 1.9 0 1 0 3.8 0a1.9 1.9 0 1 0 -3.8 0M489 274.1a1.9 1.9 0 1 0 3.8 0a1.9 1.9 0 1 0 -3.8 0M485.9 275.3a1.9 1.9 0 1 0 3.8 0a1.9 1.9 0 1 0 -3.8 0M484.4 277a1.9 1.9 0 1 0 3.8 0a1.9 1.9 0 1 0 -3.8 0M481.5 281a1.9 1.9 0 1 0 3.8 0a1.9 1.9 0 1 0 -3.8 0M479.6 283.2a1.9 1.9 0 1 0 3.8 0a1.9 1.9 0 1 0 -3.8 0M477.4 285.8a1.9 1.9 0 1 0 3.8 0a1.9 1.9 0 1 0 -3.8 0M476.2 287a1.9 1.9 0 1 0 3.8 0a1.9 1.9 0 1 0 -3.8 0M474.5 289.1a1.9 1.9 0 1 0 3.8 0a1.9 1.9 0 1 0 -3.8 0M472.2 291a1.9 1.9 0 1 0 3.8 0a1.9 1.9 0 1 0 -3.8 0M470.1 293.3a1.9 1.9 0 1 0 3.8 0a1.9 1.9 0 1 0 -3.8 0M468.6 295a1.9 1.9 0 1 0 3.8 0a1.9 1.9 0 1 0 -3.8 0M467.2 297.3a1.9 1.9 0 1 0 3.8 0a1.9 1.9 0 1 0 -3.8 0M511.6 257.9a1.9 1.9 0 1 0 3.8 0a1.9 1.9 0 1 0 -3.8 0M515 254a1.9 1.9 0 1 0 3.8 0a1.9 1.9 0 1 0 -3.8 0M487.6 276.9a1.9 1.9 0 1 0 3.8 0a1.9 1.9 0 1 0 -3.8 0M505.7 262.6a1.9 1.9 0 1 0 3.8 0a1.9 1.9 0 1 0 -3.8 0M496.4 269.4a1.9 1.9 0 1 0 3.8 0a1.9 1.9 0 1 0 -3.8 0M513 255.9a1.9 1.9 0 1 0 3.8 0a1.9 1.9 0 1 0 -3.8 0M497.5 266.9a1.9 1.9 0 1 0 3.8 0a1.9 1.9 0 1 0 -3.8 0M511.8 259.8a1.9 1.9 0 1 0 3.8 0a1.9 1.9 0 1 0 -3.8 0M483.3 280.7a1.9 1.9 0 1 0 3.8 0a1.9 1.9 0 1 0 -3.8 0M508.9 260.1a1.9 1.9 0 1 0 3.8 0a1.9 1.9 0 1 0 -3.8 0M489.3 275.1a1.9 1.9 0 1 0 3.8 0a1.9 1.9 0 1 0 -3.8 0M490.1 275.6a1.9 1.9 0 1 0 3.8 0a1.9 1.9 0 1 0 -3.8 0M484.4 279.2a1.9 1.9 0 1 0 3.8 0a1.9 1.9 0 1 0 -3.8 0M486.8 275.4a1.9 1.9 0 1 0 3.8 0a1.9 1.9 0 1 0 -3.8 0M474.2 290.9a1.9 1.9 0 1 0 3.8 0a1.9 1.9 0 1 0 -3.8 0M474 293.3a1.9 1.9 0 1 0 3.8 0a1.9 1.9 0 1 0 -3.8 0M504.1 261.7a1.9 1.9 0 1 0 3.8 0a1.9 1.9 0 1 0 -3.8 0M506.6 260.5a1.9 1.9 0 1 0 3.8 0a1.9 1.9 0 1 0 -3.8 0M483.5 280a1.9 1.9 0 1 0 3.8 0a1.9 1.9 0 1 0 -3.8 0M499.5 266.6a1.9 1.9 0 1 0 3.8 0a1.9 1.9 0 1 0 -3.8 0M468.7 296.7a1.9 1.9 0 1 0 3.8 0a1.9 1.9 0 1 0 -3.8 0M506.9 260.5a1.9 1.9 0 1 0 3.8 0a1.9 1.9 0 1 0 -3.8 0M474.2 290.6a1.9 1.9 0 1 0 3.8 0a1.9 1.9 0 1 0 -3.8 0M484.4 281.7a1.9 1.9 0 1 0 3.8 0a1.9 1.9 0 1 0 -3.8 0M491.8 275.4a1.9 1.9 0 1 0 3.8 0a1.9 1.9 0 1 0 -3.8 0M486.1 277.2a1.9 1.9 0 1 0 3.8 0a1.9 1.9 0 1 0 -3.8 0M499.5 265.8a1.9 1.9 0 1 0 3.8 0a1.9 1.9 0 1 0 -3.8 0M476.2 287.8a1.9 1.9 0 1 0 3.8 0a1.9 1.9 0 1 0 -3.8 0M472.2 295.2a1.9 1.9 0 1 0 3.8 0a1.9 1.9 0 1 0 -3.8 0M477.3 290.3a1.9 1.9 0 1 0 3.8 0a1.9 1.9 0 1 0 -3.8 0M476.6 287.9a1.9 1.9 0 1 0 3.8 0a1.9 1.9 0 1 0 -3.8 0M493.1 271.9a1.9 1.9 0 1 0 3.8 0a1.9 1.9 0 1 0 -3.8 0M475.7 291a1.9 1.9 0 1 0 3.8 0a1.9 1.9 0 1 0 -3.8 0M476.3 288.2a1.9 1.9 0 1 0 3.8 0a1.9 1.9 0 1 0 -3.8 0M501.6 264.1a1.9 1.9 0 1 0 3.8 0a1.9 1.9 0 1 0 -3.8 0M476.1 291.9a1.9 1.9 0 1 0 3.8 0a1.9 1.9 0 1 0 -3.8 0M502.4 263.7a1.9 1.9 0 1 0 3.8 0a1.9 1.9 0 1 0 -3.8 0M502.2 262.9a1.9 1.9 0 1 0 3.8 0a1.9 1.9 0 1 0 -3.8 0M483.4 281.2a1.9 1.9 0 1 0 3.8 0a1.9 1.9 0 1 0 -3.8 0M475.4 290.1a1.9 1.9 0 1 0 3.8 0a1.9 1.9 0 1 0 -3.8 0M487.5 275.7a1.9 1.9 0 1 0 3.8 0a1.9 1.9 0 1 0 -3.8 0M470.5 294.4a1.9 1.9 0 1 0 3.8 0a1.9 1.9 0 1 0 -3.8 0M470.9 297.6a1.9 1.9 0 1 0 3.8 0a1.9 1.9 0 1 0 -3.8 0M479.2 288.2a1.9 1.9 0 1 0 3.8 0a1.9 1.9 0 1 0 -3.8 0M493.2 272.7a1.9 1.9 0 1 0 3.8 0a1.9 1.9 0 1 0 -3.8 0M471.8 294.1a1.9 1.9 0 1 0 3.8 0a1.9 1.9 0 1 0 -3.8 0M497.2 270a1.9 1.9 0 1 0 3.8 0a1.9 1.9 0 1 0 -3.8 0M469.7 299.2a1.9 1.9 0 1 0 3.8 0a1.9 1.9 0 1 0 -3.8 0M506.6 261.7a1.9 1.9 0 1 0 3.8 0a1.9 1.9 0 1 0 -3.8 0M507.8 261.1a1.9 1.9 0 1 0 3.8 0a1.9 1.9 0 1 0 -3.8 0M509.1 259.6a1.9 1.9 0 1 0 3.8 0a1.9 1.9 0 1 0 -3.8 0M514.7 254.2a1.9 1.9 0 1 0 3.8 0a1.9 1.9 0 1 0 -3.8 0M474.6 292.8a1.9 1.9 0 1 0 3.8 0a1.9 1.9 0 1 0 -3.8 0M515.5 255.2a1.9 1.9 0 1 0 3.8 0a1.9 1.9 0 1 0 -3.8 0M467.4 296.9a1.9 1.9 0 1 0 3.8 0a1.9 1.9 0 1 0 -3.8 0M498.8 266.4a1.9 1.9 0 1 0 3.8 0a1.9 1.9 0 1 0 -3.8 0M511.5 258.3a1.9 1.9 0 1 0 3.8 0a1.9 1.9 0 1 0 -3.8 0M479.2 286.5a1.9 1.9 0 1 0 3.8 0a1.9 1.9 0 1 0 -3.8 0M506.2 260.5a1.9 1.9 0 1 0 3.8 0a1.9 1.9 0 1 0 -3.8 0M482.1 284.6a1.9 1.9 0 1 0 3.8 0a1.9 1.9 0 1 0 -3.8 0M476.8 290.9a1.9 1.9 0 1 0 3.8 0a1.9 1.9 0 1 0 -3.8 0M515.4 255.9a1.9 1.9 0 1 0 3.8 0a1.9 1.9 0 1 0 -3.8 0M499.8 267a1.9 1.9 0 1 0 3.8 0a1.9 1.9 0 1 0 -3.8 0M506 263.4a1.9 1.9 0 1 0 3.8 0a1.9 1.9 0 1 0 -3.8 0M475.1 289.7a1.9 1.9 0 1 0 3.8 0a1.9 1.9 0 1 0 -3.8 0M471.6 294.5a1.9 1.9 0 1 0 3.8 0a1.9 1.9 0 1 0 -3.8 0M479.3 283.8a1.9 1.9 0 1 0 3.8 0a1.9 1.9 0 1 0 -3.8 0M487.7 277.5a1.9 1.9 0 1 0 3.8 0a1.9 1.9 0 1 0 -3.8 0M474.1 291.5a1.9 1.9 0 1 0 3.8 0a1.9 1.9 0 1 0 -3.8 0M476.5 287a1.9 1.9 0 1 0 3.8 0a1.9 1.9 0 1 0 -3.8 0M488.7 274.7a1.9 1.9 0 1 0 3.8 0a1.9 1.9 0 1 0 -3.8 0M476.8 286.9a1.9 1.9 0 1 0 3.8 0a1.9 1.9 0 1 0 -3.8 0M473.5 294a1.9 1.9 0 1 0 3.8 0a1.9 1.9 0 1 0 -3.8 0M536.1 243.6a1.9 1.9 0 1 0 3.8 0a1.9 1.9 0 1 0 -3.8 0M529.9 243.1a1.9 1.9 0 1 0 3.8 0a1.9 1.9 0 1 0 -3.8 0M528.5 246.2a1.9 1.9 0 1 0 3.8 0a1.9 1.9 0 1 0 -3.8 0M524.8 248.8a1.9 1.9 0 1 0 3.8 0a1.9 1.9 0 1 0 -3.8 0M524.1 253.3a1.9 1.9 0 1 0 3.8 0a1.9 1.9 0 1 0 -3.8 0M521.3 250a1.9 1.9 0 1 0 3.8 0a1.9 1.9 0 1 0 -3.8 0M520.2 254.7a1.9 1.9 0 1 0 3.8 0a1.9 1.9 0 1 0 -3.8 0M516.3 251a1.9 1.9 0 1 0 3.8 0a1.9 1.9 0 1 0 -3.8 0M514.9 253.6a1.9 1.9 0 1 0 3.8 0a1.9 1.9 0 1 0 -3.8 0M486.1 275a1.9 1.9 0 1 0 3.8 0a1.9 1.9 0 1 0 -3.8 0M489.1 273a1.9 1.9 0 1 0 3.8 0a1.9 1.9 0 1 0 -3.8 0M492.1 272.5a1.9 1.9 0 1 0 3.8 0a1.9 1.9 0 1 0 -3.8 0M495.1 270a1.9 1.9 0 1 0 3.8 0a1.9 1.9 0 1 0 -3.8 0M488.1 277.5a1.9 1.9 0 1 0 3.8 0a1.9 1.9 0 1 0 -3.8 0M483.1 279a1.9 1.9 0 1 0 3.8 0a1.9 1.9 0 1 0 -3.8 0" fill="none" stroke="#0000ff" stroke-width="1.4"/>
</svg>
</body></html>
